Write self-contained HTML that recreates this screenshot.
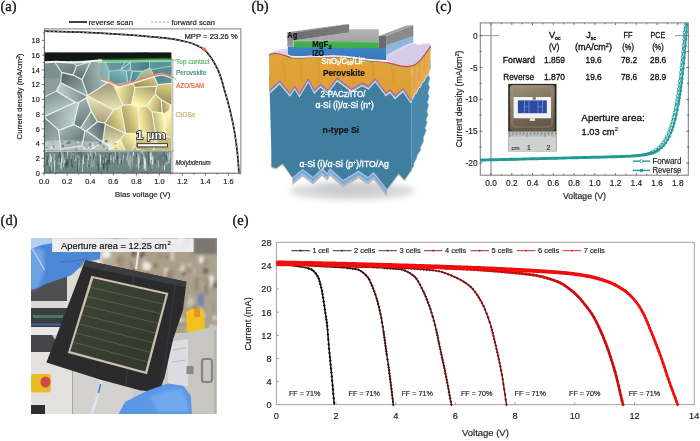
<!DOCTYPE html>
<html><head><meta charset="utf-8"><title>Figure</title>
<style>
html,body{margin:0;padding:0;background:#fff;}
body{width:700px;height:441px;overflow:hidden;}
svg{display:block;}
text{font-family:"Liberation Sans", Arial, sans-serif;}
.serif{font-family:"Liberation Serif", "Times New Roman", serif;}
</style></head><body>
<svg width="700" height="441" viewBox="0 0 700 441">
<defs>
<filter id="blur1" filterUnits="userSpaceOnUse" x="0" y="0" width="700" height="441"><feGaussianBlur stdDeviation="0.6"/></filter>
<filter id="blur2" filterUnits="userSpaceOnUse" x="0" y="0" width="700" height="441"><feGaussianBlur stdDeviation="1.5"/></filter>
<filter id="blur3" filterUnits="userSpaceOnUse" x="0" y="0" width="700" height="441"><feGaussianBlur stdDeviation="3"/></filter>
<filter id="blur5" filterUnits="userSpaceOnUse" x="0" y="0" width="700" height="441"><feGaussianBlur stdDeviation="5"/></filter>
<clipPath id="semclip"><rect x="44.6" y="52.4" width="126.7" height="120.6"/></clipPath>
<clipPath id="photod"><rect x="31" y="238" width="186" height="176"/></clipPath>
<clipPath id="insetc"><rect x="508.2" y="83.7" width="48.3" height="67.7"/></clipPath>
</defs>
<rect width="700" height="441" fill="#fff"/>

<text class="serif" x="0.5" y="10.9" font-size="14.5" fill="#111" stroke="#111" stroke-width="0.3">(a)</text>
<text class="serif" x="251.6" y="11.1" font-size="14.5" fill="#111" stroke="#111" stroke-width="0.3">(b)</text>
<text class="serif" x="435.5" y="11.1" font-size="14.5" fill="#111" stroke="#111" stroke-width="0.3">(c)</text>
<text class="serif" x="0.6" y="225" font-size="14.5" fill="#111" stroke="#111" stroke-width="0.3">(d)</text>
<text class="serif" x="232.4" y="225.2" font-size="14.5" fill="#111" stroke="#111" stroke-width="0.3">(e)</text>
<g clip-path="url(#semclip)">
<rect x="44" y="52" width="128" height="122" fill="#8c9a9a"/>
<linearGradient id="cigs" x1="0" y1="0" x2="1" y2="0"><stop offset="0" stop-color="#8b9c9e"/><stop offset="0.45" stop-color="#93a09c"/><stop offset="0.62" stop-color="#b9b078"/><stop offset="1" stop-color="#c9bb78"/></linearGradient>
<rect x="44" y="75" width="128" height="80" fill="url(#cigs)"/>
<linearGradient id="pvk" x1="0" y1="0" x2="1" y2="0"><stop offset="0" stop-color="#7d8f90"/><stop offset="0.5" stop-color="#6f9297"/><stop offset="1" stop-color="#4f8f98"/></linearGradient>
<path d="M44,60 L172,58 L172,74 L160,73 L140,79 L118,86 L102,77 L80,79 L44,78 Z" fill="url(#pvk)"/>
<linearGradient id="g0" x1="1.00" y1="0.57" x2="0.00" y2="0.43"><stop offset="0" stop-color="rgb(197,218,218)"/><stop offset="1" stop-color="rgb(127,141,141)"/></linearGradient>
<polygon points="58.8,130.4 73.7,124.7 79,102.2 75.4,102.2 43.8,116.8" fill="url(#g0)" stroke="rgba(240,245,240,0.85)" stroke-width="1.1"/>
<linearGradient id="g1" x1="0.00" y1="0.46" x2="1.00" y2="0.54"><stop offset="0" stop-color="rgb(175,196,196)"/><stop offset="1" stop-color="rgb(112,126,126)"/></linearGradient>
<polygon points="97.6,121.7 91.3,111 80.5,127.9 84.9,131.1 86.5,130.8" fill="url(#g1)" stroke="rgba(240,245,240,0.85)" stroke-width="1.1"/>
<linearGradient id="g2" x1="0.94" y1="0.74" x2="0.06" y2="0.26"><stop offset="0" stop-color="rgb(117,184,194)"/><stop offset="1" stop-color="rgb(72,118,124)"/></linearGradient>
<polygon points="126.3,71.2 130.6,70.2 130.4,61.9 121,69.8" fill="url(#g2)" stroke="rgba(240,245,240,0.85)" stroke-width="1.1"/>
<linearGradient id="g4" x1="0.87" y1="0.83" x2="0.13" y2="0.17"><stop offset="0" stop-color="rgb(146,168,168)"/><stop offset="1" stop-color="rgb(92,107,107)"/></linearGradient>
<polygon points="87.5,95.8 87.2,96.2 60.6,82.8 61.6,72.4 73.2,75.1 82,79.5 87.7,95.4" fill="url(#g4)" stroke="rgba(240,245,240,0.85)" stroke-width="1.1"/>
<linearGradient id="g6" x1="0.04" y1="0.32" x2="0.96" y2="0.68"><stop offset="0" stop-color="rgb(255,242,163)"/><stop offset="1" stop-color="rgb(168,157,104)"/></linearGradient>
<polygon points="162.3,112.7 152.2,111.9 146.3,105.7 155.4,94.2 161.3,99.8" fill="url(#g6)" stroke="rgba(240,245,240,0.85)" stroke-width="1.1"/>
<linearGradient id="g7" x1="0.99" y1="0.39" x2="0.01" y2="0.61"><stop offset="0" stop-color="rgb(128,195,204)"/><stop offset="1" stop-color="rgb(80,125,132)"/></linearGradient>
<polygon points="126.3,71.2 127.7,82.5 129.8,82.8 132.6,71.4 130.6,70.2" fill="url(#g7)" stroke="rgba(240,245,240,0.85)" stroke-width="1.1"/>
<linearGradient id="g8" x1="0.80" y1="0.10" x2="0.20" y2="0.90"><stop offset="0" stop-color="rgb(255,244,165)"/><stop offset="1" stop-color="rgb(169,159,105)"/></linearGradient>
<polygon points="136.1,133.5 125.5,133 125.1,133.2 120.3,139.6 127.5,155.3 135,146.3" fill="url(#g8)" stroke="rgba(240,245,240,0.85)" stroke-width="1.1"/>
<linearGradient id="g9" x1="0.54" y1="1.00" x2="0.46" y2="0.00"><stop offset="0" stop-color="rgb(242,235,185)"/><stop offset="1" stop-color="rgb(157,152,119)"/></linearGradient>
<polygon points="105.3,124.1 125.1,133.2 120.3,139.6 108.9,146.3 102.8,142.4 102.6,142.1" fill="url(#g9)" stroke="rgba(240,245,240,0.85)" stroke-width="1.1"/>
<linearGradient id="g10" x1="0.04" y1="0.31" x2="0.96" y2="0.69"><stop offset="0" stop-color="rgb(96,163,172)"/><stop offset="1" stop-color="rgb(58,104,110)"/></linearGradient>
<polygon points="130.6,70.2 132.6,71.4 142.7,71.4 149.8,68.2 145.9,5.7 133.4,48.1 130.4,61.9" fill="url(#g10)" stroke="rgba(240,245,240,0.85)" stroke-width="1.1"/>
<linearGradient id="g11" x1="0.01" y1="0.61" x2="0.99" y2="0.39"><stop offset="0" stop-color="rgb(255,244,165)"/><stop offset="1" stop-color="rgb(169,159,105)"/></linearGradient>
<polygon points="155.9,135.9 152.2,111.9 146.3,105.7 138.4,107.5 139,132.3" fill="url(#g11)" stroke="rgba(240,245,240,0.85)" stroke-width="1.1"/>
<linearGradient id="g13" x1="0.98" y1="0.36" x2="0.02" y2="0.64"><stop offset="0" stop-color="rgb(238,223,144)"/><stop offset="1" stop-color="rgb(155,144,91)"/></linearGradient>
<polygon points="162.3,112.7 161.3,99.8 171.2,104.9 169.5,110.6 164.4,113.8" fill="url(#g13)" stroke="rgba(240,245,240,0.85)" stroke-width="1.1"/>
<linearGradient id="g14" x1="0.71" y1="0.05" x2="0.29" y2="0.95"><stop offset="0" stop-color="rgb(255,241,162)"/><stop offset="1" stop-color="rgb(167,156,103)"/></linearGradient>
<polygon points="155.9,135.9 139,132.3 136.1,133.5 135,146.3 137.7,149.4 152.5,152 158.2,137.2" fill="url(#g14)" stroke="rgba(240,245,240,0.85)" stroke-width="1.1"/>
<linearGradient id="g16" x1="0.69" y1="0.04" x2="0.31" y2="0.96"><stop offset="0" stop-color="rgb(165,187,187)"/><stop offset="1" stop-color="rgb(105,120,120)"/></linearGradient>
<polygon points="86.5,130.8 84.9,131.1 81.9,145.6 88.3,150.7 102.8,142.4 102.6,142.1" fill="url(#g16)" stroke="rgba(240,245,240,0.85)" stroke-width="1.1"/>
<linearGradient id="g18" x1="0.91" y1="0.78" x2="0.09" y2="0.22"><stop offset="0" stop-color="rgb(115,182,191)"/><stop offset="1" stop-color="rgb(71,116,123)"/></linearGradient>
<polygon points="150.9,69.7 249.9,52.1 204.8,74.1 184.5,82.1 157.6,84.7" fill="url(#g18)" stroke="rgba(240,245,240,0.85)" stroke-width="1.1"/>
<linearGradient id="g20" x1="0.86" y1="0.15" x2="0.14" y2="0.85"><stop offset="0" stop-color="rgb(241,225,146)"/><stop offset="1" stop-color="rgb(156,146,92)"/></linearGradient>
<polygon points="184.5,82.1 172.4,104.2 179.8,108.3 204.8,74.1" fill="url(#g20)" stroke="rgba(240,245,240,0.85)" stroke-width="1.1"/>
<linearGradient id="g21" x1="0.01" y1="0.42" x2="0.99" y2="0.58"><stop offset="0" stop-color="rgb(255,249,170)"/><stop offset="1" stop-color="rgb(172,162,108)"/></linearGradient>
<polygon points="127.7,82.5 113.6,85 122.9,105.3 131.5,104.6 135.1,87.5 133.1,84.5 129.8,82.8" fill="url(#g21)" stroke="rgba(240,245,240,0.85)" stroke-width="1.1"/>
<linearGradient id="g22" x1="0.55" y1="1.00" x2="0.45" y2="0.00"><stop offset="0" stop-color="rgb(235,228,178)"/><stop offset="1" stop-color="rgb(152,148,114)"/></linearGradient>
<polygon points="120.8,107.5 113.6,110 87.5,95.8 87.7,95.4 109,81.8 113.6,85 122.9,105.3" fill="url(#g22)" stroke="rgba(240,245,240,0.85)" stroke-width="1.1"/>
<linearGradient id="g23" x1="0.41" y1="0.01" x2="0.59" y2="0.99"><stop offset="0" stop-color="rgb(162,183,183)"/><stop offset="1" stop-color="rgb(103,117,117)"/></linearGradient>
<polygon points="79,102.2 86.2,97.8 91.3,111 80.5,127.9 73.7,124.7" fill="url(#g23)" stroke="rgba(240,245,240,0.85)" stroke-width="1.1"/>
<linearGradient id="g24" x1="0.46" y1="0.00" x2="0.54" y2="1.00"><stop offset="0" stop-color="rgb(255,251,172)"/><stop offset="1" stop-color="rgb(174,164,110)"/></linearGradient>
<polygon points="120.3,139.6 108.9,146.3 109.2,148.3 125.3,169.2 127.5,155.3" fill="url(#g24)" stroke="rgba(240,245,240,0.85)" stroke-width="1.1"/>
<linearGradient id="g27" x1="0.96" y1="0.30" x2="0.04" y2="0.70"><stop offset="0" stop-color="rgb(105,172,182)"/><stop offset="1" stop-color="rgb(64,110,116)"/></linearGradient>
<polygon points="129.8,82.8 133.1,84.5 142.7,71.4 132.6,71.4" fill="url(#g27)" stroke="rgba(240,245,240,0.85)" stroke-width="1.1"/>
<linearGradient id="g29" x1="0.10" y1="0.20" x2="0.90" y2="0.80"><stop offset="0" stop-color="rgb(255,246,166)"/><stop offset="1" stop-color="rgb(170,160,106)"/></linearGradient>
<polygon points="164.4,113.8 165.3,136.4 174.8,138.1 197,140 188,127.2 169.5,110.6" fill="url(#g29)" stroke="rgba(240,245,240,0.85)" stroke-width="1.1"/>
<linearGradient id="g30" x1="0.75" y1="0.07" x2="0.25" y2="0.93"><stop offset="0" stop-color="rgb(242,227,148)"/><stop offset="1" stop-color="rgb(157,147,93)"/></linearGradient>
<polygon points="142.7,71.4 133.1,84.5 135.1,87.5 156.7,86.2 157.6,84.7 150.9,69.7 149.8,68.2" fill="url(#g30)" stroke="rgba(240,245,240,0.85)" stroke-width="1.1"/>
<linearGradient id="g31" x1="0.96" y1="0.31" x2="0.04" y2="0.69"><stop offset="0" stop-color="rgb(255,253,174)"/><stop offset="1" stop-color="rgb(175,164,111)"/></linearGradient>
<polygon points="155.9,135.9 152.2,111.9 162.3,112.7 164.4,113.8 165.3,136.4 158.2,137.2" fill="url(#g31)" stroke="rgba(240,245,240,0.85)" stroke-width="1.1"/>
<linearGradient id="g32" x1="0.26" y1="0.06" x2="0.74" y2="0.94"><stop offset="0" stop-color="rgb(178,202,202)"/><stop offset="1" stop-color="rgb(114,130,130)"/></linearGradient>
<polygon points="73.2,75.1 61.6,72.4 36,34 76.6,65.6" fill="url(#g32)" stroke="rgba(240,245,240,0.85)" stroke-width="1.1"/>
<linearGradient id="g34" x1="0.79" y1="0.90" x2="0.21" y2="0.10"><stop offset="0" stop-color="rgb(163,184,184)"/><stop offset="1" stop-color="rgb(104,118,118)"/></linearGradient>
<polygon points="58.8,130.4 60.7,149 55.7,160 37.5,140.6 27.8,110 43.8,116.8" fill="url(#g34)" stroke="rgba(240,245,240,0.85)" stroke-width="1.1"/>
<linearGradient id="g35" x1="0.98" y1="0.35" x2="0.02" y2="0.65"><stop offset="0" stop-color="rgb(179,203,203)"/><stop offset="1" stop-color="rgb(115,131,131)"/></linearGradient>
<polygon points="109,81.8 109.2,71.3 99.8,48.3 90.4,61.7 82,79.5 87.7,95.4" fill="url(#g35)" stroke="rgba(240,245,240,0.85)" stroke-width="1.1"/>
<linearGradient id="g36" x1="0.14" y1="0.16" x2="0.86" y2="0.84"><stop offset="0" stop-color="rgb(157,178,178)"/><stop offset="1" stop-color="rgb(100,114,114)"/></linearGradient>
<polygon points="81.9,145.6 60.7,149 58.8,130.4 73.7,124.7 80.5,127.9 84.9,131.1" fill="url(#g36)" stroke="rgba(240,245,240,0.85)" stroke-width="1.1"/>
<linearGradient id="g38" x1="0.32" y1="0.03" x2="0.68" y2="0.97"><stop offset="0" stop-color="rgb(123,190,199)"/><stop offset="1" stop-color="rgb(76,122,128)"/></linearGradient>
<polygon points="121,69.8 120.6,69.8 133.4,48.1 130.4,61.9" fill="url(#g38)" stroke="rgba(240,245,240,0.85)" stroke-width="1.1"/>
<linearGradient id="g39" x1="0.24" y1="0.92" x2="0.76" y2="0.08"><stop offset="0" stop-color="rgb(255,251,172)"/><stop offset="1" stop-color="rgb(174,164,110)"/></linearGradient>
<polygon points="156.7,86.2 155.4,94.2 146.3,105.7 138.4,107.5 131.5,104.6 135.1,87.5" fill="url(#g39)" stroke="rgba(240,245,240,0.85)" stroke-width="1.1"/>
<linearGradient id="g42" x1="0.59" y1="0.01" x2="0.41" y2="0.99"><stop offset="0" stop-color="rgb(144,168,168)"/><stop offset="1" stop-color="rgb(91,107,107)"/></linearGradient>
<polygon points="82,79.5 90.4,61.7 76.6,65.6 73.2,75.1" fill="url(#g42)" stroke="rgba(240,245,240,0.85)" stroke-width="1.1"/>
<linearGradient id="g44" x1="0.81" y1="0.89" x2="0.19" y2="0.11"><stop offset="0" stop-color="rgb(188,209,209)"/><stop offset="1" stop-color="rgb(120,135,135)"/></linearGradient>
<polygon points="43.8,116.8 27.8,110 23.7,107.3 56.2,91.1 75.4,102.2" fill="url(#g44)" stroke="rgba(240,245,240,0.85)" stroke-width="1.1"/>
<linearGradient id="g45" x1="0.78" y1="0.09" x2="0.22" y2="0.91"><stop offset="0" stop-color="rgb(137,204,214)"/><stop offset="1" stop-color="rgb(86,132,138)"/></linearGradient>
<polygon points="126.3,71.2 127.7,82.5 113.6,85 109,81.8 109.2,71.3 120.6,69.8 121,69.8" fill="url(#g45)" stroke="rgba(240,245,240,0.85)" stroke-width="1.1"/>
<linearGradient id="g48" x1="0.63" y1="0.02" x2="0.37" y2="0.98"><stop offset="0" stop-color="rgb(231,216,137)"/><stop offset="1" stop-color="rgb(150,140,86)"/></linearGradient>
<polygon points="156.7,86.2 155.4,94.2 161.3,99.8 171.2,104.9 172.4,104.2 184.5,82.1 157.6,84.7" fill="url(#g48)" stroke="rgba(240,245,240,0.85)" stroke-width="1.1"/>
<linearGradient id="g49" x1="0.57" y1="0.00" x2="0.43" y2="1.00"><stop offset="0" stop-color="rgb(246,238,189)"/><stop offset="1" stop-color="rgb(160,155,121)"/></linearGradient>
<polygon points="104.9,123.3 113.6,110 87.5,95.8 87.2,96.2 86.2,97.8 91.3,111 97.6,121.7" fill="url(#g49)" stroke="rgba(240,245,240,0.85)" stroke-width="1.1"/>
<linearGradient id="g50" x1="0.93" y1="0.25" x2="0.07" y2="0.75"><stop offset="0" stop-color="rgb(243,228,149)"/><stop offset="1" stop-color="rgb(158,148,94)"/></linearGradient>
<polygon points="136.1,133.5 125.5,133 120.8,107.5 122.9,105.3 131.5,104.6 138.4,107.5 139,132.3" fill="url(#g50)" stroke="rgba(240,245,240,0.85)" stroke-width="1.1"/>
<linearGradient id="g51" x1="0.92" y1="0.23" x2="0.08" y2="0.77"><stop offset="0" stop-color="rgb(247,231,152)"/><stop offset="1" stop-color="rgb(160,150,96)"/></linearGradient>
<polygon points="104.9,123.3 113.6,110 120.8,107.5 125.5,133 125.1,133.2 105.3,124.1" fill="url(#g51)" stroke="rgba(240,245,240,0.85)" stroke-width="1.1"/>
<linearGradient id="g52" x1="0.22" y1="0.08" x2="0.78" y2="0.92"><stop offset="0" stop-color="rgb(255,255,178)"/><stop offset="1" stop-color="rgb(178,168,114)"/></linearGradient>
<polygon points="169.5,110.6 188,127.2 179.8,108.3 172.4,104.2 171.2,104.9" fill="url(#g52)" stroke="rgba(240,245,240,0.85)" stroke-width="1.1"/>
<linearGradient id="g53" x1="0.03" y1="0.67" x2="0.97" y2="0.33"><stop offset="0" stop-color="rgb(146,168,168)"/><stop offset="1" stop-color="rgb(92,107,107)"/></linearGradient>
<polygon points="104.9,123.3 97.6,121.7 86.5,130.8 102.6,142.1 105.3,124.1" fill="url(#g53)" stroke="rgba(240,245,240,0.85)" stroke-width="1.1"/>
<linearGradient id="g54" x1="0.00" y1="0.54" x2="1.00" y2="0.46"><stop offset="0" stop-color="rgb(191,212,212)"/><stop offset="1" stop-color="rgb(123,137,137)"/></linearGradient>
<polygon points="75.4,102.2 56.2,91.1 60.6,82.8 87.2,96.2 86.2,97.8 79,102.2" fill="url(#g54)" stroke="rgba(240,245,240,0.85)" stroke-width="1.1"/>
<path d="M100,61 L172,60 L172,76.6 L162,73.4 L148.4,76.8 L119,85.6 L100.7,78.6 Z" fill="#5e9ea6" opacity="0.4"/>
<path d="M44,52 L172,52 L172,60 L150,59.6 L130,60.4 L110,60.6 L90,60.6 L70,61 L44,61.2 Z" fill="#101915"/>
<path d="M98,60.2 Q120,60.4 140,59.8 T172,59.4" stroke="#3f9a50" stroke-width="3.2" fill="none" opacity="0.55"/>
<path d="M98,61 Q120,61.2 140,60.6 T172,60.2" stroke="#6ee07a" stroke-width="1.5" fill="none" opacity="0.95"/>
<path d="M98,62.2 Q120,62.4 140,61.8 T172,61.4" stroke="#e8f4ea" stroke-width="0.8" fill="none" opacity="0.8"/>
<path d="M44,62.4 Q55,61.2 66,62.2 T88,61.6 T102,60.6" stroke="#f4f6f4" stroke-width="2" fill="none"/>
<path d="M100.7,78.6 Q110,81 119,85.6 Q134,82 148.4,76.8 Q156,74 162,73.4 L172,76.6" stroke="#e5866a" stroke-width="1.6" fill="none"/>
<path d="M100.7,80.2 Q110,82.6 119,87.2 Q134,83.6 148.4,78.4 Q156,75.6 162,75 L172,78.2" stroke="#f3ece6" stroke-width="1.2" fill="none"/>
<path d="M44,141 Q70,139 100,142 L112,143 L112,151 L44,151 Z" fill="#e4ecea" opacity="0.45"/>
<circle cx="76.1" cy="149.5" r="1.5" fill="#7d9290" opacity="0.8"/>
<circle cx="46.4" cy="144.6" r="1.4" fill="#c9d5d3" opacity="0.8"/>
<circle cx="84.2" cy="148.9" r="1.5" fill="#c9d5d3" opacity="0.8"/>
<circle cx="52.9" cy="142.4" r="0.6" fill="#7d9290" opacity="0.8"/>
<circle cx="110.3" cy="149" r="1.2" fill="#f2f6f5" opacity="0.8"/>
<circle cx="79.6" cy="141.2" r="1.1" fill="#7d9290" opacity="0.8"/>
<circle cx="93.1" cy="145.2" r="1" fill="#f2f6f5" opacity="0.8"/>
<circle cx="69.3" cy="142.5" r="1.5" fill="#5d706f" opacity="0.8"/>
<circle cx="104.1" cy="140.6" r="0.8" fill="#f2f6f5" opacity="0.8"/>
<circle cx="83.6" cy="148.2" r="0.8" fill="#c9d5d3" opacity="0.8"/>
<circle cx="112.2" cy="148.1" r="1.4" fill="#f2f6f5" opacity="0.8"/>
<circle cx="80.1" cy="145.7" r="1" fill="#c9d5d3" opacity="0.8"/>
<circle cx="62.4" cy="146.2" r="1.1" fill="#f2f6f5" opacity="0.8"/>
<circle cx="79" cy="147.8" r="0.6" fill="#f2f6f5" opacity="0.8"/>
<circle cx="101.4" cy="140.5" r="0.6" fill="#5d706f" opacity="0.8"/>
<circle cx="116.1" cy="148.5" r="0.7" fill="#5d706f" opacity="0.8"/>
<circle cx="67.4" cy="143.1" r="1" fill="#5d706f" opacity="0.8"/>
<circle cx="87.4" cy="143.6" r="0.8" fill="#c9d5d3" opacity="0.8"/>
<circle cx="75.7" cy="141.3" r="0.6" fill="#5d706f" opacity="0.8"/>
<circle cx="102.9" cy="145.7" r="0.6" fill="#5d706f" opacity="0.8"/>
<circle cx="88.7" cy="147.8" r="1" fill="#f2f6f5" opacity="0.8"/>
<circle cx="90.1" cy="144.3" r="1" fill="#5d706f" opacity="0.8"/>
<circle cx="100.2" cy="143.1" r="1.6" fill="#5d706f" opacity="0.8"/>
<circle cx="78.1" cy="142.5" r="1.1" fill="#f2f6f5" opacity="0.8"/>
<circle cx="103.4" cy="142.2" r="0.7" fill="#f2f6f5" opacity="0.8"/>
<circle cx="113.3" cy="143.7" r="1.5" fill="#c9d5d3" opacity="0.8"/>
<circle cx="53" cy="146.9" r="1.5" fill="#5d706f" opacity="0.8"/>
<circle cx="93.4" cy="147.3" r="1.2" fill="#f2f6f5" opacity="0.8"/>
<circle cx="104.1" cy="147.2" r="1.1" fill="#7d9290" opacity="0.8"/>
<circle cx="101.3" cy="140.4" r="0.7" fill="#f2f6f5" opacity="0.8"/>
<circle cx="92.8" cy="143.8" r="1.4" fill="#c9d5d3" opacity="0.8"/>
<circle cx="106.3" cy="141.2" r="1.4" fill="#5d706f" opacity="0.8"/>
<circle cx="105.9" cy="149.5" r="1.2" fill="#f2f6f5" opacity="0.8"/>
<circle cx="46.7" cy="147.7" r="1.1" fill="#7d9290" opacity="0.8"/>
<circle cx="51.9" cy="147.5" r="1.5" fill="#f2f6f5" opacity="0.8"/>
<circle cx="84.7" cy="148.7" r="0.8" fill="#f2f6f5" opacity="0.8"/>
<circle cx="61.9" cy="141.8" r="0.8" fill="#5d706f" opacity="0.8"/>
<circle cx="62.7" cy="146" r="1.5" fill="#5d706f" opacity="0.8"/>
<circle cx="115.5" cy="143.8" r="0.8" fill="#5d706f" opacity="0.8"/>
<circle cx="106.4" cy="149.7" r="1" fill="#5d706f" opacity="0.8"/>
<rect x="44" y="150.5" width="128" height="23" fill="#6f8584"/>
<line x1="64" y1="154.5" x2="63.5" y2="167.3" stroke="#d3dfdd" stroke-width="0.8" opacity="0.85"/>
<line x1="161.3" y1="155.7" x2="161.8" y2="163.5" stroke="#3a4d4f" stroke-width="0.5" opacity="0.85"/>
<line x1="140.3" y1="152" x2="140.7" y2="160.6" stroke="#d3dfdd" stroke-width="0.7" opacity="0.85"/>
<line x1="143.8" y1="157.2" x2="144.2" y2="169.6" stroke="#f7fbfa" stroke-width="0.8" opacity="0.85"/>
<line x1="78.2" y1="152.7" x2="78.6" y2="155.9" stroke="#9fb2b1" stroke-width="0.5" opacity="0.85"/>
<line x1="116.9" y1="152.9" x2="116.5" y2="161.2" stroke="#52696a" stroke-width="1" opacity="0.85"/>
<line x1="105.4" y1="156.5" x2="105.9" y2="164.6" stroke="#52696a" stroke-width="0.8" opacity="0.85"/>
<line x1="47.6" y1="160.4" x2="47.9" y2="164.2" stroke="#9fb2b1" stroke-width="0.9" opacity="0.85"/>
<line x1="49.9" y1="159.6" x2="50.1" y2="172.4" stroke="#3a4d4f" stroke-width="0.8" opacity="0.85"/>
<line x1="166.7" y1="159" x2="167" y2="164.7" stroke="#d3dfdd" stroke-width="0.5" opacity="0.85"/>
<line x1="123.6" y1="157.3" x2="123.2" y2="160.7" stroke="#2c3d3e" stroke-width="0.4" opacity="0.85"/>
<line x1="67.5" y1="151.4" x2="67" y2="163.2" stroke="#eef4f2" stroke-width="0.9" opacity="0.85"/>
<line x1="81.3" y1="154.1" x2="81.1" y2="163.4" stroke="#3a4d4f" stroke-width="0.4" opacity="0.85"/>
<line x1="86.4" y1="154.3" x2="86.5" y2="158.2" stroke="#3a4d4f" stroke-width="1" opacity="0.85"/>
<line x1="94" y1="155.9" x2="93.5" y2="160.3" stroke="#2c3d3e" stroke-width="0.7" opacity="0.85"/>
<line x1="100.1" y1="155.8" x2="100.6" y2="161.5" stroke="#f7fbfa" stroke-width="0.6" opacity="0.85"/>
<line x1="142.9" y1="158.1" x2="143.1" y2="164.3" stroke="#3a4d4f" stroke-width="1" opacity="0.85"/>
<line x1="148.6" y1="151.6" x2="148.8" y2="165" stroke="#2c3d3e" stroke-width="0.7" opacity="0.85"/>
<line x1="58.5" y1="155.4" x2="58.3" y2="162.3" stroke="#3a4d4f" stroke-width="0.8" opacity="0.85"/>
<line x1="139" y1="157" x2="138.6" y2="168" stroke="#d3dfdd" stroke-width="0.9" opacity="0.85"/>
<line x1="127.9" y1="151.7" x2="128.4" y2="165" stroke="#d3dfdd" stroke-width="0.8" opacity="0.85"/>
<line x1="127.1" y1="154.7" x2="127.1" y2="161" stroke="#d3dfdd" stroke-width="0.6" opacity="0.85"/>
<line x1="66.6" y1="151.2" x2="66.6" y2="162.1" stroke="#52696a" stroke-width="0.7" opacity="0.85"/>
<line x1="94.2" y1="151.5" x2="94.6" y2="157.5" stroke="#eef4f2" stroke-width="0.4" opacity="0.85"/>
<line x1="108.6" y1="153" x2="109.1" y2="164.4" stroke="#2c3d3e" stroke-width="1" opacity="0.85"/>
<line x1="101.4" y1="158.6" x2="101.8" y2="162.4" stroke="#9fb2b1" stroke-width="0.5" opacity="0.85"/>
<line x1="78.6" y1="151.5" x2="79.1" y2="155.7" stroke="#52696a" stroke-width="0.5" opacity="0.85"/>
<line x1="133.4" y1="156.2" x2="133.7" y2="166.5" stroke="#9fb2b1" stroke-width="0.8" opacity="0.85"/>
<line x1="119.8" y1="152" x2="119.8" y2="159.3" stroke="#d3dfdd" stroke-width="0.5" opacity="0.85"/>
<line x1="66.9" y1="159.2" x2="66.3" y2="166.3" stroke="#2c3d3e" stroke-width="0.9" opacity="0.85"/>
<line x1="158.1" y1="160" x2="158.6" y2="167.2" stroke="#f7fbfa" stroke-width="0.6" opacity="0.85"/>
<line x1="107.7" y1="155.8" x2="107.9" y2="166.6" stroke="#52696a" stroke-width="0.4" opacity="0.85"/>
<line x1="68.4" y1="156.8" x2="68.6" y2="161" stroke="#52696a" stroke-width="0.7" opacity="0.85"/>
<line x1="111" y1="155.1" x2="110.7" y2="160.2" stroke="#f7fbfa" stroke-width="0.9" opacity="0.85"/>
<line x1="162.5" y1="160" x2="163.1" y2="164.2" stroke="#2c3d3e" stroke-width="0.9" opacity="0.85"/>
<line x1="61.4" y1="158.4" x2="60.8" y2="168.3" stroke="#eef4f2" stroke-width="0.8" opacity="0.85"/>
<line x1="108.8" y1="155.5" x2="108.5" y2="158.7" stroke="#2c3d3e" stroke-width="0.9" opacity="0.85"/>
<line x1="132.9" y1="151.8" x2="133.2" y2="164.3" stroke="#f7fbfa" stroke-width="0.4" opacity="0.85"/>
<line x1="54.2" y1="160.4" x2="54.8" y2="173" stroke="#d3dfdd" stroke-width="0.9" opacity="0.85"/>
<line x1="99.9" y1="158.1" x2="100.3" y2="166.4" stroke="#eef4f2" stroke-width="0.6" opacity="0.85"/>
<line x1="152.2" y1="157.6" x2="152.4" y2="164.9" stroke="#9fb2b1" stroke-width="0.7" opacity="0.85"/>
<line x1="98" y1="157" x2="98" y2="163.3" stroke="#9fb2b1" stroke-width="0.8" opacity="0.85"/>
<line x1="100.1" y1="155.1" x2="100" y2="158.5" stroke="#2c3d3e" stroke-width="0.6" opacity="0.85"/>
<line x1="111.8" y1="156.5" x2="112.1" y2="161.9" stroke="#eef4f2" stroke-width="0.6" opacity="0.85"/>
<line x1="91.3" y1="159.1" x2="91" y2="167.9" stroke="#d3dfdd" stroke-width="0.5" opacity="0.85"/>
<line x1="95.7" y1="152.2" x2="95.8" y2="155.5" stroke="#eef4f2" stroke-width="0.7" opacity="0.85"/>
<line x1="67.7" y1="158.9" x2="67.5" y2="166.4" stroke="#2c3d3e" stroke-width="0.8" opacity="0.85"/>
<line x1="50.5" y1="154.5" x2="51" y2="161.9" stroke="#eef4f2" stroke-width="0.9" opacity="0.85"/>
<line x1="74.9" y1="154.4" x2="75.1" y2="159.5" stroke="#2c3d3e" stroke-width="0.6" opacity="0.85"/>
<line x1="59.9" y1="151" x2="60.4" y2="162" stroke="#2c3d3e" stroke-width="1" opacity="0.85"/>
<line x1="145" y1="160.1" x2="144.7" y2="168.5" stroke="#f7fbfa" stroke-width="0.9" opacity="0.85"/>
<line x1="124.5" y1="153.9" x2="124.4" y2="158" stroke="#3a4d4f" stroke-width="0.5" opacity="0.85"/>
<line x1="123.1" y1="151.5" x2="122.7" y2="162" stroke="#eef4f2" stroke-width="0.4" opacity="0.85"/>
<line x1="50.9" y1="157" x2="51.4" y2="169.9" stroke="#d3dfdd" stroke-width="0.9" opacity="0.85"/>
<line x1="87.5" y1="155.3" x2="87" y2="162.2" stroke="#3a4d4f" stroke-width="0.6" opacity="0.85"/>
<line x1="121.7" y1="160" x2="121.3" y2="163.9" stroke="#2c3d3e" stroke-width="0.6" opacity="0.85"/>
<line x1="109" y1="156" x2="109.5" y2="164.9" stroke="#52696a" stroke-width="0.5" opacity="0.85"/>
<line x1="138.7" y1="157.8" x2="138.5" y2="170" stroke="#f7fbfa" stroke-width="0.5" opacity="0.85"/>
<line x1="146.6" y1="154.9" x2="146.6" y2="162.8" stroke="#3a4d4f" stroke-width="0.6" opacity="0.85"/>
<line x1="65.7" y1="157.7" x2="66" y2="167.4" stroke="#3a4d4f" stroke-width="1" opacity="0.85"/>
<line x1="49.5" y1="152.2" x2="49.4" y2="163.5" stroke="#52696a" stroke-width="0.9" opacity="0.85"/>
<line x1="130.7" y1="151.5" x2="131.1" y2="157.1" stroke="#52696a" stroke-width="0.4" opacity="0.85"/>
<line x1="122.4" y1="151" x2="122.6" y2="159.1" stroke="#52696a" stroke-width="0.6" opacity="0.85"/>
<line x1="91.4" y1="151.2" x2="91.2" y2="158.6" stroke="#eef4f2" stroke-width="0.6" opacity="0.85"/>
<line x1="101.6" y1="158.7" x2="101.1" y2="164" stroke="#3a4d4f" stroke-width="0.5" opacity="0.85"/>
<line x1="126.5" y1="156.4" x2="126.2" y2="159.5" stroke="#d3dfdd" stroke-width="0.5" opacity="0.85"/>
<line x1="152.9" y1="155.7" x2="152.7" y2="164.2" stroke="#f7fbfa" stroke-width="0.9" opacity="0.85"/>
<line x1="144.1" y1="155.2" x2="144.5" y2="165" stroke="#eef4f2" stroke-width="0.5" opacity="0.85"/>
<line x1="47.1" y1="160.2" x2="46.6" y2="165.4" stroke="#2c3d3e" stroke-width="0.7" opacity="0.85"/>
<line x1="72.5" y1="158.8" x2="72.5" y2="168.6" stroke="#3a4d4f" stroke-width="0.8" opacity="0.85"/>
<line x1="133.5" y1="154.5" x2="133.1" y2="164.8" stroke="#52696a" stroke-width="0.9" opacity="0.85"/>
<line x1="120.1" y1="158.6" x2="119.5" y2="163.9" stroke="#f7fbfa" stroke-width="0.6" opacity="0.85"/>
<line x1="126.3" y1="153.9" x2="125.7" y2="159" stroke="#52696a" stroke-width="0.7" opacity="0.85"/>
<line x1="138.1" y1="154.7" x2="138.1" y2="164.9" stroke="#f7fbfa" stroke-width="0.5" opacity="0.85"/>
<line x1="151.3" y1="151.1" x2="150.8" y2="156.7" stroke="#9fb2b1" stroke-width="0.5" opacity="0.85"/>
<line x1="65.2" y1="159.8" x2="65.6" y2="170.8" stroke="#52696a" stroke-width="0.8" opacity="0.85"/>
<line x1="103.3" y1="157.6" x2="103.9" y2="170" stroke="#2c3d3e" stroke-width="0.9" opacity="0.85"/>
<line x1="165.5" y1="155.3" x2="165.5" y2="166.8" stroke="#9fb2b1" stroke-width="0.8" opacity="0.85"/>
<line x1="48.5" y1="160.1" x2="47.9" y2="163.3" stroke="#eef4f2" stroke-width="0.5" opacity="0.85"/>
<line x1="108.5" y1="151.1" x2="108.7" y2="159.3" stroke="#d3dfdd" stroke-width="0.6" opacity="0.85"/>
<line x1="99.3" y1="153.9" x2="99.7" y2="165.1" stroke="#3a4d4f" stroke-width="0.5" opacity="0.85"/>
<line x1="100.8" y1="159.6" x2="100.4" y2="167.5" stroke="#d3dfdd" stroke-width="0.9" opacity="0.85"/>
<line x1="133.7" y1="160.3" x2="133.5" y2="173" stroke="#3a4d4f" stroke-width="0.5" opacity="0.85"/>
<line x1="83.9" y1="155.1" x2="83.6" y2="163.9" stroke="#f7fbfa" stroke-width="1" opacity="0.85"/>
<line x1="80.9" y1="150.8" x2="81.3" y2="157.9" stroke="#2c3d3e" stroke-width="0.6" opacity="0.85"/>
<line x1="75.1" y1="158.6" x2="75.2" y2="161.7" stroke="#d3dfdd" stroke-width="0.5" opacity="0.85"/>
<line x1="46.7" y1="160" x2="47" y2="163" stroke="#52696a" stroke-width="0.6" opacity="0.85"/>
<line x1="167.6" y1="154.1" x2="167.2" y2="163.2" stroke="#9fb2b1" stroke-width="0.4" opacity="0.85"/>
<line x1="99.3" y1="153.9" x2="99.7" y2="157.4" stroke="#f7fbfa" stroke-width="0.7" opacity="0.85"/>
<line x1="77.5" y1="157.2" x2="77.2" y2="165.7" stroke="#3a4d4f" stroke-width="0.4" opacity="0.85"/>
<line x1="99" y1="156.8" x2="99.4" y2="167.2" stroke="#52696a" stroke-width="0.5" opacity="0.85"/>
<line x1="61.4" y1="158.1" x2="61.7" y2="169.8" stroke="#f7fbfa" stroke-width="0.6" opacity="0.85"/>
<line x1="61.1" y1="150.7" x2="61.3" y2="154.2" stroke="#9fb2b1" stroke-width="0.9" opacity="0.85"/>
<line x1="160" y1="155.2" x2="160.4" y2="165.5" stroke="#52696a" stroke-width="0.8" opacity="0.85"/>
<line x1="97" y1="155.7" x2="96.5" y2="160.6" stroke="#d3dfdd" stroke-width="0.5" opacity="0.85"/>
<line x1="150.5" y1="151.5" x2="150.5" y2="163" stroke="#9fb2b1" stroke-width="0.9" opacity="0.85"/>
<line x1="101.9" y1="160.1" x2="101.5" y2="164.8" stroke="#2c3d3e" stroke-width="0.4" opacity="0.85"/>
<line x1="106.2" y1="152.8" x2="106.3" y2="160.9" stroke="#f7fbfa" stroke-width="0.4" opacity="0.85"/>
<line x1="117.5" y1="156" x2="117.9" y2="164.4" stroke="#2c3d3e" stroke-width="0.9" opacity="0.85"/>
<line x1="78.3" y1="154.9" x2="78.3" y2="158.7" stroke="#eef4f2" stroke-width="0.9" opacity="0.85"/>
<line x1="166.9" y1="156.9" x2="166.5" y2="162.1" stroke="#2c3d3e" stroke-width="0.6" opacity="0.85"/>
<line x1="150" y1="153.7" x2="150.5" y2="159.6" stroke="#eef4f2" stroke-width="0.6" opacity="0.85"/>
<line x1="94.2" y1="153.3" x2="94.1" y2="157.8" stroke="#2c3d3e" stroke-width="0.9" opacity="0.85"/>
<line x1="107.4" y1="160.1" x2="107.4" y2="171.2" stroke="#3a4d4f" stroke-width="0.8" opacity="0.85"/>
<line x1="151.3" y1="156.8" x2="151.8" y2="168.8" stroke="#eef4f2" stroke-width="1" opacity="0.85"/>
<line x1="132.6" y1="154.8" x2="132.3" y2="168.6" stroke="#9fb2b1" stroke-width="0.7" opacity="0.85"/>
<line x1="50" y1="152.9" x2="49.6" y2="166.4" stroke="#d3dfdd" stroke-width="0.8" opacity="0.85"/>
<line x1="132.3" y1="155.2" x2="131.9" y2="162.5" stroke="#eef4f2" stroke-width="0.4" opacity="0.85"/>
<line x1="141.2" y1="152.3" x2="140.8" y2="157.3" stroke="#52696a" stroke-width="0.5" opacity="0.85"/>
<line x1="111.1" y1="152" x2="110.6" y2="157.4" stroke="#52696a" stroke-width="0.6" opacity="0.85"/>
<line x1="170.4" y1="153.3" x2="170.2" y2="157.8" stroke="#d3dfdd" stroke-width="0.6" opacity="0.85"/>
<line x1="164.1" y1="156.5" x2="164.6" y2="169.8" stroke="#eef4f2" stroke-width="1" opacity="0.85"/>
<line x1="169.4" y1="153" x2="169" y2="159.9" stroke="#9fb2b1" stroke-width="0.9" opacity="0.85"/>
<line x1="104.5" y1="157.9" x2="104.8" y2="166.7" stroke="#52696a" stroke-width="0.7" opacity="0.85"/>
<line x1="103.4" y1="155.9" x2="103.3" y2="163.7" stroke="#f7fbfa" stroke-width="0.6" opacity="0.85"/>
<line x1="140.8" y1="153.5" x2="140.5" y2="164.7" stroke="#3a4d4f" stroke-width="1" opacity="0.85"/>
<line x1="151.5" y1="152.2" x2="151.1" y2="158.1" stroke="#d3dfdd" stroke-width="0.8" opacity="0.85"/>
<line x1="51.3" y1="156.6" x2="50.7" y2="161.6" stroke="#f7fbfa" stroke-width="0.9" opacity="0.85"/>
<line x1="145.6" y1="160.4" x2="145.9" y2="171" stroke="#f7fbfa" stroke-width="0.6" opacity="0.85"/>
<line x1="103.3" y1="156.3" x2="103.4" y2="162.9" stroke="#f7fbfa" stroke-width="0.6" opacity="0.85"/>
<line x1="108.8" y1="154.2" x2="109.1" y2="160.7" stroke="#2c3d3e" stroke-width="0.9" opacity="0.85"/>
<line x1="136.6" y1="153.9" x2="136.3" y2="164.5" stroke="#2c3d3e" stroke-width="1" opacity="0.85"/>
<line x1="78.5" y1="151.7" x2="79.1" y2="160.2" stroke="#3a4d4f" stroke-width="0.8" opacity="0.85"/>
<line x1="75.8" y1="154.8" x2="75.8" y2="160.8" stroke="#d3dfdd" stroke-width="0.7" opacity="0.85"/>
<line x1="156" y1="160.4" x2="156.6" y2="169.2" stroke="#9fb2b1" stroke-width="0.4" opacity="0.85"/>
<line x1="97.4" y1="156" x2="96.9" y2="165.7" stroke="#2c3d3e" stroke-width="0.9" opacity="0.85"/>
<line x1="93.2" y1="160.3" x2="92.6" y2="167.3" stroke="#d3dfdd" stroke-width="0.7" opacity="0.85"/>
<line x1="59.1" y1="157.8" x2="58.9" y2="165.1" stroke="#f7fbfa" stroke-width="0.6" opacity="0.85"/>
<line x1="108.7" y1="154.5" x2="108.9" y2="161.6" stroke="#3a4d4f" stroke-width="0.5" opacity="0.85"/>
<line x1="107.4" y1="153.7" x2="107.5" y2="156.7" stroke="#eef4f2" stroke-width="0.5" opacity="0.85"/>
<line x1="54.4" y1="153.7" x2="53.9" y2="159.8" stroke="#eef4f2" stroke-width="0.8" opacity="0.85"/>
<line x1="84.2" y1="154.9" x2="84.6" y2="161.9" stroke="#3a4d4f" stroke-width="0.9" opacity="0.85"/>
<line x1="100.5" y1="157.3" x2="100.2" y2="161.7" stroke="#9fb2b1" stroke-width="0.5" opacity="0.85"/>
<line x1="83.3" y1="156" x2="83.4" y2="160.3" stroke="#d3dfdd" stroke-width="0.5" opacity="0.85"/>
<line x1="47.6" y1="154" x2="48.2" y2="157.1" stroke="#52696a" stroke-width="0.7" opacity="0.85"/>
<line x1="61.9" y1="152.5" x2="62.1" y2="162.5" stroke="#f7fbfa" stroke-width="0.8" opacity="0.85"/>
<line x1="99.8" y1="151.5" x2="100.3" y2="165.2" stroke="#3a4d4f" stroke-width="0.4" opacity="0.85"/>
<line x1="156.3" y1="158" x2="155.7" y2="164.5" stroke="#52696a" stroke-width="0.7" opacity="0.85"/>
<line x1="98" y1="159.4" x2="98.2" y2="171.5" stroke="#2c3d3e" stroke-width="0.9" opacity="0.85"/>
<line x1="72.9" y1="153.7" x2="72.4" y2="163.9" stroke="#eef4f2" stroke-width="0.7" opacity="0.85"/>
<line x1="159.6" y1="155.6" x2="159.1" y2="161.2" stroke="#52696a" stroke-width="0.5" opacity="0.85"/>
<line x1="104" y1="159.1" x2="103.8" y2="168" stroke="#2c3d3e" stroke-width="0.7" opacity="0.85"/>
<line x1="167" y1="152.8" x2="167.4" y2="162.1" stroke="#2c3d3e" stroke-width="0.5" opacity="0.85"/>
<line x1="112" y1="156.7" x2="112.5" y2="163.6" stroke="#52696a" stroke-width="0.8" opacity="0.85"/>
<line x1="136.5" y1="155.8" x2="136.4" y2="163.7" stroke="#3a4d4f" stroke-width="0.6" opacity="0.85"/>
<line x1="68.8" y1="159.2" x2="68.3" y2="164.6" stroke="#52696a" stroke-width="0.7" opacity="0.85"/>
<line x1="162.8" y1="155.5" x2="162.4" y2="167.8" stroke="#2c3d3e" stroke-width="0.4" opacity="0.85"/>
<line x1="107.8" y1="154.3" x2="108.1" y2="166.7" stroke="#52696a" stroke-width="0.5" opacity="0.85"/>
<line x1="91" y1="152.7" x2="90.7" y2="158.9" stroke="#2c3d3e" stroke-width="0.8" opacity="0.85"/>
<line x1="87.5" y1="151.6" x2="87.2" y2="157" stroke="#9fb2b1" stroke-width="0.5" opacity="0.85"/>
<line x1="105.8" y1="152.6" x2="106" y2="164.5" stroke="#2c3d3e" stroke-width="0.5" opacity="0.85"/>
<line x1="140.1" y1="154.4" x2="139.7" y2="163.4" stroke="#f7fbfa" stroke-width="0.6" opacity="0.85"/>
<line x1="91.9" y1="151.3" x2="91.9" y2="160.2" stroke="#9fb2b1" stroke-width="0.7" opacity="0.85"/>
<line x1="78.4" y1="159.5" x2="78.2" y2="170" stroke="#d3dfdd" stroke-width="0.7" opacity="0.85"/>
<line x1="106.1" y1="154.6" x2="105.7" y2="164.4" stroke="#52696a" stroke-width="0.8" opacity="0.85"/>
<line x1="87.4" y1="157.8" x2="87.2" y2="167.2" stroke="#eef4f2" stroke-width="0.5" opacity="0.85"/>
<line x1="82.1" y1="156.8" x2="82" y2="161.5" stroke="#9fb2b1" stroke-width="0.4" opacity="0.85"/>
<line x1="88.5" y1="156.8" x2="88.8" y2="166.7" stroke="#3a4d4f" stroke-width="0.7" opacity="0.85"/>
<line x1="82.8" y1="159.4" x2="82.5" y2="172.2" stroke="#f7fbfa" stroke-width="0.6" opacity="0.85"/>
<line x1="162.2" y1="157" x2="162.4" y2="170.2" stroke="#9fb2b1" stroke-width="0.8" opacity="0.85"/>
<line x1="88.9" y1="155.3" x2="88.6" y2="164.5" stroke="#d3dfdd" stroke-width="0.5" opacity="0.85"/>
<line x1="150.8" y1="157.6" x2="150.5" y2="164.2" stroke="#d3dfdd" stroke-width="0.8" opacity="0.85"/>
<line x1="66.1" y1="154.4" x2="66.1" y2="159.6" stroke="#9fb2b1" stroke-width="0.6" opacity="0.85"/>
<line x1="136.7" y1="156.6" x2="136.7" y2="167.3" stroke="#d3dfdd" stroke-width="0.5" opacity="0.85"/>
<line x1="56.9" y1="155.9" x2="57" y2="169" stroke="#52696a" stroke-width="0.6" opacity="0.85"/>
<line x1="79.1" y1="155.3" x2="79.6" y2="165.8" stroke="#d3dfdd" stroke-width="0.5" opacity="0.85"/>
<line x1="165.3" y1="155.3" x2="165.2" y2="163" stroke="#2c3d3e" stroke-width="0.8" opacity="0.85"/>
<line x1="77.9" y1="158.3" x2="77.5" y2="171.7" stroke="#3a4d4f" stroke-width="1" opacity="0.85"/>
<line x1="145.2" y1="157.8" x2="145.7" y2="170.8" stroke="#eef4f2" stroke-width="0.5" opacity="0.85"/>
<line x1="54.7" y1="160.3" x2="54.5" y2="167" stroke="#eef4f2" stroke-width="0.9" opacity="0.85"/>
<line x1="65.2" y1="157.2" x2="64.7" y2="163.1" stroke="#f7fbfa" stroke-width="0.9" opacity="0.85"/>
<line x1="100.5" y1="154.8" x2="100.4" y2="164" stroke="#f7fbfa" stroke-width="0.9" opacity="0.85"/>
<line x1="77" y1="155.9" x2="76.5" y2="165.4" stroke="#9fb2b1" stroke-width="0.4" opacity="0.85"/>
<line x1="99.2" y1="150.5" x2="99.2" y2="162.2" stroke="#d3dfdd" stroke-width="1" opacity="0.85"/>
<line x1="152.5" y1="157.8" x2="152.7" y2="164.9" stroke="#eef4f2" stroke-width="0.7" opacity="0.85"/>
<line x1="167.6" y1="154.1" x2="168.2" y2="158.4" stroke="#d3dfdd" stroke-width="0.8" opacity="0.85"/>
<line x1="106" y1="157.9" x2="105.8" y2="162.5" stroke="#f7fbfa" stroke-width="0.9" opacity="0.85"/>
<line x1="137.5" y1="153.1" x2="138" y2="157" stroke="#eef4f2" stroke-width="0.5" opacity="0.85"/>
<line x1="44.9" y1="151.3" x2="45.2" y2="163" stroke="#9fb2b1" stroke-width="0.7" opacity="0.85"/>
<line x1="128.9" y1="154.9" x2="128.3" y2="159.9" stroke="#52696a" stroke-width="0.6" opacity="0.85"/>
<line x1="133.4" y1="152.2" x2="133.7" y2="155.6" stroke="#f7fbfa" stroke-width="0.9" opacity="0.85"/>
<line x1="90.3" y1="150.9" x2="90.7" y2="156.3" stroke="#eef4f2" stroke-width="0.7" opacity="0.85"/>
<line x1="129.4" y1="153.8" x2="129.1" y2="159.2" stroke="#9fb2b1" stroke-width="0.4" opacity="0.85"/>
<line x1="71.5" y1="152.1" x2="71.3" y2="159.4" stroke="#9fb2b1" stroke-width="0.7" opacity="0.85"/>
<line x1="113.8" y1="156.5" x2="113.7" y2="162.7" stroke="#eef4f2" stroke-width="0.8" opacity="0.85"/>
<line x1="72.6" y1="155" x2="72.9" y2="163.7" stroke="#3a4d4f" stroke-width="0.8" opacity="0.85"/>
<line x1="128.8" y1="157.9" x2="128.9" y2="166.6" stroke="#9fb2b1" stroke-width="0.9" opacity="0.85"/>
<line x1="66.8" y1="155" x2="67.3" y2="163.9" stroke="#2c3d3e" stroke-width="0.7" opacity="0.85"/>
<line x1="123.8" y1="154.9" x2="123.4" y2="159.3" stroke="#f7fbfa" stroke-width="0.6" opacity="0.85"/>
<line x1="171.9" y1="151.7" x2="172.3" y2="160.2" stroke="#9fb2b1" stroke-width="0.8" opacity="0.85"/>
<line x1="142.6" y1="150.7" x2="142" y2="154" stroke="#f7fbfa" stroke-width="0.8" opacity="0.85"/>
<line x1="155.2" y1="159.6" x2="155" y2="163.1" stroke="#3a4d4f" stroke-width="0.9" opacity="0.85"/>
<line x1="106.9" y1="158.3" x2="107.1" y2="170.1" stroke="#2c3d3e" stroke-width="0.5" opacity="0.85"/>
<line x1="167.4" y1="150.9" x2="167.1" y2="164.5" stroke="#d3dfdd" stroke-width="0.5" opacity="0.85"/>
<line x1="94.1" y1="158" x2="94.3" y2="168.9" stroke="#d3dfdd" stroke-width="0.4" opacity="0.85"/>
<line x1="130.3" y1="155.6" x2="130.2" y2="169.2" stroke="#eef4f2" stroke-width="0.6" opacity="0.85"/>
<line x1="108" y1="151.4" x2="108" y2="161.7" stroke="#2c3d3e" stroke-width="0.6" opacity="0.85"/>
<line x1="103.6" y1="156.5" x2="103.6" y2="159.8" stroke="#2c3d3e" stroke-width="0.8" opacity="0.85"/>
<line x1="144.7" y1="158" x2="144.9" y2="163.2" stroke="#eef4f2" stroke-width="0.8" opacity="0.85"/>
<line x1="166.5" y1="155.3" x2="166.6" y2="160.5" stroke="#2c3d3e" stroke-width="0.8" opacity="0.85"/>
<line x1="171.7" y1="151" x2="171.4" y2="158.4" stroke="#9fb2b1" stroke-width="0.5" opacity="0.85"/>
<line x1="66.9" y1="155.5" x2="66.9" y2="161.3" stroke="#9fb2b1" stroke-width="0.6" opacity="0.85"/>
<line x1="99.2" y1="150.9" x2="99.1" y2="162" stroke="#52696a" stroke-width="0.9" opacity="0.85"/>
<line x1="94.1" y1="155.8" x2="94.4" y2="160.3" stroke="#d3dfdd" stroke-width="0.4" opacity="0.85"/>
<line x1="96.9" y1="159" x2="96.9" y2="168.6" stroke="#9fb2b1" stroke-width="0.6" opacity="0.85"/>
<line x1="108.4" y1="154.8" x2="107.9" y2="160" stroke="#9fb2b1" stroke-width="0.7" opacity="0.85"/>
<line x1="64.7" y1="150.7" x2="65" y2="159.9" stroke="#3a4d4f" stroke-width="0.8" opacity="0.85"/>
<line x1="169.4" y1="151.9" x2="168.9" y2="163.4" stroke="#eef4f2" stroke-width="0.8" opacity="0.85"/>
<line x1="165.2" y1="153.4" x2="165.1" y2="165.8" stroke="#9fb2b1" stroke-width="0.5" opacity="0.85"/>
<line x1="71.6" y1="158.8" x2="71.7" y2="166.4" stroke="#2c3d3e" stroke-width="0.7" opacity="0.85"/>
<line x1="47.7" y1="156" x2="47.5" y2="165.5" stroke="#2c3d3e" stroke-width="0.6" opacity="0.85"/>
<line x1="168.9" y1="153.3" x2="168.6" y2="157.3" stroke="#9fb2b1" stroke-width="0.5" opacity="0.85"/>
<line x1="164" y1="152.8" x2="164.1" y2="165.7" stroke="#2c3d3e" stroke-width="0.9" opacity="0.85"/>
<line x1="150.6" y1="152.6" x2="150.6" y2="163.6" stroke="#eef4f2" stroke-width="0.6" opacity="0.85"/>
<line x1="151.2" y1="159.8" x2="151.3" y2="171.1" stroke="#52696a" stroke-width="0.9" opacity="0.85"/>
<line x1="88" y1="153.4" x2="88.5" y2="160.2" stroke="#d3dfdd" stroke-width="0.9" opacity="0.85"/>
<line x1="115.4" y1="151.7" x2="115.4" y2="159.4" stroke="#eef4f2" stroke-width="0.6" opacity="0.85"/>
<line x1="118" y1="158.8" x2="118.5" y2="167.6" stroke="#9fb2b1" stroke-width="0.6" opacity="0.85"/>
<line x1="129.1" y1="151.6" x2="129.4" y2="164.4" stroke="#9fb2b1" stroke-width="0.9" opacity="0.85"/>
<line x1="143.7" y1="152.9" x2="143.8" y2="164.1" stroke="#f7fbfa" stroke-width="0.4" opacity="0.85"/>
<path d="M44,151.5 L172,150.8" stroke="#ccd6d4" stroke-width="0.8"/>
<text x="136" y="139" font-size="11.5" font-weight="bold" fill="#fff" stroke="#111" stroke-width="1.4" paint-order="stroke" textLength="30" lengthAdjust="spacingAndGlyphs">1 μm</text>
<rect x="137.2" y="143.7" width="30.3" height="3.2" fill="#fff" stroke="#222" stroke-width="0.9"/>
</g>
<line x1="172.8" y1="59.5" x2="172.8" y2="173" stroke="#9a9a9a" stroke-width="0.8"/>
<line x1="171.5" y1="59.8" x2="174" y2="59.8" stroke="#777" stroke-width="0.6"/>
<line x1="171.5" y1="77.5" x2="174" y2="77.5" stroke="#777" stroke-width="0.6"/>
<line x1="171.5" y1="151" x2="174" y2="151" stroke="#777" stroke-width="0.6"/>
<path d="M174,59.5 L176.5,61.5 M174,77.5 L176.5,80.5" stroke="#555" stroke-width="0.5" fill="none"/>
<text x="176" y="63.8" font-size="6.5" fill="#5aae66" textLength="33.5" lengthAdjust="spacingAndGlyphs" stroke="#5aae66" stroke-width="0.18">Top contact</text>
<text x="176" y="74.8" font-size="6.5" fill="#3a8888" textLength="30.6" lengthAdjust="spacingAndGlyphs" stroke="#3a8888" stroke-width="0.18">Perovskite</text>
<text x="176.3" y="87.6" font-size="6.5" fill="#e0603a" textLength="28" lengthAdjust="spacingAndGlyphs" stroke="#e0603a" stroke-width="0.18">AZO/SAM</text>
<text x="175.5" y="116.6" font-size="6.5" fill="#c4aa64" textLength="20.2" lengthAdjust="spacingAndGlyphs" stroke="#c4aa64" stroke-width="0.18">CIGSe</text>
<text x="175.5" y="165" font-size="6.3" font-style="italic" fill="#222" textLength="35.2" lengthAdjust="spacingAndGlyphs" stroke="#222" stroke-width="0.18">Molybdenum</text>
<path d="M44.4,28.8 L240.8,28.8 L240.8,173.2" stroke="#959595" stroke-width="1.2" fill="none"/>
<path d="M44.4,28.8 L44.4,173.2 L240.8,173.2" stroke="#444" stroke-width="0.9" fill="none"/>
<line x1="41.8" y1="173.2" x2="44.4" y2="173.2" stroke="#444" stroke-width="0.7"/>
<text x="39.8" y="175.8" font-size="7.4" text-anchor="end" fill="#222" stroke="#222" stroke-width="0.18">0</text>
<line x1="42.9" y1="165.8" x2="44.4" y2="165.8" stroke="#444" stroke-width="0.7"/>
<line x1="41.8" y1="158.4" x2="44.4" y2="158.4" stroke="#444" stroke-width="0.7"/>
<text x="39.8" y="161" font-size="7.4" text-anchor="end" fill="#222" stroke="#222" stroke-width="0.18">2</text>
<line x1="42.9" y1="151.1" x2="44.4" y2="151.1" stroke="#444" stroke-width="0.7"/>
<line x1="41.8" y1="143.7" x2="44.4" y2="143.7" stroke="#444" stroke-width="0.7"/>
<text x="39.8" y="146.3" font-size="7.4" text-anchor="end" fill="#222" stroke="#222" stroke-width="0.18">4</text>
<line x1="42.9" y1="136.3" x2="44.4" y2="136.3" stroke="#444" stroke-width="0.7"/>
<line x1="41.8" y1="128.9" x2="44.4" y2="128.9" stroke="#444" stroke-width="0.7"/>
<text x="39.8" y="131.5" font-size="7.4" text-anchor="end" fill="#222" stroke="#222" stroke-width="0.18">6</text>
<line x1="42.9" y1="121.5" x2="44.4" y2="121.5" stroke="#444" stroke-width="0.7"/>
<line x1="41.8" y1="114.2" x2="44.4" y2="114.2" stroke="#444" stroke-width="0.7"/>
<text x="39.8" y="116.8" font-size="7.4" text-anchor="end" fill="#222" stroke="#222" stroke-width="0.18">8</text>
<line x1="42.9" y1="106.8" x2="44.4" y2="106.8" stroke="#444" stroke-width="0.7"/>
<line x1="41.8" y1="99.4" x2="44.4" y2="99.4" stroke="#444" stroke-width="0.7"/>
<text x="39.8" y="102" font-size="7.4" text-anchor="end" fill="#222" stroke="#222" stroke-width="0.18">10</text>
<line x1="42.9" y1="92" x2="44.4" y2="92" stroke="#444" stroke-width="0.7"/>
<line x1="41.8" y1="84.6" x2="44.4" y2="84.6" stroke="#444" stroke-width="0.7"/>
<text x="39.8" y="87.2" font-size="7.4" text-anchor="end" fill="#222" stroke="#222" stroke-width="0.18">12</text>
<line x1="42.9" y1="77.3" x2="44.4" y2="77.3" stroke="#444" stroke-width="0.7"/>
<line x1="41.8" y1="69.9" x2="44.4" y2="69.9" stroke="#444" stroke-width="0.7"/>
<text x="39.8" y="72.5" font-size="7.4" text-anchor="end" fill="#222" stroke="#222" stroke-width="0.18">14</text>
<line x1="42.9" y1="62.5" x2="44.4" y2="62.5" stroke="#444" stroke-width="0.7"/>
<line x1="41.8" y1="55.1" x2="44.4" y2="55.1" stroke="#444" stroke-width="0.7"/>
<text x="39.8" y="57.7" font-size="7.4" text-anchor="end" fill="#222" stroke="#222" stroke-width="0.18">16</text>
<line x1="42.9" y1="47.7" x2="44.4" y2="47.7" stroke="#444" stroke-width="0.7"/>
<line x1="41.8" y1="40.4" x2="44.4" y2="40.4" stroke="#444" stroke-width="0.7"/>
<text x="39.8" y="43" font-size="7.4" text-anchor="end" fill="#222" stroke="#222" stroke-width="0.18">18</text>
<line x1="42.9" y1="33" x2="44.4" y2="33" stroke="#444" stroke-width="0.7"/>
<line x1="44.2" y1="173.2" x2="44.2" y2="175.6" stroke="#444" stroke-width="0.7"/>
<text x="44.2" y="183.8" font-size="7.4" text-anchor="middle" fill="#222" stroke="#222" stroke-width="0.18">0.0</text>
<line x1="55.7" y1="173.2" x2="55.7" y2="174.6" stroke="#444" stroke-width="0.7"/>
<line x1="67.2" y1="173.2" x2="67.2" y2="175.6" stroke="#444" stroke-width="0.7"/>
<text x="67.2" y="183.8" font-size="7.4" text-anchor="middle" fill="#222" stroke="#222" stroke-width="0.18">0.2</text>
<line x1="78.8" y1="173.2" x2="78.8" y2="174.6" stroke="#444" stroke-width="0.7"/>
<line x1="90.3" y1="173.2" x2="90.3" y2="175.6" stroke="#444" stroke-width="0.7"/>
<text x="90.3" y="183.8" font-size="7.4" text-anchor="middle" fill="#222" stroke="#222" stroke-width="0.18">0.4</text>
<line x1="101.8" y1="173.2" x2="101.8" y2="174.6" stroke="#444" stroke-width="0.7"/>
<line x1="113.3" y1="173.2" x2="113.3" y2="175.6" stroke="#444" stroke-width="0.7"/>
<text x="113.3" y="183.8" font-size="7.4" text-anchor="middle" fill="#222" stroke="#222" stroke-width="0.18">0.6</text>
<line x1="124.8" y1="173.2" x2="124.8" y2="174.6" stroke="#444" stroke-width="0.7"/>
<line x1="136.4" y1="173.2" x2="136.4" y2="175.6" stroke="#444" stroke-width="0.7"/>
<text x="136.4" y="183.8" font-size="7.4" text-anchor="middle" fill="#222" stroke="#222" stroke-width="0.18">0.8</text>
<line x1="147.9" y1="173.2" x2="147.9" y2="174.6" stroke="#444" stroke-width="0.7"/>
<line x1="159.4" y1="173.2" x2="159.4" y2="175.6" stroke="#444" stroke-width="0.7"/>
<text x="159.4" y="183.8" font-size="7.4" text-anchor="middle" fill="#222" stroke="#222" stroke-width="0.18">1.0</text>
<line x1="170.9" y1="173.2" x2="170.9" y2="174.6" stroke="#444" stroke-width="0.7"/>
<line x1="182.4" y1="173.2" x2="182.4" y2="175.6" stroke="#444" stroke-width="0.7"/>
<text x="182.4" y="183.8" font-size="7.4" text-anchor="middle" fill="#222" stroke="#222" stroke-width="0.18">1.2</text>
<line x1="194" y1="173.2" x2="194" y2="174.6" stroke="#444" stroke-width="0.7"/>
<line x1="205.5" y1="173.2" x2="205.5" y2="175.6" stroke="#444" stroke-width="0.7"/>
<text x="205.5" y="183.8" font-size="7.4" text-anchor="middle" fill="#222" stroke="#222" stroke-width="0.18">1.4</text>
<line x1="217" y1="173.2" x2="217" y2="174.6" stroke="#444" stroke-width="0.7"/>
<line x1="228.5" y1="173.2" x2="228.5" y2="175.6" stroke="#444" stroke-width="0.7"/>
<text x="228.5" y="183.8" font-size="7.4" text-anchor="middle" fill="#222" stroke="#222" stroke-width="0.18">1.6</text>
<line x1="240" y1="173.2" x2="240" y2="174.6" stroke="#444" stroke-width="0.7"/>
<text x="115" y="197" font-size="7.9" fill="#222" textLength="55.3" lengthAdjust="spacingAndGlyphs" stroke="#222" stroke-width="0.18">Bias voltage (V)</text>
<text transform="translate(22.4,139.4) rotate(-90)" font-size="7.6" fill="#222" textLength="86" lengthAdjust="spacingAndGlyphs" stroke="#222" stroke-width="0.18">Current density (mA/cm<tspan font-size="5" dy="-2.5">2</tspan><tspan dy="2.5">)</tspan></text>
<line x1="69" y1="22" x2="87" y2="22" stroke="#111" stroke-width="1.6"/>
<text x="88.5" y="24.6" font-size="7.5" fill="#222" textLength="44.5" lengthAdjust="spacingAndGlyphs" stroke="#222" stroke-width="0.18">reverse scan</text>
<line x1="151" y1="22" x2="169" y2="22" stroke="#aaa" stroke-width="1.2" stroke-dasharray="2.5,1.5"/>
<text x="171.5" y="24.6" font-size="7.5" fill="#222" textLength="43.5" lengthAdjust="spacingAndGlyphs" stroke="#222" stroke-width="0.18">forward scan</text>
<text x="184.5" y="38.6" font-size="7.6" fill="#111" textLength="53.2" lengthAdjust="spacingAndGlyphs" stroke="#111" stroke-width="0.18">MPP = 23.26 %</text>
<path d="M44.6,31.2 C50.5,31.4 66.6,31.6 80,32.2 C93.4,32.8 113.3,33.9 125,34.6 C136.7,35.3 142.5,35.9 150,36.6 C157.5,37.3 163.8,37.7 170,38.6 C176.2,39.5 182.8,41 187,42 C191.2,43 192.7,43.5 195.5,44.7 C198.3,45.9 201.4,47.3 204,49.4 C206.6,51.5 208.5,54 210.8,57.3 C213.1,60.6 215.8,65.5 217.6,69.2 C219.4,72.9 220.4,76 221.5,79.5 C222.6,83 223.4,86.5 224.4,90 C225.4,93.5 226.4,96.5 227.4,100.2 C228.4,103.9 229.5,108 230.5,112.4 C231.5,116.8 232.8,122.3 233.6,126.7 C234.4,131.1 235,134.9 235.6,139 C236.2,143.1 236.8,147.1 237.2,151.2 C237.6,155.3 238,159.9 238.3,163.5 C238.6,167.1 238.8,171.3 238.9,172.9" stroke="#111" stroke-width="1.7" fill="none"/>
<path d="M44.6,31.2 C50.5,31.4 66.6,31.6 80,32.2 C93.4,32.8 113.3,33.9 125,34.6 C136.7,35.3 142.5,35.9 150,36.6 C157.5,37.3 163.8,37.7 170,38.6 C176.2,39.5 182.8,41 187,42 C191.2,43 192.7,43.5 195.5,44.7 C198.3,45.9 201.4,47.3 204,49.4 C206.6,51.5 208.5,54 210.8,57.3 C213.1,60.6 215.8,65.5 217.6,69.2 C219.4,72.9 220.4,76 221.5,79.5 C222.6,83 223.4,86.5 224.4,90 C225.4,93.5 226.4,96.5 227.4,100.2 C228.4,103.9 229.5,108 230.5,112.4 C231.5,116.8 232.8,122.3 233.6,126.7 C234.4,131.1 235,134.9 235.6,139 C236.2,143.1 236.8,147.1 237.2,151.2 C237.6,155.3 238,159.9 238.3,163.5 C238.6,167.1 238.8,171.3 238.9,172.9" stroke="#d8d8d8" stroke-width="0.7" fill="none" stroke-dasharray="2.2,2"/>
<circle cx="204.2" cy="49.3" r="2.1" fill="#f07050" opacity="0.9"/>
<ellipse cx="352" cy="191" rx="62" ry="9" fill="#d6d8da" filter="url(#blur3)"/>
<ellipse cx="350" cy="189" rx="35" ry="5" fill="#c8cacd" filter="url(#blur3)"/>
<polygon points="292.4,181.8 302.7,173.3 313,181.3 322.1,172.7 327.3,177.3 330.1,172.7 343,184.4 358.6,175.1 367.9,181.5 373.6,176.5 387.1,193.7 387.1,196.9 373.6,179.7 367.9,184.7 358.6,178.3 343,187.6 330.1,175.9 327.3,180.5 322.1,175.9 313,184.5 302.7,176.5 292.4,185" fill="#b9b6b3"/>
<polygon points="292.4,177.4 302.7,168.9 313,176.9 322.1,168.3 327.3,172.9 330.1,168.3 343,180 358.6,170.7 367.9,177.1 373.6,172.1 387.1,189.3 387.1,193.9 373.6,176.7 367.9,181.7 358.6,175.3 343,184.6 330.1,172.9 327.3,177.5 322.1,172.9 313,181.5 302.7,173.5 292.4,182" fill="#6caaf2"/>
<polyline points="271.3,167.1 276,168.3 282.7,163.7 292.4,177.4 302.7,168.9 313,176.9 322.1,168.3 327.3,172.9 330.1,168.3 343,180 358.6,170.7 367.9,177.1 373.6,172.1 387.1,189.3 398.6,173.6 404.3,180 411.4,170" fill="none" stroke="#d9c8b8" stroke-width="1.1" transform="translate(0,0.5)"/>
<polygon points="411.5,99 416,92 419,88 421,84 424,80 426,76 430.4,68 430.4,60 428.7,66 430.2,69.1 428.5,75.1 430,78.1 428.3,84.2 429.8,87.2 427.9,93.2 429.3,96.3 427.4,102.3 428.7,105.3 426.9,111.4 428.2,114.4 426.1,120 427.2,122.5 425.2,128.1 426.3,130.7 423.4,137.6 423.6,141.6 420.6,147.2 420.9,149.8 417.2,155.4 416.8,158 413.8,163.6 414,166.1 411,170.6 411.3,172" fill="#4b88ae"/>
<polyline points="430.4,60 428.7,66 430.2,69.1 428.5,75.1 430,78.1 428.3,84.2 429.8,87.2 427.9,93.2 429.3,96.3 427.4,102.3 428.7,105.3 426.9,111.4 428.2,114.4 426.1,120 427.2,122.5 425.2,128.1 426.3,130.7 423.4,137.6 423.6,141.6 420.6,147.2 420.9,149.8 417.2,155.4 416.8,158 413.8,163.6 414,166.1 411,170.6 411.3,172" fill="none" stroke="#a9c6da" stroke-width="0.7" opacity="0.8"/>
<polygon points="269.2,75 411.5,75 411.4,170 404.3,180 398.6,173.6 387.1,189.3 373.6,172.1 367.9,177.1 358.6,170.7 343,180 330.1,168.3 327.3,172.9 322.1,168.3 313,176.9 302.7,168.9 292.4,177.4 282.7,163.7 276,168.3 271.3,167.1 271.3,150" fill="#407e9f"/>
<linearGradient id="pvkb" x1="0" y1="0" x2="0" y2="1"><stop offset="0" stop-color="#e6a43a"/><stop offset="1" stop-color="#dc9e36"/></linearGradient>
<polygon points="269,54.5 275,53 281,54 291,57.3 301,57.8 311,57 321,57.4 333,56.8 344,57.4 355,58.6 364.4,60 372,60.8 380,61.4 387,62.2 393.6,63.8 400,65.6 407.2,66.3 411.5,65.6 411.5,99 410.4,100 403,89 395,96.3 390,90 386,93.5 375.3,79.2 368.5,86.7 362.3,83.3 351.5,89.4 337.2,78.5 327.7,90.8 320.5,84.7 314.4,90.8 308.3,79.3 299.4,94.2 294.7,86.5 289.9,93.5 279.7,81.3 269.5,90.8" fill="url(#pvkb)"/>
<line x1="283" y1="60" x2="285" y2="82" stroke="#c98a2a" stroke-width="3" opacity="0.25" filter="url(#blur1)"/>
<line x1="300" y1="60" x2="302" y2="82" stroke="#c98a2a" stroke-width="3" opacity="0.25" filter="url(#blur1)"/>
<line x1="318" y1="60" x2="320" y2="82" stroke="#c98a2a" stroke-width="3" opacity="0.25" filter="url(#blur1)"/>
<line x1="336" y1="60" x2="338" y2="82" stroke="#c98a2a" stroke-width="3" opacity="0.25" filter="url(#blur1)"/>
<line x1="352" y1="60" x2="354" y2="82" stroke="#c98a2a" stroke-width="3" opacity="0.25" filter="url(#blur1)"/>
<line x1="372" y1="60" x2="374" y2="82" stroke="#c98a2a" stroke-width="3" opacity="0.25" filter="url(#blur1)"/>
<line x1="392" y1="60" x2="394" y2="82" stroke="#c98a2a" stroke-width="3" opacity="0.25" filter="url(#blur1)"/>
<polygon points="411.5,65.6 415,64.5 420.8,59.5 426,52.5 430.8,45.8 430.5,55 430.2,70 427.5,76.1 426.5,75.8 423.8,81.9 422.7,81.6 420.1,87.7 419,87.4 416.3,93.5 415.2,93.2 412.6,99.3 411.5,99" fill="#e3aa50"/>
<polyline points="430.2,70 427.5,76.1 426.5,75.8 423.8,81.9 422.7,81.6 420.1,87.7 419,87.4 416.3,93.5 415.2,93.2 412.6,99.3 411.5,99" fill="none" stroke="#efe2d2" stroke-width="0.9"/>
<line x1="415" y1="63" x2="414" y2="87" stroke="#c7902e" stroke-width="1.5" opacity="0.35"/>
<line x1="420" y1="58" x2="419" y2="80" stroke="#c7902e" stroke-width="1.5" opacity="0.35"/>
<line x1="425" y1="53" x2="424" y2="73" stroke="#c7902e" stroke-width="1.5" opacity="0.35"/>
<polyline points="269.5,90.8 279.7,81.3 289.9,93.5 294.7,86.5 299.4,94.2 308.3,79.3 314.4,90.8 320.5,84.7 327.7,90.8 337.2,78.5 351.5,89.4 362.3,83.3 368.5,86.7 375.3,79.2 386,93.5 390,90 395,96.3 403,89 410.4,100 411.5,99" fill="none" stroke="#efe6d8" stroke-width="1.2" transform="translate(0,2.2)"/>
<polyline points="269.5,90.8 279.7,81.3 289.9,93.5 294.7,86.5 299.4,94.2 308.3,79.3 314.4,90.8 320.5,84.7 327.7,90.8 337.2,78.5 351.5,89.4 362.3,83.3 368.5,86.7 375.3,79.2 386,93.5 390,90 395,96.3 403,89 410.4,100 411.5,99" fill="none" stroke="#86b9e0" stroke-width="1" transform="translate(0,1.3)"/>
<polyline points="269.5,90.8 279.7,81.3 289.9,93.5 294.7,86.5 299.4,94.2 308.3,79.3 314.4,90.8 320.5,84.7 327.7,90.8 337.2,78.5 351.5,89.4 362.3,83.3 368.5,86.7 375.3,79.2 386,93.5 390,90 395,96.3 403,89 410.4,100 411.5,99" fill="none" stroke="#d77fb5" stroke-width="0.9" transform="translate(0,0.4)"/>
<polyline points="269.5,90.8 279.7,81.3 289.9,93.5 294.7,86.5 299.4,94.2 308.3,79.3 314.4,90.8 320.5,84.7 327.7,90.8 337.2,78.5 351.5,89.4 362.3,83.3 368.5,86.7 375.3,79.2 386,93.5 390,90 395,96.3 403,89 410.4,100 411.5,99" fill="none" stroke="#8a64c8" stroke-width="0.9" transform="translate(0,-0.5)"/>
<polygon points="269,54.5 269,53.2 276,50.6 282,49.2 287.9,48.4 287.9,56.2 281,54 275,53" fill="#dcd2ec"/>
<polygon points="386,59.8 393.6,63.8 400,65.6 407.2,66.3 411.5,65.6 415,64.5 420.8,59.5 426,52.5 430.8,45.8 429,43.2 424,43.6 418,44.2 413.3,42.6 407,44.5 400,48 392,52 386,55" fill="#d6cbe8"/>
<polyline points="386,55.5 392,52.5 400,48.5 407,45 413.3,43 418,44.6 424,44 430.8,43.8" fill="none" stroke="#f1ecf7" stroke-width="1" />
<polyline points="269,54.5 275,53 281,54 291,57.3 301,57.8 311,57 321,57.4 333,56.8 344,57.4 355,58.6 364.4,60 372,60.8 380,61.4 387,62.2 393.6,63.8 400,65.6 407.2,66.3 411.5,65.6 415,64.5 420.8,59.5 426,52.5 430.8,45.8" fill="none" stroke="#d63a5a" stroke-width="1.1" transform="translate(0,0.3)"/>
<polyline points="269,54.5 275,53 281,54 291,57.3 301,57.8 311,57 321,57.4 333,56.8 344,57.4 355,58.6 364.4,60 372,60.8 380,61.4 387,62.2 393.6,63.8 400,65.6 407.2,66.3 411.5,65.6 415,64.5 420.8,59.5 426,52.5 430.8,45.8" fill="none" stroke="#9cc43c" stroke-width="1" transform="translate(0,2.6)"/>
<linearGradient id="izo" x1="0" y1="0" x2="0" y2="1"><stop offset="0" stop-color="#3f86c6"/><stop offset="1" stop-color="#3478b8"/></linearGradient>
<polygon points="287.9,46.5 386.1,47.8 386.1,60 380,59.8 372,59.2 364.4,58.4 355,57 344,55.8 333,55.2 321,55.8 311,55.4 301,56.2 291,55.7 287.9,54.6" fill="url(#izo)"/>
<polygon points="386.1,44 413.3,35.5 413.3,42.6 407,44.5 400,48 392,52 386.1,55.5" fill="#8fb6dc"/>
<polyline points="291,57.3 301,57.8 311,57 321,57.4 333,56.8 344,57.4 355,58.6 364.4,60 372,60.8 380,61.4 387,62.2" fill="none" stroke="#e8e0f2" stroke-width="1.1" transform="translate(0,-0.4)"/>
<polygon points="294,40.4 378.7,41.4 378.7,48.2 294,47.2" fill="#3fae4c"/>
<polygon points="294,40.4 378.7,41.4 378.7,43 294,42" fill="#7ccf6a" opacity="0.5"/>
<linearGradient id="topg" x1="0" y1="0" x2="0" y2="1"><stop offset="0" stop-color="#b4b4b4"/><stop offset="1" stop-color="#a4a4a4"/></linearGradient>
<polygon points="293.6,40.4 349.2,32.6 349.2,29.3 378.7,29.2 378.7,41.4" fill="url(#topg)"/>
<linearGradient id="barl" x1="0" y1="0" x2="1" y2="0"><stop offset="0" stop-color="#6c6c6c"/><stop offset="1" stop-color="#7c7c7c"/></linearGradient>
<polygon points="293.6,32.7 347.4,24.3 349.2,24.5 349.2,32.6 293.6,40.4" fill="url(#barl)"/>
<polygon points="287.3,32.2 346,24.2 347.4,24.3 293.6,32.9" fill="#8e8e8e"/>
<linearGradient id="barlf" x1="0" y1="0" x2="0" y2="1"><stop offset="0" stop-color="#7e7e7e"/><stop offset="1" stop-color="#9a9a9a"/></linearGradient>
<polygon points="287.3,32.2 293.6,32.8 293.6,46.8 287.3,46.8" fill="url(#barlf)"/>
<polygon points="386.1,36 413.3,25.2 413.3,36 386.1,45" fill="#8a8a8a"/>
<polygon points="378.7,36 406.5,25.4 413.3,25.2 386.1,36" fill="#a2a2a2"/>
<polygon points="378.7,36 386.1,36 386.1,48.4 378.7,48.4" fill="#6c6c6c"/>
<text x="287.3" y="38.4" font-size="9.4" font-weight="bold" fill="#111" textLength="10"  lengthAdjust="spacingAndGlyphs" stroke="#111" stroke-width="0.18">Ag</text>
<text x="312.3" y="47.2" font-size="8.8" font-weight="bold" fill="#111" textLength="16" lengthAdjust="spacingAndGlyphs" stroke="#111" stroke-width="0.18">MgF</text><text x="328.6" y="49" font-size="5.8" font-weight="bold" fill="#111" stroke="#111" stroke-width="0.18">2</text>
<text x="312.3" y="55.9" font-size="8.8" font-weight="bold" fill="#111" textLength="11.8" lengthAdjust="spacingAndGlyphs" stroke="#111" stroke-width="0.18">IZO</text>
<text x="321.6" y="63.6" font-size="8.2" stroke-width="0.35" paint-order="stroke" fill="#fff" stroke="#fff" textLength="43.4" lengthAdjust="spacingAndGlyphs">SnO<tspan font-size="5" dy="1.6">2</tspan><tspan dy="-1.6">/C</tspan><tspan font-size="5" dy="1.6">60</tspan><tspan dy="-1.6">/LiF</tspan></text>
<text x="322.9" y="76.4" font-size="9.4" font-weight="bold" fill="#111" textLength="42" lengthAdjust="spacingAndGlyphs" stroke="#111" stroke-width="0.18">Perovskite</text>
<text x="320.6" y="97.4" font-size="8.8" stroke-width="0.35" paint-order="stroke" fill="#fff" stroke="#fff" textLength="45" lengthAdjust="spacingAndGlyphs">2-PACz/ITO/</text>
<text x="315.4" y="108.2" font-size="8.8" stroke-width="0.35" paint-order="stroke" fill="#fff" stroke="#fff" textLength="58.5" lengthAdjust="spacingAndGlyphs">α-Si (i)/α-Si (n<tspan font-size="5.5" dy="-3">+</tspan><tspan dy="3">)</tspan></text>
<text x="322.6" y="132.5" font-size="9.4" font-weight="bold" fill="#111" textLength="36.7" lengthAdjust="spacingAndGlyphs" stroke="#111" stroke-width="0.18">n-type Si</text>
<text x="299.4" y="167.2" font-size="8.8" stroke-width="0.35" paint-order="stroke" fill="#fff" stroke="#fff" textLength="89.4" lengthAdjust="spacingAndGlyphs">α-Si (i)/α-Si (p<tspan font-size="5.5" dy="-3">+</tspan><tspan dy="3">)/ITO/Ag</tspan></text>
<g clip-path="url(#insetc)">
<rect x="508" y="83.5" width="49" height="68" fill="#2b2722"/>
<linearGradient id="subst" x1="0" y1="0" x2="0.3" y2="1"><stop offset="0" stop-color="#9d937f"/><stop offset="0.45" stop-color="#85775f"/><stop offset="1" stop-color="#66584a"/></linearGradient>
<rect x="509.8" y="85" width="45" height="46" rx="3" fill="url(#subst)"/>
<rect x="512" y="87" width="40" height="40" rx="4" fill="none" stroke="#a89a80" stroke-width="1.2" opacity="0.5"/>
<path d="M513.6,97 L532.6,97 L532.6,99.8 L535.8,99.8 L535.8,97 L551,97 L551,118.3 L513.6,118.3 Z" fill="#f2f2f4"/>
<rect x="517.9" y="100.4" width="28.9" height="12.8" fill="#2c49a6"/>
<line x1="524.5" y1="100.4" x2="524.5" y2="113.2" stroke="#9fb0e0" stroke-width="0.6"/>
<line x1="529" y1="100.4" x2="529" y2="113.2" stroke="#9fb0e0" stroke-width="0.6"/>
<line x1="538" y1="100.4" x2="538" y2="113.2" stroke="#9fb0e0" stroke-width="0.6"/>
<line x1="542.5" y1="100.4" x2="542.5" y2="113.2" stroke="#9fb0e0" stroke-width="0.6"/>
<line x1="524.5" y1="106.8" x2="529" y2="106.8" stroke="#9fb0e0" stroke-width="0.5"/><line x1="538" y1="106.8" x2="542.5" y2="106.8" stroke="#9fb0e0" stroke-width="0.5"/>
<rect x="529.8" y="118.3" width="5.1" height="2.6" fill="#e8e8e8"/>
<rect x="508" y="131.6" width="49" height="20" fill="#cfd0d0"/>
<rect x="508" y="131.6" width="49" height="5" fill="#b9baba"/>
<line x1="509.5" y1="131.8" x2="509.5" y2="136.8" stroke="#555" stroke-width="0.5"/>
<line x1="513" y1="131.8" x2="513" y2="134.8" stroke="#555" stroke-width="0.5"/>
<line x1="516.6" y1="131.8" x2="516.6" y2="134.8" stroke="#555" stroke-width="0.5"/>
<line x1="520.1" y1="131.8" x2="520.1" y2="134.8" stroke="#555" stroke-width="0.5"/>
<line x1="523.7" y1="131.8" x2="523.7" y2="134.8" stroke="#555" stroke-width="0.5"/>
<line x1="527.2" y1="131.8" x2="527.2" y2="136.8" stroke="#555" stroke-width="0.5"/>
<line x1="530.8" y1="131.8" x2="530.8" y2="134.8" stroke="#555" stroke-width="0.5"/>
<line x1="534.4" y1="131.8" x2="534.4" y2="134.8" stroke="#555" stroke-width="0.5"/>
<line x1="537.9" y1="131.8" x2="537.9" y2="134.8" stroke="#555" stroke-width="0.5"/>
<line x1="541.5" y1="131.8" x2="541.5" y2="134.8" stroke="#555" stroke-width="0.5"/>
<line x1="545" y1="131.8" x2="545" y2="136.8" stroke="#555" stroke-width="0.5"/>
<line x1="548.5" y1="131.8" x2="548.5" y2="134.8" stroke="#555" stroke-width="0.5"/>
<line x1="552.1" y1="131.8" x2="552.1" y2="134.8" stroke="#555" stroke-width="0.5"/>
<line x1="555.6" y1="131.8" x2="555.6" y2="134.8" stroke="#555" stroke-width="0.5"/>
<text x="511.5" y="149.5" font-size="6" fill="#333" stroke="#333" stroke-width="0.18">cm</text><text x="527" y="149.5" font-size="6.8" fill="#333" stroke="#333" stroke-width="0.18">1</text><text x="546.5" y="149.5" font-size="6.8" fill="#333" stroke="#333" stroke-width="0.18">2</text>
</g>
<rect x="480.3" y="22.9" width="208" height="152.3" fill="none" stroke="#7a7a7a" stroke-width="1"/>
<line x1="491" y1="22.9" x2="491" y2="175.2" stroke="#6e6e6e" stroke-width="0.9"/>
<line x1="480.3" y1="35.6" x2="499" y2="35.6" stroke="#9a9a9a" stroke-width="1"/>
<line x1="675" y1="35.6" x2="688.3" y2="35.6" stroke="#9a9a9a" stroke-width="1"/>
<line x1="491" y1="175.2" x2="491" y2="173" stroke="#555" stroke-width="0.8"/>
<line x1="491" y1="22.9" x2="491" y2="25.1" stroke="#555" stroke-width="0.8"/>
<text x="491" y="186" font-size="8.3" text-anchor="middle" fill="#222" stroke="#222" stroke-width="0.18">0.0</text>
<line x1="501.4" y1="175.2" x2="501.4" y2="173.8" stroke="#555" stroke-width="0.8"/>
<line x1="501.4" y1="22.9" x2="501.4" y2="24.3" stroke="#555" stroke-width="0.8"/>
<line x1="511.8" y1="175.2" x2="511.8" y2="173" stroke="#555" stroke-width="0.8"/>
<line x1="511.8" y1="22.9" x2="511.8" y2="25.1" stroke="#555" stroke-width="0.8"/>
<text x="511.8" y="186" font-size="8.3" text-anchor="middle" fill="#222" stroke="#222" stroke-width="0.18">0.2</text>
<line x1="522.1" y1="175.2" x2="522.1" y2="173.8" stroke="#555" stroke-width="0.8"/>
<line x1="522.1" y1="22.9" x2="522.1" y2="24.3" stroke="#555" stroke-width="0.8"/>
<line x1="532.5" y1="175.2" x2="532.5" y2="173" stroke="#555" stroke-width="0.8"/>
<line x1="532.5" y1="22.9" x2="532.5" y2="25.1" stroke="#555" stroke-width="0.8"/>
<text x="532.5" y="186" font-size="8.3" text-anchor="middle" fill="#222" stroke="#222" stroke-width="0.18">0.4</text>
<line x1="542.9" y1="175.2" x2="542.9" y2="173.8" stroke="#555" stroke-width="0.8"/>
<line x1="542.9" y1="22.9" x2="542.9" y2="24.3" stroke="#555" stroke-width="0.8"/>
<line x1="553.3" y1="175.2" x2="553.3" y2="173" stroke="#555" stroke-width="0.8"/>
<line x1="553.3" y1="22.9" x2="553.3" y2="25.1" stroke="#555" stroke-width="0.8"/>
<text x="553.3" y="186" font-size="8.3" text-anchor="middle" fill="#222" stroke="#222" stroke-width="0.18">0.6</text>
<line x1="563.7" y1="175.2" x2="563.7" y2="173.8" stroke="#555" stroke-width="0.8"/>
<line x1="563.7" y1="22.9" x2="563.7" y2="24.3" stroke="#555" stroke-width="0.8"/>
<line x1="574" y1="175.2" x2="574" y2="173" stroke="#555" stroke-width="0.8"/>
<line x1="574" y1="22.9" x2="574" y2="25.1" stroke="#555" stroke-width="0.8"/>
<text x="574" y="186" font-size="8.3" text-anchor="middle" fill="#222" stroke="#222" stroke-width="0.18">0.8</text>
<line x1="584.4" y1="175.2" x2="584.4" y2="173.8" stroke="#555" stroke-width="0.8"/>
<line x1="584.4" y1="22.9" x2="584.4" y2="24.3" stroke="#555" stroke-width="0.8"/>
<line x1="594.8" y1="175.2" x2="594.8" y2="173" stroke="#555" stroke-width="0.8"/>
<line x1="594.8" y1="22.9" x2="594.8" y2="25.1" stroke="#555" stroke-width="0.8"/>
<text x="594.8" y="186" font-size="8.3" text-anchor="middle" fill="#222" stroke="#222" stroke-width="0.18">1.0</text>
<line x1="605.2" y1="175.2" x2="605.2" y2="173.8" stroke="#555" stroke-width="0.8"/>
<line x1="605.2" y1="22.9" x2="605.2" y2="24.3" stroke="#555" stroke-width="0.8"/>
<line x1="615.6" y1="175.2" x2="615.6" y2="173" stroke="#555" stroke-width="0.8"/>
<line x1="615.6" y1="22.9" x2="615.6" y2="25.1" stroke="#555" stroke-width="0.8"/>
<text x="615.6" y="186" font-size="8.3" text-anchor="middle" fill="#222" stroke="#222" stroke-width="0.18">1.2</text>
<line x1="625.9" y1="175.2" x2="625.9" y2="173.8" stroke="#555" stroke-width="0.8"/>
<line x1="625.9" y1="22.9" x2="625.9" y2="24.3" stroke="#555" stroke-width="0.8"/>
<line x1="636.3" y1="175.2" x2="636.3" y2="173" stroke="#555" stroke-width="0.8"/>
<line x1="636.3" y1="22.9" x2="636.3" y2="25.1" stroke="#555" stroke-width="0.8"/>
<text x="636.3" y="186" font-size="8.3" text-anchor="middle" fill="#222" stroke="#222" stroke-width="0.18">1.4</text>
<line x1="646.7" y1="175.2" x2="646.7" y2="173.8" stroke="#555" stroke-width="0.8"/>
<line x1="646.7" y1="22.9" x2="646.7" y2="24.3" stroke="#555" stroke-width="0.8"/>
<line x1="657.1" y1="175.2" x2="657.1" y2="173" stroke="#555" stroke-width="0.8"/>
<line x1="657.1" y1="22.9" x2="657.1" y2="25.1" stroke="#555" stroke-width="0.8"/>
<text x="657.1" y="186" font-size="8.3" text-anchor="middle" fill="#222" stroke="#222" stroke-width="0.18">1.6</text>
<line x1="667.5" y1="175.2" x2="667.5" y2="173.8" stroke="#555" stroke-width="0.8"/>
<line x1="667.5" y1="22.9" x2="667.5" y2="24.3" stroke="#555" stroke-width="0.8"/>
<line x1="677.8" y1="175.2" x2="677.8" y2="173" stroke="#555" stroke-width="0.8"/>
<line x1="677.8" y1="22.9" x2="677.8" y2="25.1" stroke="#555" stroke-width="0.8"/>
<text x="677.8" y="186" font-size="8.3" text-anchor="middle" fill="#222" stroke="#222" stroke-width="0.18">1.8</text>
<line x1="479.5" y1="163" x2="482.5" y2="163" stroke="#555" stroke-width="0.8"/>
<line x1="686.1" y1="163" x2="689.1" y2="163" stroke="#555" stroke-width="0.8"/>
<text x="477.6" y="166" font-size="8.3" text-anchor="end" fill="#222" stroke="#222" stroke-width="0.18">-20</text>
<line x1="479.5" y1="147.1" x2="481.7" y2="147.1" stroke="#555" stroke-width="0.8"/>
<line x1="686.9" y1="147.1" x2="689.1" y2="147.1" stroke="#555" stroke-width="0.8"/>
<line x1="479.5" y1="131.2" x2="482.5" y2="131.2" stroke="#555" stroke-width="0.8"/>
<line x1="686.1" y1="131.2" x2="689.1" y2="131.2" stroke="#555" stroke-width="0.8"/>
<text x="477.6" y="134.2" font-size="8.3" text-anchor="end" fill="#222" stroke="#222" stroke-width="0.18">-15</text>
<line x1="479.5" y1="115.2" x2="481.7" y2="115.2" stroke="#555" stroke-width="0.8"/>
<line x1="686.9" y1="115.2" x2="689.1" y2="115.2" stroke="#555" stroke-width="0.8"/>
<line x1="479.5" y1="99.3" x2="482.5" y2="99.3" stroke="#555" stroke-width="0.8"/>
<line x1="686.1" y1="99.3" x2="689.1" y2="99.3" stroke="#555" stroke-width="0.8"/>
<text x="477.6" y="102.3" font-size="8.3" text-anchor="end" fill="#222" stroke="#222" stroke-width="0.18">-10</text>
<line x1="479.5" y1="83.4" x2="481.7" y2="83.4" stroke="#555" stroke-width="0.8"/>
<line x1="686.9" y1="83.4" x2="689.1" y2="83.4" stroke="#555" stroke-width="0.8"/>
<line x1="479.5" y1="67.5" x2="482.5" y2="67.5" stroke="#555" stroke-width="0.8"/>
<line x1="686.1" y1="67.5" x2="689.1" y2="67.5" stroke="#555" stroke-width="0.8"/>
<text x="477.6" y="70.5" font-size="8.3" text-anchor="end" fill="#222" stroke="#222" stroke-width="0.18">-5</text>
<line x1="479.5" y1="51.5" x2="481.7" y2="51.5" stroke="#555" stroke-width="0.8"/>
<line x1="686.9" y1="51.5" x2="689.1" y2="51.5" stroke="#555" stroke-width="0.8"/>
<line x1="479.5" y1="35.6" x2="482.5" y2="35.6" stroke="#555" stroke-width="0.8"/>
<line x1="686.1" y1="35.6" x2="689.1" y2="35.6" stroke="#555" stroke-width="0.8"/>
<text x="477.6" y="38.6" font-size="8.3" text-anchor="end" fill="#222" stroke="#222" stroke-width="0.18">0</text>
<text x="563" y="199" font-size="8.6" fill="#222" textLength="43" lengthAdjust="spacingAndGlyphs" stroke="#222" stroke-width="0.18">Voltage (V)</text>
<text transform="translate(461.6,147.5) rotate(-90)" font-size="8.4" fill="#222" textLength="97" lengthAdjust="spacingAndGlyphs" stroke="#222" stroke-width="0.18">Current density (mA/cm<tspan font-size="5.5" dy="-2.8">2</tspan><tspan dy="2.8">)</tspan></text>
<text x="549" y="38.4" font-size="9" text-anchor="start" fill="#111" stroke="#111" stroke-width="0.32">V<tspan font-size="5.2" dy="1.8">oc</tspan></text>
<text x="554.2" y="50" font-size="9" text-anchor="middle" fill="#111" stroke="#111" stroke-width="0.32" textLength="10.3" lengthAdjust="spacingAndGlyphs">(V)</text>
<text x="586.3" y="38.4" font-size="9" text-anchor="start" fill="#111" stroke="#111" stroke-width="0.32">J<tspan font-size="5.2" dy="1.8">sc</tspan></text>
<text x="593.4" y="50" font-size="9" text-anchor="middle" fill="#111" stroke="#111" stroke-width="0.32" textLength="37" lengthAdjust="spacingAndGlyphs">(mA/cm<tspan font-size="5.5" dy="-2.6">2</tspan><tspan dy="2.6">)</tspan></text>
<text x="628.1" y="38.4" font-size="9" text-anchor="middle" fill="#111" stroke="#111" stroke-width="0.32" textLength="9" lengthAdjust="spacingAndGlyphs">FF</text>
<text x="628.1" y="50" font-size="9" text-anchor="middle" fill="#111" stroke="#111" stroke-width="0.32" textLength="11.5" lengthAdjust="spacingAndGlyphs">(%)</text>
<text x="657.9" y="38.4" font-size="9" text-anchor="middle" fill="#111" stroke="#111" stroke-width="0.32" textLength="14.6" lengthAdjust="spacingAndGlyphs">PCE</text>
<text x="657.9" y="50" font-size="9" text-anchor="middle" fill="#111" stroke="#111" stroke-width="0.32" textLength="11.5" lengthAdjust="spacingAndGlyphs">(%)</text>
<text x="502.7" y="63" font-size="9" text-anchor="start" fill="#111" stroke="#111" stroke-width="0.32" textLength="32.2" lengthAdjust="spacingAndGlyphs">Forward</text>
<text x="503.2" y="79.6" font-size="9" text-anchor="start" fill="#111" stroke="#111" stroke-width="0.32" textLength="30.8" lengthAdjust="spacingAndGlyphs">Reverse</text>
<text x="554.5" y="63" font-size="9" text-anchor="middle" fill="#111" stroke="#111" stroke-width="0.32" textLength="21.1" lengthAdjust="spacingAndGlyphs">1.859</text>
<text x="554.5" y="79.6" font-size="9" text-anchor="middle" fill="#111" stroke="#111" stroke-width="0.32" textLength="21.1" lengthAdjust="spacingAndGlyphs">1.870</text>
<text x="593.6" y="63" font-size="9" text-anchor="middle" fill="#111" stroke="#111" stroke-width="0.32" textLength="16.2" lengthAdjust="spacingAndGlyphs">19.6</text>
<text x="593.6" y="79.6" font-size="9" text-anchor="middle" fill="#111" stroke="#111" stroke-width="0.32" textLength="16.2" lengthAdjust="spacingAndGlyphs">19.6</text>
<text x="629" y="63" font-size="9" text-anchor="middle" fill="#111" stroke="#111" stroke-width="0.32" textLength="16.2" lengthAdjust="spacingAndGlyphs">78.2</text>
<text x="629" y="79.6" font-size="9" text-anchor="middle" fill="#111" stroke="#111" stroke-width="0.32" textLength="16.2" lengthAdjust="spacingAndGlyphs">78.6</text>
<text x="658.1" y="63" font-size="9" text-anchor="middle" fill="#111" stroke="#111" stroke-width="0.32" textLength="16.2" lengthAdjust="spacingAndGlyphs">28.6</text>
<text x="658.1" y="79.6" font-size="9" text-anchor="middle" fill="#111" stroke="#111" stroke-width="0.32" textLength="16.2" lengthAdjust="spacingAndGlyphs">28.9</text>
<text x="581.3" y="121.2" font-size="9.4" fill="#111" stroke="#111" stroke-width="0.3" textLength="63.4" lengthAdjust="spacingAndGlyphs">Aperture area:</text>
<text x="581.6" y="134.6" font-size="9.4" fill="#111" stroke="#111" stroke-width="0.3" textLength="33" lengthAdjust="spacingAndGlyphs">1.03 cm</text><text x="614.8" y="130.6" font-size="5.8" fill="#1a1a1a" stroke="#1a1a1a" stroke-width="0.18">2</text>
<polyline points="480.1,160.4 480.6,160.4 481.2,160.4 481.7,160.4 482.2,160.4 482.8,160.4 483.3,160.3 483.8,160.3 484.4,160.3 484.9,160.3 485.4,160.3 486,160.3 486.5,160.3 487,160.2 487.6,160.2 488.1,160.2 488.6,160.2 489.2,160.2 489.7,160.2 490.2,160.2 490.8,160.1 491.3,160.1 491.8,160.1 492.4,160.1 492.9,160.1 493.4,160.1 494,160.1 494.5,160 495,160 495.6,160 496.1,160 496.6,160 497.2,160 497.7,159.9 498.2,159.9 498.8,159.9 499.3,159.9 499.8,159.9 500.4,159.9 500.9,159.9 501.4,159.8 502,159.8 502.5,159.8 503,159.8 503.6,159.8 504.1,159.8 504.6,159.8 505.2,159.7 505.7,159.7 506.2,159.7 506.8,159.7 507.3,159.7 507.8,159.7 508.4,159.7 508.9,159.6 509.4,159.6 510,159.6 510.5,159.6 511,159.6 511.6,159.6 512.1,159.6 512.6,159.5 513.2,159.5 513.7,159.5 514.2,159.5 514.8,159.5 515.3,159.5 515.8,159.4 516.4,159.4 516.9,159.4 517.4,159.4 518,159.4 518.5,159.4 519,159.4 519.6,159.3 520.1,159.3 520.6,159.3 521.2,159.3 521.7,159.3 522.2,159.3 522.8,159.3 523.3,159.2 523.8,159.2 524.4,159.2 524.9,159.2 525.4,159.2 526,159.2 526.5,159.2 527,159.1 527.6,159.1 528.1,159.1 528.6,159.1 529.2,159.1 529.7,159.1 530.2,159.1 530.8,159 531.3,159 531.8,159 532.4,159 532.9,159 533.4,159 534,158.9 534.5,158.9 535,158.9 535.6,158.9 536.1,158.9 536.6,158.9 537.2,158.9 537.7,158.8 538.2,158.8 538.8,158.8 539.3,158.8 539.8,158.8 540.4,158.8 540.9,158.8 541.4,158.7 542,158.7 542.5,158.7 543,158.7 543.6,158.7 544.1,158.7 544.6,158.7 545.2,158.6 545.7,158.6 546.2,158.6 546.8,158.6 547.3,158.6 547.8,158.6 548.4,158.5 548.9,158.5 549.4,158.5 550,158.5 550.5,158.5 551,158.5 551.6,158.5 552.1,158.4 552.6,158.4 553.2,158.4 553.7,158.4 554.2,158.4 554.8,158.4 555.3,158.4 555.8,158.3 556.4,158.3 556.9,158.3 557.4,158.3 558,158.3 558.5,158.3 559,158.3 559.6,158.2 560.1,158.2 560.6,158.2 561.2,158.2 561.7,158.2 562.2,158.2 562.8,158.2 563.3,158.1 563.8,158.1 564.4,158.1 564.9,158.1 565.4,158.1 566,158.1 566.5,158 567,158 567.6,158 568.1,158 568.6,158 569.2,158 569.7,158 570.2,157.9 570.8,157.9 571.3,157.9 571.8,157.9 572.4,157.9 572.9,157.9 573.4,157.9 574,157.8 574.5,157.8 575,157.8 575.6,157.8 576.1,157.8 576.6,157.8 577.2,157.8 577.7,157.7 578.2,157.7 578.8,157.7 579.3,157.7 579.8,157.7 580.4,157.7 580.9,157.6 581.4,157.6 582,157.6 582.5,157.6 583,157.6 583.6,157.6 584.1,157.6 584.6,157.5 585.2,157.5 585.7,157.5 586.2,157.5 586.8,157.5 587.3,157.5 587.8,157.5 588.4,157.4 588.9,157.4 589.4,157.4 590,157.4 590.5,157.4 591,157.4 591.6,157.3 592.1,157.3 592.6,157.3 593.2,157.3 593.7,157.3 594.2,157.3 594.8,157.3 595.3,157.2 595.8,157.2 596.4,157.2 596.9,157.2 597.4,157.2 598,157.2 598.5,157.1 599,157.1 599.6,157.1 600.1,157.1 600.6,157.1 601.2,157.1 601.7,157.1 602.2,157 602.8,157 603.3,157 603.8,157 604.4,157 604.9,157 605.4,156.9 606,156.9 606.5,156.9 607,156.9 607.6,156.9 608.1,156.9 608.6,156.8 609.2,156.8 609.7,156.8 610.2,156.8 610.8,156.8 611.3,156.8 611.8,156.7 612.4,156.7 612.9,156.7 613.4,156.7 614,156.7 614.5,156.6 615,156.6 615.6,156.6 616.1,156.6 616.6,156.6 617.2,156.5 617.7,156.5 618.2,156.5 618.8,156.5 619.3,156.5 619.8,156.4 620.4,156.4 620.9,156.4 621.4,156.4 622,156.3 622.5,156.3 623,156.3 623.6,156.3 624.1,156.2 624.6,156.2 625.2,156.2 625.7,156.2 626.2,156.1 626.8,156.1 627.3,156.1 627.8,156 628.4,156 628.9,156 629.4,155.9 630,155.9 630.5,155.8 631,155.8 631.6,155.8 632.1,155.7 632.6,155.7 633.2,155.6 633.7,155.6 634.2,155.5 634.8,155.5 635.3,155.4 635.8,155.4 636.3,155.3 636.9,155.3 637.4,155.2 637.9,155.1 638.5,155.1 639,155 639.5,154.9 640.1,154.8 640.6,154.7 641.1,154.7 641.7,154.6 642.2,154.5 642.7,154.4 643.3,154.3 643.8,154.2 644.3,154 644.9,153.9 645.4,153.8 645.9,153.7 646.5,153.5 647,153.4 647.5,153.2 648.1,153.1 648.6,152.9 649.1,152.7 649.7,152.5 650.2,152.3 650.7,152.1 651.3,151.9 651.8,151.6 652.3,151.4 652.9,151.1 653.4,150.9 653.9,150.6 654.5,150.3 655,149.9 655.5,149.6 656.1,149.2 656.6,148.9 657.1,148.5 657.7,148 658.2,147.6 658.7,147.1 659.3,146.6 659.8,146.1 660.3,145.5 660.9,145 661.4,144.3 661.9,143.7 662.5,143 663,142.3 663.5,141.5 664.1,140.7 664.6,139.8 665.1,138.9 665.7,138 666.2,137 666.7,135.9 667.3,134.8 667.8,133.6 668.3,132.3 668.9,131 669.4,129.6 669.9,128.1 670.5,126.5 671,124.9 671.5,123.1 672.1,121.3 672.6,119.3 673.1,117.2 673.7,115.1 674.2,112.7 674.7,110.3 675.3,107.7 675.8,105 676.3,102.1 676.9,99 677.4,95.8 677.9,92.4 678.5,88.8 679,85 679.5,80.9 680.1,76.7 680.6,72.2 681.1,67.4 681.7,62.4 682.2,57 682.7,51.4 683.3,45.4 683.8,39.2 684.3,32.5 684.9,25.5 685.4,23.2" fill="none" stroke="#1e9b97" stroke-width="1.6"/>
<polyline points="480.1,160.1 480.6,160.1 481.2,160.1 481.7,160 482.2,160 482.8,160 483.3,160 483.8,160 484.4,160 484.9,160 485.4,160 486,159.9 486.5,159.9 487,159.9 487.6,159.9 488.1,159.9 488.6,159.9 489.2,159.9 489.7,159.8 490.2,159.8 490.8,159.8 491.3,159.8 491.8,159.8 492.4,159.8 492.9,159.8 493.4,159.8 494,159.7 494.5,159.7 495,159.7 495.6,159.7 496.1,159.7 496.6,159.7 497.2,159.7 497.7,159.7 498.2,159.6 498.8,159.6 499.3,159.6 499.8,159.6 500.4,159.6 500.9,159.6 501.4,159.6 502,159.5 502.5,159.5 503,159.5 503.6,159.5 504.1,159.5 504.6,159.5 505.2,159.5 505.7,159.5 506.2,159.4 506.8,159.4 507.3,159.4 507.8,159.4 508.4,159.4 508.9,159.4 509.4,159.4 510,159.3 510.5,159.3 511,159.3 511.6,159.3 512.1,159.3 512.6,159.3 513.2,159.3 513.7,159.3 514.2,159.2 514.8,159.2 515.3,159.2 515.8,159.2 516.4,159.2 516.9,159.2 517.4,159.2 518,159.2 518.5,159.1 519,159.1 519.6,159.1 520.1,159.1 520.6,159.1 521.2,159.1 521.7,159.1 522.2,159 522.8,159 523.3,159 523.8,159 524.4,159 524.9,159 525.4,159 526,159 526.5,158.9 527,158.9 527.6,158.9 528.1,158.9 528.6,158.9 529.2,158.9 529.7,158.9 530.2,158.9 530.8,158.8 531.3,158.8 531.8,158.8 532.4,158.8 532.9,158.8 533.4,158.8 534,158.8 534.5,158.7 535,158.7 535.6,158.7 536.1,158.7 536.6,158.7 537.2,158.7 537.7,158.7 538.2,158.7 538.8,158.6 539.3,158.6 539.8,158.6 540.4,158.6 540.9,158.6 541.4,158.6 542,158.6 542.5,158.6 543,158.5 543.6,158.5 544.1,158.5 544.6,158.5 545.2,158.5 545.7,158.5 546.2,158.5 546.8,158.4 547.3,158.4 547.8,158.4 548.4,158.4 548.9,158.4 549.4,158.4 550,158.4 550.5,158.4 551,158.3 551.6,158.3 552.1,158.3 552.6,158.3 553.2,158.3 553.7,158.3 554.2,158.3 554.8,158.2 555.3,158.2 555.8,158.2 556.4,158.2 556.9,158.2 557.4,158.2 558,158.2 558.5,158.2 559,158.1 559.6,158.1 560.1,158.1 560.6,158.1 561.2,158.1 561.7,158.1 562.2,158.1 562.8,158.1 563.3,158 563.8,158 564.4,158 564.9,158 565.4,158 566,158 566.5,158 567,157.9 567.6,157.9 568.1,157.9 568.6,157.9 569.2,157.9 569.7,157.9 570.2,157.9 570.8,157.9 571.3,157.8 571.8,157.8 572.4,157.8 572.9,157.8 573.4,157.8 574,157.8 574.5,157.8 575,157.8 575.6,157.7 576.1,157.7 576.6,157.7 577.2,157.7 577.7,157.7 578.2,157.7 578.8,157.7 579.3,157.6 579.8,157.6 580.4,157.6 580.9,157.6 581.4,157.6 582,157.6 582.5,157.6 583,157.6 583.6,157.5 584.1,157.5 584.6,157.5 585.2,157.5 585.7,157.5 586.2,157.5 586.8,157.5 587.3,157.4 587.8,157.4 588.4,157.4 588.9,157.4 589.4,157.4 590,157.4 590.5,157.4 591,157.4 591.6,157.3 592.1,157.3 592.6,157.3 593.2,157.3 593.7,157.3 594.2,157.3 594.8,157.3 595.3,157.2 595.8,157.2 596.4,157.2 596.9,157.2 597.4,157.2 598,157.2 598.5,157.2 599,157.2 599.6,157.1 600.1,157.1 600.6,157.1 601.2,157.1 601.7,157.1 602.2,157.1 602.8,157.1 603.3,157 603.8,157 604.4,157 604.9,157 605.4,157 606,157 606.5,157 607,156.9 607.6,156.9 608.1,156.9 608.6,156.9 609.2,156.9 609.7,156.9 610.2,156.9 610.8,156.8 611.3,156.8 611.8,156.8 612.4,156.8 612.9,156.8 613.4,156.8 614,156.8 614.5,156.7 615,156.7 615.6,156.7 616.1,156.7 616.6,156.7 617.2,156.7 617.7,156.6 618.2,156.6 618.8,156.6 619.3,156.6 619.8,156.6 620.4,156.6 620.9,156.5 621.4,156.5 622,156.5 622.5,156.5 623,156.5 623.6,156.4 624.1,156.4 624.6,156.4 625.2,156.4 625.7,156.4 626.2,156.3 626.8,156.3 627.3,156.3 627.8,156.3 628.4,156.2 628.9,156.2 629.4,156.2 630,156.2 630.5,156.1 631,156.1 631.6,156.1 632.1,156 632.6,156 633.2,156 633.7,155.9 634.2,155.9 634.8,155.9 635.3,155.8 635.8,155.8 636.3,155.7 636.9,155.7 637.4,155.7 637.9,155.6 638.5,155.6 639,155.5 639.5,155.5 640.1,155.4 640.6,155.3 641.1,155.3 641.7,155.2 642.2,155.2 642.7,155.1 643.3,155 643.8,154.9 644.3,154.9 644.9,154.8 645.4,154.7 645.9,154.6 646.5,154.5 647,154.4 647.5,154.3 648.1,154.2 648.6,154 649.1,153.9 649.7,153.8 650.2,153.6 650.7,153.5 651.3,153.3 651.8,153.1 652.3,153 652.9,152.8 653.4,152.6 653.9,152.4 654.5,152.1 655,151.9 655.5,151.7 656.1,151.4 656.6,151.1 657.1,150.8 657.7,150.5 658.2,150.2 658.7,149.9 659.3,149.5 659.8,149.1 660.3,148.7 660.9,148.3 661.4,147.8 661.9,147.3 662.5,146.8 663,146.3 663.5,145.7 664.1,145.1 664.6,144.4 665.1,143.8 665.7,143 666.2,142.3 666.7,141.4 667.3,140.6 667.8,139.7 668.3,138.7 668.9,137.7 669.4,136.6 669.9,135.4 670.5,134.2 671,132.9 671.5,131.6 672.1,130.1 672.6,128.6 673.1,127 673.7,125.2 674.2,123.4 674.7,121.5 675.3,119.4 675.8,117.2 676.3,114.9 676.9,112.5 677.4,109.9 677.9,107.1 678.5,104.2 679,101.1 679.5,97.9 680.1,94.4 680.6,90.7 681.1,86.8 681.7,82.7 682.2,78.3 682.7,73.6 683.3,68.7 683.8,63.5 684.3,57.9 684.9,52.1 685.4,45.8 685.9,39.2 686.5,32.2 687,24.8 687.5,23.2" fill="none" stroke="#1e9b97" stroke-width="1.6"/>
<polyline points="480.1,160.1 480.6,160.1 481.2,160.1 481.7,160 482.2,160 482.8,160 483.3,160 483.8,160 484.4,160 484.9,160 485.4,160 486,159.9 486.5,159.9 487,159.9 487.6,159.9 488.1,159.9 488.6,159.9 489.2,159.9 489.7,159.8 490.2,159.8 490.8,159.8 491.3,159.8 491.8,159.8 492.4,159.8 492.9,159.8 493.4,159.8 494,159.7 494.5,159.7 495,159.7 495.6,159.7 496.1,159.7 496.6,159.7 497.2,159.7 497.7,159.7 498.2,159.6 498.8,159.6 499.3,159.6 499.8,159.6 500.4,159.6 500.9,159.6 501.4,159.6 502,159.5 502.5,159.5 503,159.5 503.6,159.5 504.1,159.5 504.6,159.5 505.2,159.5 505.7,159.5 506.2,159.4 506.8,159.4 507.3,159.4 507.8,159.4 508.4,159.4 508.9,159.4 509.4,159.4 510,159.3 510.5,159.3 511,159.3 511.6,159.3 512.1,159.3 512.6,159.3 513.2,159.3 513.7,159.3 514.2,159.2 514.8,159.2 515.3,159.2 515.8,159.2 516.4,159.2 516.9,159.2 517.4,159.2 518,159.2 518.5,159.1 519,159.1 519.6,159.1 520.1,159.1 520.6,159.1 521.2,159.1 521.7,159.1 522.2,159 522.8,159 523.3,159 523.8,159 524.4,159 524.9,159 525.4,159 526,159 526.5,158.9 527,158.9 527.6,158.9 528.1,158.9 528.6,158.9 529.2,158.9 529.7,158.9 530.2,158.9 530.8,158.8 531.3,158.8 531.8,158.8 532.4,158.8 532.9,158.8 533.4,158.8 534,158.8 534.5,158.7 535,158.7 535.6,158.7 536.1,158.7 536.6,158.7 537.2,158.7 537.7,158.7 538.2,158.7 538.8,158.6 539.3,158.6 539.8,158.6 540.4,158.6 540.9,158.6 541.4,158.6 542,158.6 542.5,158.6 543,158.5 543.6,158.5 544.1,158.5 544.6,158.5 545.2,158.5 545.7,158.5 546.2,158.5 546.8,158.4 547.3,158.4 547.8,158.4 548.4,158.4 548.9,158.4 549.4,158.4 550,158.4 550.5,158.4 551,158.3 551.6,158.3 552.1,158.3 552.6,158.3 553.2,158.3 553.7,158.3 554.2,158.3 554.8,158.2 555.3,158.2 555.8,158.2 556.4,158.2 556.9,158.2 557.4,158.2 558,158.2 558.5,158.2 559,158.1 559.6,158.1 560.1,158.1 560.6,158.1 561.2,158.1 561.7,158.1 562.2,158.1 562.8,158.1 563.3,158 563.8,158 564.4,158 564.9,158 565.4,158 566,158 566.5,158 567,157.9 567.6,157.9 568.1,157.9 568.6,157.9 569.2,157.9 569.7,157.9 570.2,157.9 570.8,157.9 571.3,157.8 571.8,157.8 572.4,157.8 572.9,157.8 573.4,157.8 574,157.8 574.5,157.8 575,157.8 575.6,157.7 576.1,157.7 576.6,157.7 577.2,157.7 577.7,157.7 578.2,157.7 578.8,157.7 579.3,157.6 579.8,157.6 580.4,157.6 580.9,157.6 581.4,157.6 582,157.6 582.5,157.6 583,157.6 583.6,157.5 584.1,157.5 584.6,157.5 585.2,157.5 585.7,157.5 586.2,157.5 586.8,157.5 587.3,157.4 587.8,157.4 588.4,157.4 588.9,157.4 589.4,157.4 590,157.4 590.5,157.4 591,157.4 591.6,157.3 592.1,157.3 592.6,157.3 593.2,157.3 593.7,157.3 594.2,157.3 594.8,157.3 595.3,157.2 595.8,157.2 596.4,157.2 596.9,157.2 597.4,157.2 598,157.2 598.5,157.2 599,157.2 599.6,157.1 600.1,157.1 600.6,157.1 601.2,157.1 601.7,157.1 602.2,157.1 602.8,157.1 603.3,157 603.8,157 604.4,157 604.9,157 605.4,157 606,157 606.5,157 607,156.9 607.6,156.9 608.1,156.9 608.6,156.9 609.2,156.9 609.7,156.9 610.2,156.9 610.8,156.8 611.3,156.8 611.8,156.8 612.4,156.8 612.9,156.8 613.4,156.8 614,156.8 614.5,156.7 615,156.7 615.6,156.7 616.1,156.7 616.6,156.7 617.2,156.7 617.7,156.6 618.2,156.6 618.8,156.6 619.3,156.6 619.8,156.6 620.4,156.6 620.9,156.5 621.4,156.5 622,156.5 622.5,156.5 623,156.5 623.6,156.4 624.1,156.4 624.6,156.4 625.2,156.4 625.7,156.4 626.2,156.3 626.8,156.3 627.3,156.3 627.8,156.3 628.4,156.2 628.9,156.2 629.4,156.2 630,156.2 630.5,156.1 631,156.1 631.6,156.1 632.1,156 632.6,156 633.2,156 633.7,155.9 634.2,155.9 634.8,155.9 635.3,155.8 635.8,155.8 636.3,155.7 636.9,155.7 637.4,155.7 637.9,155.6 638.5,155.6 639,155.5 639.5,155.5 640.1,155.4 640.6,155.3 641.1,155.3 641.7,155.2 642.2,155.2 642.7,155.1 643.3,155 643.8,154.9 644.3,154.9 644.9,154.8 645.4,154.7 645.9,154.6 646.5,154.5 647,154.4 647.5,154.3 648.1,154.2 648.6,154 649.1,153.9 649.7,153.8 650.2,153.6 650.7,153.5 651.3,153.3 651.8,153.1 652.3,153 652.9,152.8 653.4,152.6 653.9,152.4 654.5,152.1 655,151.9 655.5,151.7 656.1,151.4 656.6,151.1 657.1,150.8 657.7,150.5 658.2,150.2" fill="none" stroke="#1e9b97" stroke-width="2.9"/>
<circle cx="652.9" cy="151.1" r="1.15" fill="#fff" stroke="#1e9b97" stroke-width="0.7"/>
<circle cx="655.5" cy="149.6" r="1.15" fill="#fff" stroke="#1e9b97" stroke-width="0.7"/>
<circle cx="658.2" cy="147.6" r="1.15" fill="#fff" stroke="#1e9b97" stroke-width="0.7"/>
<circle cx="660.9" cy="145" r="1.15" fill="#fff" stroke="#1e9b97" stroke-width="0.7"/>
<circle cx="663" cy="142.3" r="1.15" fill="#fff" stroke="#1e9b97" stroke-width="0.7"/>
<circle cx="665.1" cy="138.9" r="1.15" fill="#fff" stroke="#1e9b97" stroke-width="0.7"/>
<circle cx="666.7" cy="135.9" r="1.15" fill="#fff" stroke="#1e9b97" stroke-width="0.7"/>
<circle cx="668.3" cy="132.3" r="1.15" fill="#fff" stroke="#1e9b97" stroke-width="0.7"/>
<circle cx="669.9" cy="128.1" r="1.15" fill="#fff" stroke="#1e9b97" stroke-width="0.7"/>
<circle cx="671" cy="124.9" r="1.15" fill="#fff" stroke="#1e9b97" stroke-width="0.7"/>
<circle cx="672.1" cy="121.3" r="1.15" fill="#fff" stroke="#1e9b97" stroke-width="0.7"/>
<circle cx="673.1" cy="117.2" r="1.15" fill="#fff" stroke="#1e9b97" stroke-width="0.7"/>
<circle cx="674.2" cy="112.7" r="1.15" fill="#fff" stroke="#1e9b97" stroke-width="0.7"/>
<circle cx="675.3" cy="107.7" r="1.15" fill="#fff" stroke="#1e9b97" stroke-width="0.7"/>
<circle cx="676.3" cy="102.1" r="1.15" fill="#fff" stroke="#1e9b97" stroke-width="0.7"/>
<circle cx="676.9" cy="99" r="1.15" fill="#fff" stroke="#1e9b97" stroke-width="0.7"/>
<circle cx="677.4" cy="95.8" r="1.15" fill="#fff" stroke="#1e9b97" stroke-width="0.7"/>
<circle cx="677.9" cy="92.4" r="1.15" fill="#fff" stroke="#1e9b97" stroke-width="0.7"/>
<circle cx="678.5" cy="88.8" r="1.15" fill="#fff" stroke="#1e9b97" stroke-width="0.7"/>
<circle cx="679" cy="85" r="1.15" fill="#fff" stroke="#1e9b97" stroke-width="0.7"/>
<circle cx="679.5" cy="80.9" r="1.15" fill="#fff" stroke="#1e9b97" stroke-width="0.7"/>
<circle cx="680.1" cy="76.7" r="1.15" fill="#fff" stroke="#1e9b97" stroke-width="0.7"/>
<circle cx="680.6" cy="72.2" r="1.15" fill="#fff" stroke="#1e9b97" stroke-width="0.7"/>
<circle cx="681.1" cy="67.4" r="1.15" fill="#fff" stroke="#1e9b97" stroke-width="0.7"/>
<circle cx="681.7" cy="62.4" r="1.15" fill="#fff" stroke="#1e9b97" stroke-width="0.7"/>
<circle cx="682.2" cy="57" r="1.15" fill="#fff" stroke="#1e9b97" stroke-width="0.7"/>
<circle cx="682.7" cy="51.4" r="1.15" fill="#fff" stroke="#1e9b97" stroke-width="0.7"/>
<circle cx="683.3" cy="45.4" r="1.15" fill="#fff" stroke="#1e9b97" stroke-width="0.7"/>
<circle cx="683.8" cy="39.2" r="1.15" fill="#fff" stroke="#1e9b97" stroke-width="0.7"/>
<circle cx="684.3" cy="32.5" r="1.15" fill="#fff" stroke="#1e9b97" stroke-width="0.7"/>
<circle cx="684.9" cy="25.5" r="1.15" fill="#fff" stroke="#1e9b97" stroke-width="0.7"/>
<rect x="648.5" y="152.6" width="2.4" height="2.4" fill="#1e9b97"/>
<rect x="651.7" y="151.6" width="2.4" height="2.4" fill="#1e9b97"/>
<rect x="654.9" y="150.2" width="2.4" height="2.4" fill="#1e9b97"/>
<rect x="657.5" y="148.7" width="2.4" height="2.4" fill="#1e9b97"/>
<rect x="660.2" y="146.6" width="2.4" height="2.4" fill="#1e9b97"/>
<rect x="662.3" y="144.5" width="2.4" height="2.4" fill="#1e9b97"/>
<rect x="664.5" y="141.8" width="2.4" height="2.4" fill="#1e9b97"/>
<rect x="666.6" y="138.5" width="2.4" height="2.4" fill="#1e9b97"/>
<rect x="668.2" y="135.4" width="2.4" height="2.4" fill="#1e9b97"/>
<rect x="669.8" y="131.7" width="2.4" height="2.4" fill="#1e9b97"/>
<rect x="670.9" y="128.9" width="2.4" height="2.4" fill="#1e9b97"/>
<rect x="671.9" y="125.8" width="2.4" height="2.4" fill="#1e9b97"/>
<rect x="673" y="122.2" width="2.4" height="2.4" fill="#1e9b97"/>
<rect x="674.1" y="118.2" width="2.4" height="2.4" fill="#1e9b97"/>
<rect x="675.1" y="113.7" width="2.4" height="2.4" fill="#1e9b97"/>
<rect x="676.2" y="108.7" width="2.4" height="2.4" fill="#1e9b97"/>
<rect x="677.3" y="103" width="2.4" height="2.4" fill="#1e9b97"/>
<rect x="677.8" y="99.9" width="2.4" height="2.4" fill="#1e9b97"/>
<rect x="678.3" y="96.7" width="2.4" height="2.4" fill="#1e9b97"/>
<rect x="678.9" y="93.2" width="2.4" height="2.4" fill="#1e9b97"/>
<rect x="679.4" y="89.5" width="2.4" height="2.4" fill="#1e9b97"/>
<rect x="679.9" y="85.6" width="2.4" height="2.4" fill="#1e9b97"/>
<rect x="680.5" y="81.5" width="2.4" height="2.4" fill="#1e9b97"/>
<rect x="681" y="77.1" width="2.4" height="2.4" fill="#1e9b97"/>
<rect x="681.5" y="72.4" width="2.4" height="2.4" fill="#1e9b97"/>
<rect x="682.1" y="67.5" width="2.4" height="2.4" fill="#1e9b97"/>
<rect x="682.6" y="62.3" width="2.4" height="2.4" fill="#1e9b97"/>
<rect x="683.1" y="56.7" width="2.4" height="2.4" fill="#1e9b97"/>
<rect x="683.7" y="50.9" width="2.4" height="2.4" fill="#1e9b97"/>
<rect x="684.2" y="44.6" width="2.4" height="2.4" fill="#1e9b97"/>
<rect x="684.7" y="38" width="2.4" height="2.4" fill="#1e9b97"/>
<rect x="685.3" y="31" width="2.4" height="2.4" fill="#1e9b97"/>
<rect x="685.8" y="23.6" width="2.4" height="2.4" fill="#1e9b97"/>
<line x1="633" y1="161.2" x2="650" y2="161.2" stroke="#1e9b97" stroke-width="1.4"/><circle cx="641.5" cy="161.2" r="1.6" fill="#fff" stroke="#1e9b97" stroke-width="0.8"/>
<line x1="633" y1="170.4" x2="650" y2="170.4" stroke="#1e9b97" stroke-width="1.4"/><rect x="640" y="168.9" width="3" height="3" fill="#1e9b97"/>
<text x="652.4" y="164.2" font-size="8.2" fill="#222" textLength="29" lengthAdjust="spacingAndGlyphs" stroke="#222" stroke-width="0.18">Forward</text>
<text x="652.4" y="173.4" font-size="8.2" fill="#222" textLength="29" lengthAdjust="spacingAndGlyphs" stroke="#222" stroke-width="0.18">Reverse</text>
<g clip-path="url(#photod)">
<rect x="31" y="238" width="186" height="176" fill="#cdc9c3"/>
<linearGradient id="dup" x1="0" y1="0" x2="1" y2="0"><stop offset="0" stop-color="#c4bcae"/><stop offset="0.5" stop-color="#ab9d86"/><stop offset="1" stop-color="#aca292"/></linearGradient>
<rect x="70" y="238" width="147" height="95" fill="url(#dup)"/>
<g filter="url(#blur2)">
<circle cx="150.2" cy="292.3" r="4.3" fill="#f6f3ee"/>
<rect x="199.3" y="256.4" width="4" height="6.8" fill="#f6f3ee"/>
<rect x="132" y="246.8" width="3.4" height="9.8" fill="#5f574c"/>
<circle cx="150.3" cy="309.7" r="3.5" fill="#a8977c"/>
<rect x="159.5" y="243.8" width="2.1" height="4.8" fill="#a39277"/>
<circle cx="167.1" cy="256.9" r="2.2" fill="#8c7b62"/>
<rect x="175.8" y="282.4" width="2.5" height="7.6" fill="#978a78"/>
<rect x="133.5" y="260.3" width="1.2" height="4.2" fill="#d9d1c3"/>
<circle cx="130.5" cy="244.5" r="1.6" fill="#7d705e"/>
<circle cx="120.6" cy="326.3" r="2.9" fill="#5f574c"/>
<circle cx="103.9" cy="299.1" r="3.8" fill="#8c7b62"/>
<circle cx="133" cy="239.5" r="2.7" fill="#d9d1c3"/>
<circle cx="181.3" cy="239.1" r="2.9" fill="#f6f3ee"/>
<rect x="163.2" y="281.4" width="1.5" height="5.1" fill="#5f574c"/>
<circle cx="143.2" cy="334" r="1.5" fill="#a8977c"/>
<rect x="203" y="258.4" width="1.3" height="10.7" fill="#a8977c"/>
<rect x="121" y="263.1" width="2.7" height="6.4" fill="#6f6558"/>
<circle cx="120.5" cy="299.7" r="1.5" fill="#6f6558"/>
<circle cx="150.3" cy="331" r="3" fill="#a8977c"/>
<rect x="142.1" y="298.8" width="1.5" height="4.8" fill="#a39277"/>
<rect x="185.2" y="329.2" width="1.8" height="5.3" fill="#c4baa9"/>
<rect x="107.7" y="241.8" width="3.1" height="11.2" fill="#a39277"/>
<rect x="205.4" y="285.6" width="1.5" height="8.3" fill="#5f574c"/>
<rect x="174.7" y="297.7" width="1" height="2.7" fill="#a39277"/>
<circle cx="127.8" cy="281.2" r="1.7" fill="#b9aa90"/>
<rect x="159.8" y="332.4" width="2.1" height="5.6" fill="#b9aa90"/>
<rect x="179.3" y="294.7" width="1.5" height="4.6" fill="#efeae2"/>
<circle cx="133" cy="241.3" r="3.3" fill="#d9d1c3"/>
<circle cx="184.1" cy="268.9" r="4.5" fill="#d9d1c3"/>
<rect x="139.9" y="242.3" width="4.5" height="16.3" fill="#5f574c"/>
<rect x="137.9" y="304.5" width="1.8" height="11.6" fill="#c4baa9"/>
<rect x="96.8" y="302.2" width="1.2" height="8.2" fill="#efeae2"/>
<rect x="216.2" y="323.3" width="3.5" height="9.7" fill="#c4baa9"/>
<circle cx="151.4" cy="290.5" r="3.1" fill="#978a78"/>
<circle cx="168.4" cy="284.7" r="2.2" fill="#5f574c"/>
<circle cx="190.2" cy="302" r="3" fill="#efeae2"/>
<rect x="112.5" y="297.3" width="2.3" height="11.4" fill="#6f6558"/>
<rect x="134.9" y="302.6" width="2.1" height="4.2" fill="#c4baa9"/>
<circle cx="121.1" cy="259.3" r="4.3" fill="#a39277"/>
<circle cx="155.6" cy="319.2" r="4" fill="#5f574c"/>
<circle cx="214.6" cy="317.7" r="1.8" fill="#f6f3ee"/>
<rect x="121.1" y="278.2" width="3.3" height="12.2" fill="#f6f3ee"/>
<rect x="171.2" y="269.1" width="1.7" height="13" fill="#8c7b62"/>
<rect x="164.6" y="268" width="2.8" height="7.7" fill="#efeae2"/>
<rect x="188.8" y="263.8" width="1.9" height="6.8" fill="#efeae2"/>
<rect x="160.3" y="300.1" width="1.5" height="7" fill="#d9d1c3"/>
<circle cx="116.8" cy="239" r="2.9" fill="#5f574c"/>
<rect x="122.6" y="313.5" width="3.7" height="5.9" fill="#978a78"/>
<rect x="198.5" y="305.9" width="2.1" height="4" fill="#c4baa9"/>
<rect x="150.3" y="298.7" width="3.9" height="11.7" fill="#c4baa9"/>
<circle cx="195" cy="271.3" r="2.5" fill="#a39277"/>
<circle cx="200.7" cy="315.4" r="4.3" fill="#d9d1c3"/>
<rect x="204.8" y="333.1" width="5.1" height="9.5" fill="#978a78"/>
<circle cx="182.6" cy="239.5" r="3" fill="#efeae2"/>
<circle cx="162.1" cy="312.5" r="3" fill="#efeae2"/>
<circle cx="200.8" cy="279.6" r="1.6" fill="#978a78"/>
<rect x="191.1" y="251.6" width="1.6" height="6.2" fill="#978a78"/>
<circle cx="148.7" cy="323.4" r="3.2" fill="#5f574c"/>
<rect x="122" y="289.1" width="1.3" height="6.6" fill="#5f574c"/>
<circle cx="205.7" cy="262.9" r="3.5" fill="#a8977c"/>
<circle cx="198.8" cy="331.9" r="3.1" fill="#a8977c"/>
<circle cx="145.2" cy="249.1" r="1.5" fill="#c4baa9"/>
<circle cx="213.3" cy="288.1" r="2.7" fill="#a8977c"/>
<circle cx="106.4" cy="254.2" r="4.3" fill="#f6f3ee"/>
<circle cx="211.7" cy="327.6" r="2.3" fill="#f6f3ee"/>
<rect x="136.4" y="325.4" width="2.1" height="11" fill="#f6f3ee"/>
<circle cx="98.6" cy="263.2" r="3.6" fill="#efeae2"/>
<circle cx="114" cy="239.1" r="2.4" fill="#5f574c"/>
<rect x="170.6" y="248.2" width="3.3" height="12.2" fill="#d9d1c3"/>
<circle cx="180.6" cy="323.2" r="1.6" fill="#7d705e"/>
<rect x="159.6" y="253.5" width="1.2" height="4.3" fill="#7d705e"/>
<rect x="161.2" y="294.9" width="1.3" height="3.7" fill="#5f574c"/>
<rect x="168.6" y="324.4" width="1.1" height="4.4" fill="#a39277"/>
<rect x="183.6" y="263.2" width="1.7" height="3.6" fill="#c4baa9"/>
<rect x="171.6" y="315.5" width="2" height="7" fill="#a8977c"/>
<rect x="109.1" y="287.1" width="4" height="13.2" fill="#978a78"/>
<rect x="153.8" y="240.4" width="3.2" height="7.1" fill="#a8977c"/>
<rect x="117.5" y="257.8" width="1.9" height="6.7" fill="#8c7b62"/>
<circle cx="211.1" cy="282.8" r="3.8" fill="#6f6558"/>
<circle cx="147" cy="272.4" r="2.1" fill="#6f6558"/>
<circle cx="180.5" cy="319.9" r="2" fill="#f6f3ee"/>
<rect x="140.2" y="327.4" width="1.4" height="12.4" fill="#d9d1c3"/>
<rect x="192.8" y="306.4" width="3.5" height="8.1" fill="#7d705e"/>
<rect x="166.3" y="271.1" width="3.8" height="13" fill="#8c7b62"/>
<rect x="194.4" y="277.3" width="4.2" height="14.3" fill="#978a78"/>
<circle cx="144.5" cy="308.1" r="1.7" fill="#6f6558"/>
<circle cx="107.3" cy="324.1" r="4.5" fill="#a8977c"/>
<rect x="128.3" y="331.3" width="2.1" height="6.8" fill="#a39277"/>
<circle cx="142.5" cy="335" r="3.4" fill="#5f574c"/>
<rect x="143.2" y="293.8" width="1.1" height="4.6" fill="#d9d1c3"/>
<circle cx="101.2" cy="257" r="2.6" fill="#d9d1c3"/>
<rect x="128.6" y="271.1" width="2.7" height="12.4" fill="#c4baa9"/>
<rect x="172.8" y="316.5" width="2" height="4.3" fill="#a8977c"/>
<rect x="209.5" y="275.4" width="3.9" height="11.4" fill="#f6f3ee"/>
<circle cx="155.3" cy="265.6" r="2.7" fill="#8c7b62"/>
<rect x="129.9" y="301.5" width="3.2" height="5" fill="#8c7b62"/>
<rect x="189.2" y="294.8" width="2.4" height="12.7" fill="#c4baa9"/>
<circle cx="186.3" cy="242.9" r="4.5" fill="#6f6558"/>
<circle cx="205.5" cy="279.7" r="2.9" fill="#a39277"/>
<rect x="107" y="316.6" width="4.5" height="12.7" fill="#b9aa90"/>
<rect x="109" y="298.6" width="2" height="5.4" fill="#a39277"/>
<circle cx="139.3" cy="251.6" r="2.8" fill="#a8977c"/>
<rect x="166" y="278.7" width="2" height="8.5" fill="#978a78"/>
<rect x="110.7" y="284.7" width="2.7" height="7.2" fill="#8c7b62"/>
<circle cx="128.1" cy="304.4" r="3.2" fill="#a8977c"/>
<rect x="129" y="261.2" width="4.9" height="16.1" fill="#978a78"/>
<circle cx="99.8" cy="243.9" r="2.3" fill="#c4baa9"/>
<rect x="99.6" y="259.6" width="1.2" height="4.9" fill="#d9d1c3"/>
<circle cx="214.7" cy="284.9" r="2.6" fill="#6f6558"/>
<circle cx="185.9" cy="319.3" r="1.7" fill="#d9d1c3"/>
<circle cx="195.3" cy="319.3" r="3.8" fill="#f6f3ee"/>
<rect x="126.5" y="316.6" width="2.3" height="5.8" fill="#7d705e"/>
<circle cx="187.6" cy="318.1" r="2.1" fill="#7d705e"/>
<circle cx="106.8" cy="322.9" r="1.7" fill="#d9d1c3"/>
<circle cx="164.3" cy="317.1" r="2.9" fill="#efeae2"/>
<circle cx="121" cy="302.2" r="1.7" fill="#8c7b62"/>
<circle cx="188.2" cy="269.8" r="4.1" fill="#a39277"/>
<circle cx="183.6" cy="273.5" r="1.9" fill="#5f574c"/>
<circle cx="167.6" cy="325.5" r="3.6" fill="#8c7b62"/>
<rect x="193" y="267.6" width="2.4" height="6.8" fill="#c4baa9"/>
<circle cx="105.3" cy="318.4" r="1.6" fill="#7d705e"/>
<rect x="142.3" y="256.9" width="3.4" height="9.3" fill="#c4baa9"/>
<rect x="116.5" y="311.6" width="2.4" height="6.8" fill="#8c7b62"/>
<circle cx="114.4" cy="266.7" r="1.6" fill="#c4baa9"/>
<circle cx="161.7" cy="314.4" r="1.8" fill="#d9d1c3"/>
<circle cx="107.9" cy="268.4" r="1.6" fill="#7d705e"/>
<circle cx="186" cy="301" r="2.2" fill="#a39277"/>
<circle cx="205.7" cy="270.8" r="2.9" fill="#6f6558"/>
<rect x="213.1" y="303.2" width="1.4" height="9.1" fill="#978a78"/>
<rect x="100.6" y="311.4" width="4.7" height="16" fill="#6f6558"/>
<circle cx="203.4" cy="330.9" r="3.4" fill="#978a78"/>
<circle cx="96.2" cy="248.7" r="4.3" fill="#b9aa90"/>
<circle cx="114.8" cy="299.6" r="3.6" fill="#6f6558"/>
<circle cx="146.8" cy="266.3" r="4.4" fill="#efeae2"/>
<rect x="184.2" y="267.4" width="2" height="3" fill="#b9aa90"/>
<circle cx="153.7" cy="315.6" r="2.4" fill="#a39277"/>
<rect x="121.5" y="260.8" width="2.8" height="13.6" fill="#a8977c"/>
<rect x="144.1" y="326.3" width="4.5" height="11.6" fill="#7d705e"/>
<rect x="126.8" y="324.1" width="4.3" height="7.3" fill="#6f6558"/>
<rect x="200.2" y="276.7" width="1.5" height="6.1" fill="#b9aa90"/>
<rect x="194" y="238" width="23" height="16" fill="#7a766f"/>
<rect x="198" y="294" width="6" height="12" fill="#6d86a8"/>
</g>
<path d="M186,312 L194,308 L203,309 L205,330 L200,334 L187,333 Z" fill="#f2c21e" filter="url(#blur1)"/>
<rect x="194" y="308" width="6" height="9" fill="#e0952a" filter="url(#blur1)"/>
<polygon points="172,336 217,326 217,414 172,414" fill="#c7c6c3"/>
<polygon points="168,342 188,339 188,386 168,388" fill="#dcdde0" filter="url(#blur1)"/>
<line x1="172" y1="350" x2="186" y2="348" stroke="#9fb2cc" stroke-width="1" opacity="0.7"/><line x1="172" y1="362" x2="186" y2="360" stroke="#9fb2cc" stroke-width="1" opacity="0.7"/>
<rect x="202" y="359" width="10" height="23" rx="2.5" fill="none" stroke="#868380" stroke-width="2.2" filter="url(#blur1)"/>
<rect x="186.5" y="366" width="7" height="8" fill="#8c8a88" filter="url(#blur1)"/>
<line x1="215" y1="330" x2="215" y2="414" stroke="#b0aca6" stroke-width="1.5"/>
<g filter="url(#blur1)">
<rect x="60" y="268" width="22" height="42" fill="#dedbd5"/>
<path d="M31,272 L67,272 L67,301 L31,301.5 Z" fill="#4f4f52"/>
<rect x="31" y="301" width="33" height="7" fill="#d9d7d3"/>
<rect x="31" y="308" width="37" height="19" fill="#3c3e40"/>
<rect x="33" y="315" width="30" height="3" fill="#4e8f86" opacity="0.7"/>
<rect x="31" y="323.5" width="30" height="2" fill="#3f6fc0" opacity="0.8"/>
<rect x="31" y="327" width="30" height="8" fill="#e6e6e4"/>
<path d="M31,335 L52,335 Q58,342 55,352 L31,352 Z" fill="#444446"/>
</g>
<rect x="31" y="352" width="42" height="62" fill="#e2e1de"/>
<line x1="72.5" y1="352" x2="72.5" y2="414" stroke="#a9a7a3" stroke-width="1"/>
<rect x="73" y="370" width="60" height="44" fill="#d3d2cf"/>
<rect x="31" y="374" width="20" height="18.5" rx="3" fill="#e6bd24" filter="url(#blur1)"/>
<ellipse cx="45.5" cy="382" rx="5" ry="5.5" fill="#d24848" filter="url(#blur1)"/>
<rect x="30" y="405" width="15" height="10" fill="#2e2e2e" filter="url(#blur1)"/>
<path d="M30,238 L53,238 L53,252 L100,252 L100,259 L84,261.8 L80.8,266.6 L71.3,275.3 L61.7,278.5 L45.9,284 L38,288 L30,290.4 Z" fill="#4c87d6"/>
<path d="M30,246 L44,250 L44,272 L38,288 L30,290 Z" fill="#86b6ec" opacity="0.6" filter="url(#blur2)"/>
<path d="M30,237 L53,237 L53,243 L42,245 L30,249 Z" fill="#c4d8f2" opacity="0.9" filter="url(#blur1)"/>
<path d="M31,247 Q38,258 44.5,270" stroke="#d6e4f6" stroke-width="1.1" fill="none" opacity="0.8" filter="url(#blur1)"/>
<path d="M60,262 Q75,262 88,258" stroke="#3a70c0" stroke-width="1.5" fill="none" opacity="0.6" filter="url(#blur1)"/>
<path d="M136,269 L138,255 L139.5,238" stroke="#e8e8e8" stroke-width="2" fill="none"/>
<path d="M101,380 L99,392 L95,404 L91,415" stroke="#dfe6ee" stroke-width="2.4" fill="none"/>
<path d="M100.5,384 L98.5,393" stroke="#4a7fd0" stroke-width="1.6" fill="none"/>
<polygon points="85.3,260.3 186.4,281.7 183,310 172.9,340 164.3,378.6 158,392 140.7,390.4 100,379.6 46.4,362.5" fill="#2b2a2c"/>
<polygon points="85.3,260.3 186.4,281.7 185.5,287 84,266.5" fill="#3c3c40"/>
<line x1="134" y1="269" x2="126" y2="386" stroke="#3f3f44" stroke-width="0.9"/>
<line x1="176" y1="279.5" x2="161" y2="390" stroke="#3a3a3f" stroke-width="0.9"/>
<polygon points="91.3,275.7 168.4,292.9 147,374.3 67.9,352.9" fill="#cbc0ad"/>
<linearGradient id="act" x1="0" y1="0" x2="1" y2="1"><stop offset="0" stop-color="#3e4638"/><stop offset="1" stop-color="#30362b"/></linearGradient>
<polygon points="93.3,278.2 165.8,294.4 145.2,371.6 70.3,351.3" fill="url(#act)"/>
<line x1="90.4" y1="287.3" x2="163.2" y2="304" stroke="#85856a" stroke-width="0.5" opacity="0.85"/>
<line x1="87.5" y1="296.5" x2="160.7" y2="313.7" stroke="#85856a" stroke-width="0.5" opacity="0.85"/>
<line x1="84.7" y1="305.6" x2="158.1" y2="323.4" stroke="#85856a" stroke-width="0.5" opacity="0.85"/>
<line x1="81.8" y1="314.8" x2="155.5" y2="333" stroke="#85856a" stroke-width="0.5" opacity="0.85"/>
<line x1="78.9" y1="323.9" x2="152.9" y2="342.6" stroke="#85856a" stroke-width="0.5" opacity="0.85"/>
<line x1="76" y1="333" x2="150.3" y2="352.3" stroke="#85856a" stroke-width="0.5" opacity="0.85"/>
<line x1="73.2" y1="342.2" x2="147.8" y2="362" stroke="#85856a" stroke-width="0.5" opacity="0.85"/>
<path d="M118,415 L125,402 L146.5,391 L168,383.6 L183.2,385.7 L190.7,395.4 L192,415 Z" fill="#5a98e6"/>
<path d="M150,397 Q168,388 182,390 Q188,398 188,412 L158,412 Z" fill="#7fb6f2" opacity="0.6" filter="url(#blur2)"/>
<rect x="52.1" y="238.4" width="141.5" height="13.6" fill="#f1f2f5" opacity="0.92"/>
</g>
<text x="61.1" y="249.3" font-size="9.6" fill="#111" textLength="105.7" lengthAdjust="spacingAndGlyphs" stroke="#111" stroke-width="0.18">Aperture area = 12.25 cm</text><text x="167.4" y="245" font-size="6" fill="#111" stroke="#111" stroke-width="0.18">2</text>
<rect x="276.4" y="242.3" width="417.9" height="162.4" fill="none" stroke="#999" stroke-width="0.9"/>
<text x="271.5" y="408.1" font-size="9.2" text-anchor="end" fill="#222" stroke="#222" stroke-width="0.18">0</text>
<line x1="276.4" y1="381.7" x2="278.9" y2="381.7" stroke="#777" stroke-width="0.7"/>
<text x="271.5" y="385" font-size="9.2" text-anchor="end" fill="#222" stroke="#222" stroke-width="0.18">4</text>
<line x1="276.4" y1="358.5" x2="278.9" y2="358.5" stroke="#777" stroke-width="0.7"/>
<text x="271.5" y="361.8" font-size="9.2" text-anchor="end" fill="#222" stroke="#222" stroke-width="0.18">8</text>
<line x1="276.4" y1="335.4" x2="278.9" y2="335.4" stroke="#777" stroke-width="0.7"/>
<text x="271.5" y="338.7" font-size="9.2" text-anchor="end" fill="#222" stroke="#222" stroke-width="0.18">12</text>
<line x1="276.4" y1="312.2" x2="278.9" y2="312.2" stroke="#777" stroke-width="0.7"/>
<text x="271.5" y="315.5" font-size="9.2" text-anchor="end" fill="#222" stroke="#222" stroke-width="0.18">16</text>
<line x1="276.4" y1="289.1" x2="278.9" y2="289.1" stroke="#777" stroke-width="0.7"/>
<text x="271.5" y="292.4" font-size="9.2" text-anchor="end" fill="#222" stroke="#222" stroke-width="0.18">20</text>
<line x1="276.4" y1="265.9" x2="278.9" y2="265.9" stroke="#777" stroke-width="0.7"/>
<text x="271.5" y="269.2" font-size="9.2" text-anchor="end" fill="#222" stroke="#222" stroke-width="0.18">24</text>
<text x="271.5" y="246.1" font-size="9.2" text-anchor="end" fill="#222" stroke="#222" stroke-width="0.18">28</text>
<text x="276.4" y="419" font-size="9.2" text-anchor="middle" fill="#222" stroke="#222" stroke-width="0.18">0</text>
<line x1="336.1" y1="404.7" x2="336.1" y2="402.2" stroke="#777" stroke-width="0.7"/>
<text x="336.1" y="419" font-size="9.2" text-anchor="middle" fill="#222" stroke="#222" stroke-width="0.18">2</text>
<line x1="395.8" y1="404.7" x2="395.8" y2="402.2" stroke="#777" stroke-width="0.7"/>
<text x="395.8" y="419" font-size="9.2" text-anchor="middle" fill="#222" stroke="#222" stroke-width="0.18">4</text>
<line x1="455.4" y1="404.7" x2="455.4" y2="402.2" stroke="#777" stroke-width="0.7"/>
<text x="455.4" y="419" font-size="9.2" text-anchor="middle" fill="#222" stroke="#222" stroke-width="0.18">6</text>
<line x1="515.1" y1="404.7" x2="515.1" y2="402.2" stroke="#777" stroke-width="0.7"/>
<text x="515.1" y="419" font-size="9.2" text-anchor="middle" fill="#222" stroke="#222" stroke-width="0.18">8</text>
<line x1="574.8" y1="404.7" x2="574.8" y2="402.2" stroke="#777" stroke-width="0.7"/>
<text x="574.8" y="419" font-size="9.2" text-anchor="middle" fill="#222" stroke="#222" stroke-width="0.18">10</text>
<line x1="634.5" y1="404.7" x2="634.5" y2="402.2" stroke="#777" stroke-width="0.7"/>
<text x="634.5" y="419" font-size="9.2" text-anchor="middle" fill="#222" stroke="#222" stroke-width="0.18">12</text>
<text x="694.2" y="419" font-size="9.2" text-anchor="middle" fill="#222" stroke="#222" stroke-width="0.18">14</text>
<text x="462" y="436.3" font-size="9.3" fill="#222" textLength="46.8" lengthAdjust="spacingAndGlyphs" stroke="#222" stroke-width="0.18">Voltage (V)</text>
<text transform="translate(250.6,350.4) rotate(-90)" font-size="9.2" fill="#222" textLength="53.1" lengthAdjust="spacingAndGlyphs" stroke="#222" stroke-width="0.18">Current (mA)</text>
<text x="288.9" y="396" font-size="7.1" fill="#222" textLength="31.4" lengthAdjust="spacingAndGlyphs" stroke="#222" stroke-width="0.18">FF = 71%</text>
<text x="348.6" y="396" font-size="7.1" fill="#222" textLength="31.4" lengthAdjust="spacingAndGlyphs" stroke="#222" stroke-width="0.18">FF = 71%</text>
<text x="401.4" y="396" font-size="7.1" fill="#222" textLength="31.4" lengthAdjust="spacingAndGlyphs" stroke="#222" stroke-width="0.18">FF = 71%</text>
<text x="460.9" y="396" font-size="7.1" fill="#222" textLength="31.4" lengthAdjust="spacingAndGlyphs" stroke="#222" stroke-width="0.18">FF = 70%</text>
<text x="514.6" y="396" font-size="7.1" fill="#222" textLength="31.4" lengthAdjust="spacingAndGlyphs" stroke="#222" stroke-width="0.18">FF = 71%</text>
<text x="569" y="396" font-size="7.1" fill="#222" textLength="31.4" lengthAdjust="spacingAndGlyphs" stroke="#222" stroke-width="0.18">FF = 70%</text>
<text x="628.7" y="396" font-size="7.1" fill="#222" textLength="31.4" lengthAdjust="spacingAndGlyphs" stroke="#222" stroke-width="0.18">FF = 71%</text>
<polyline points="276.4,263.3 276.6,263.4 276.8,263.4 277,263.4 277.2,263.4 277.4,263.5 277.6,263.5 277.8,263.5 277.9,263.5 278.1,263.5 278.3,263.6 278.5,263.6 278.7,263.6 278.9,263.6 279.1,263.7 279.3,263.7 279.5,263.7 279.7,263.7 279.9,263.8 280.1,263.8 280.3,263.8 280.5,263.8 280.6,263.9 280.8,263.9 281,263.9 281.2,264 281.4,264 281.6,264 281.8,264 282,264.1 282.2,264.1 282.4,264.1 282.6,264.1 282.8,264.2 283,264.2 283.2,264.2 283.3,264.2 283.5,264.3 283.7,264.3 283.9,264.3 284.1,264.4 284.3,264.4 284.5,264.4 284.7,264.4 284.9,264.5 285.1,264.5 285.3,264.5 285.5,264.6 285.7,264.6 285.9,264.6 286.1,264.6 286.2,264.7 286.4,264.7 286.6,264.7 286.8,264.8 287,264.8 287.2,264.8 287.4,264.8 287.6,264.9 287.8,264.9 288,264.9 288.2,265 288.4,265 288.6,265 288.8,265.1 288.9,265.1 289.1,265.1 289.3,265.1 289.5,265.2 289.7,265.2 289.9,265.2 290.1,265.3 290.3,265.3 290.5,265.3 290.7,265.4 290.9,265.4 291.1,265.4 291.3,265.5 291.5,265.5 291.6,265.5 291.8,265.5 292,265.6 292.2,265.6 292.4,265.6 292.6,265.7 292.8,265.7 293,265.7 293.2,265.8 293.4,265.8 293.6,265.8 293.8,265.9 294,265.9 294.2,265.9 294.4,266 294.5,266 294.7,266 294.9,266 295.1,266.1 295.3,266.1 295.5,266.1 295.7,266.2 295.9,266.2 296.1,266.2 296.3,266.2 296.5,266.3 296.7,266.3 296.9,266.3 297.1,266.4 297.2,266.4 297.4,266.4 297.6,266.4 297.8,266.5 298,266.5 298.2,266.5 298.4,266.5 298.6,266.6 298.8,266.6 299,266.6 299.2,266.6 299.4,266.7 299.6,266.7 299.8,266.7 299.9,266.8 300.1,266.8 300.3,266.8 300.5,266.8 300.7,266.9 300.9,266.9 301.1,266.9 301.3,267 301.5,267 301.7,267 301.9,267 302.1,267.1 302.3,267.1 302.5,267.1 302.7,267.2 302.8,267.2 303,267.2 303.2,267.3 303.4,267.3 303.6,267.3 303.8,267.4 304,267.4 304.2,267.4 304.4,267.5 304.6,267.5 304.8,267.6 305,267.6 305.2,267.6 305.4,267.7 305.5,267.7 305.7,267.8 305.9,267.8 306.1,267.9 306.3,267.9 306.5,267.9 306.7,268 306.9,268 307.1,268.1 307.3,268.1 307.5,268.2 307.7,268.2 307.9,268.3 308.1,268.3 308.2,268.4 308.4,268.5 308.6,268.5 308.8,268.6 309,268.6 309.2,268.7 309.4,268.7 309.6,268.8 309.8,268.9 310,268.9 310.2,269 310.4,269.1 310.6,269.1 310.8,269.2 311,269.3 311.1,269.4 311.3,269.5 311.5,269.6 311.7,269.7 311.9,269.8 312.1,269.9 312.3,270 312.5,270.2 312.7,270.3 312.9,270.5 313.1,270.6 313.3,270.8 313.5,271 313.7,271.1 313.8,271.3 314,271.5 314.2,271.7 314.4,271.9 314.6,272.1 314.8,272.3 315,272.5 315.2,272.8 315.4,273 315.6,273.2 315.8,273.5 316,273.7 316.2,274 316.4,274.2 316.5,274.5 316.7,274.8 316.9,275.1 317.1,275.4 317.3,275.7 317.5,276 317.7,276.3 317.9,276.6 318.1,277 318.3,277.5 318.5,277.9 318.7,278.4 318.9,279 319.1,279.5 319.3,280.1 319.4,280.8 319.6,281.4 319.8,282.1 320,282.8 320.2,283.5 320.4,284.3 320.6,285.1 320.8,285.8 321,286.7 321.2,287.5 321.4,288.3 321.6,289.1 321.8,290 322,290.9 322.1,291.9 322.3,292.9 322.5,294 322.7,295.2 322.9,296.4 323.1,297.6 323.3,298.9 323.5,300.2 323.7,301.6 323.9,302.9 324.1,304.2 324.3,305.5 324.5,306.8 324.7,308.1 324.8,309.4 325,310.6 325.2,311.9 325.4,313.1 325.6,314.3 325.8,315.6 326,316.9 326.2,318.2 326.4,319.6 326.6,321.1 326.8,322.6 327,324.2 327.2,325.9 327.4,327.8 327.6,329.9 327.7,332.1 327.9,334.5 328.1,336.9 328.3,339.4 328.5,341.8 328.7,344.3 328.9,346.6 329.1,348.9 329.3,351 329.5,353 329.7,355 329.9,357 330.1,358.9 330.3,360.9 330.4,362.8 330.6,364.7 330.8,366.6 331,368.5 331.2,370.5 331.4,372.5 331.6,374.5 331.8,376.6 332,378.7 332.2,380.8 332.4,382.9 332.6,385.1 332.8,387.3 333,389.5 333.1,391.7 333.3,393.9 333.5,396.1 333.7,398.3 333.9,400.5 334.1,402.6 334.3,404.8" fill="none" stroke="#111111" stroke-width="1.4"/>
<path d="M308.8,267.1 l1.45,1.45 l-1.45,1.45 l-1.45,-1.45 Z M311.5,268.1 l1.45,1.45 l-1.45,1.45 l-1.45,-1.45 Z M313.8,269.9 l1.45,1.45 l-1.45,1.45 l-1.45,-1.45 Z M315.8,272 l1.45,1.45 l-1.45,1.45 l-1.45,-1.45 Z M317.5,274.5 l1.45,1.45 l-1.45,1.45 l-1.45,-1.45 Z M318.7,277 l1.45,1.45 l-1.45,1.45 l-1.45,-1.45 Z M319.6,280 l1.45,1.45 l-1.45,1.45 l-1.45,-1.45 Z M320.4,282.8 l1.45,1.45 l-1.45,1.45 l-1.45,-1.45 Z M321.2,286 l1.45,1.45 l-1.45,1.45 l-1.45,-1.45 Z M322,289.4 l1.45,1.45 l-1.45,1.45 l-1.45,-1.45 Z M322.5,292.6 l1.45,1.45 l-1.45,1.45 l-1.45,-1.45 Z M323.1,296.2 l1.45,1.45 l-1.45,1.45 l-1.45,-1.45 Z M323.7,300.1 l1.45,1.45 l-1.45,1.45 l-1.45,-1.45 Z M324.3,304.1 l1.45,1.45 l-1.45,1.45 l-1.45,-1.45 Z M324.8,307.9 l1.45,1.45 l-1.45,1.45 l-1.45,-1.45 Z M325.4,311.6 l1.45,1.45 l-1.45,1.45 l-1.45,-1.45 Z M326,315.4 l1.45,1.45 l-1.45,1.45 l-1.45,-1.45 Z M326.4,318.2 l1.45,1.45 l-1.45,1.45 l-1.45,-1.45 Z M326.8,321.1 l1.45,1.45 l-1.45,1.45 l-1.45,-1.45 Z M327.2,324.5 l1.45,1.45 l-1.45,1.45 l-1.45,-1.45 Z M327.6,328.4 l1.45,1.45 l-1.45,1.45 l-1.45,-1.45 Z M327.9,333 l1.45,1.45 l-1.45,1.45 l-1.45,-1.45 Z M328.3,337.9 l1.45,1.45 l-1.45,1.45 l-1.45,-1.45 Z M328.7,342.8 l1.45,1.45 l-1.45,1.45 l-1.45,-1.45 Z M329.1,347.4 l1.45,1.45 l-1.45,1.45 l-1.45,-1.45 Z M329.5,351.6 l1.45,1.45 l-1.45,1.45 l-1.45,-1.45 Z M329.9,355.6 l1.45,1.45 l-1.45,1.45 l-1.45,-1.45 Z M330.3,359.4 l1.45,1.45 l-1.45,1.45 l-1.45,-1.45 Z M330.6,363.2 l1.45,1.45 l-1.45,1.45 l-1.45,-1.45 Z M331,367.1 l1.45,1.45 l-1.45,1.45 l-1.45,-1.45 Z M331.4,371 l1.45,1.45 l-1.45,1.45 l-1.45,-1.45 Z M331.8,375.1 l1.45,1.45 l-1.45,1.45 l-1.45,-1.45 Z M332.2,379.3 l1.45,1.45 l-1.45,1.45 l-1.45,-1.45 Z M332.6,383.7 l1.45,1.45 l-1.45,1.45 l-1.45,-1.45 Z M333,388 l1.45,1.45 l-1.45,1.45 l-1.45,-1.45 Z M333.3,392.4 l1.45,1.45 l-1.45,1.45 l-1.45,-1.45 Z M333.7,396.8 l1.45,1.45 l-1.45,1.45 l-1.45,-1.45 Z M334.1,401.2 l1.45,1.45 l-1.45,1.45 l-1.45,-1.45 Z" fill="#111111"/>
<polyline points="276.4,263.3 276.8,263.4 277.2,263.4 277.6,263.4 278,263.4 278.3,263.5 278.7,263.5 279.1,263.5 279.5,263.6 279.9,263.6 280.3,263.6 280.7,263.6 281.1,263.7 281.5,263.7 281.9,263.7 282.2,263.8 282.6,263.8 283,263.8 283.4,263.8 283.8,263.9 284.2,263.9 284.6,263.9 285,264 285.4,264 285.8,264 286.1,264 286.5,264.1 286.9,264.1 287.3,264.1 287.7,264.2 288.1,264.2 288.5,264.2 288.9,264.2 289.3,264.3 289.7,264.3 290,264.3 290.4,264.4 290.8,264.4 291.2,264.4 291.6,264.4 292,264.5 292.4,264.5 292.8,264.5 293.2,264.6 293.6,264.6 293.9,264.6 294.3,264.6 294.7,264.7 295.1,264.7 295.5,264.7 295.9,264.8 296.3,264.8 296.7,264.8 297.1,264.8 297.5,264.9 297.8,264.9 298.2,264.9 298.6,264.9 299,265 299.4,265 299.8,265 300.2,265.1 300.6,265.1 301,265.1 301.3,265.1 301.7,265.2 302.1,265.2 302.5,265.2 302.9,265.3 303.3,265.3 303.7,265.3 304.1,265.3 304.5,265.4 304.9,265.4 305.2,265.4 305.6,265.5 306,265.5 306.4,265.5 306.8,265.5 307.2,265.6 307.6,265.6 308,265.6 308.4,265.7 308.8,265.7 309.1,265.7 309.5,265.7 309.9,265.8 310.3,265.8 310.7,265.8 311.1,265.9 311.5,265.9 311.9,265.9 312.3,265.9 312.7,266 313,266 313.4,266 313.8,266.1 314.2,266.1 314.6,266.1 315,266.1 315.4,266.2 315.8,266.2 316.2,266.2 316.6,266.3 316.9,266.3 317.3,266.3 317.7,266.3 318.1,266.4 318.5,266.4 318.9,266.4 319.3,266.4 319.7,266.5 320.1,266.5 320.4,266.5 320.8,266.5 321.2,266.5 321.6,266.6 322,266.6 322.4,266.6 322.8,266.6 323.2,266.7 323.6,266.7 324,266.7 324.3,266.7 324.7,266.7 325.1,266.7 325.5,266.8 325.9,266.8 326.3,266.8 326.7,266.8 327.1,266.8 327.5,266.9 327.9,266.9 328.2,266.9 328.6,266.9 329,266.9 329.4,266.9 329.8,267 330.2,267 330.6,267 331,267 331.4,267 331.8,267.1 332.1,267.1 332.5,267.1 332.9,267.1 333.3,267.1 333.7,267.1 334.1,267.2 334.5,267.2 334.9,267.2 335.3,267.2 335.7,267.2 336,267.3 336.4,267.3 336.8,267.3 337.2,267.3 337.6,267.3 338,267.4 338.4,267.4 338.8,267.4 339.2,267.4 339.6,267.5 339.9,267.5 340.3,267.5 340.7,267.5 341.1,267.6 341.5,267.6 341.9,267.6 342.3,267.6 342.7,267.7 343.1,267.7 343.4,267.7 343.8,267.7 344.2,267.8 344.6,267.8 345,267.8 345.4,267.9 345.8,267.9 346.2,267.9 346.6,268 347,268 347.3,268 347.7,268.1 348.1,268.1 348.5,268.2 348.9,268.2 349.3,268.2 349.7,268.3 350.1,268.3 350.5,268.4 350.9,268.4 351.2,268.4 351.6,268.5 352,268.5 352.4,268.6 352.8,268.6 353.2,268.7 353.6,268.7 354,268.8 354.4,268.8 354.8,268.9 355.1,269 355.5,269 355.9,269.1 356.3,269.1 356.7,269.2 357.1,269.3 357.5,269.4 357.9,269.5 358.3,269.7 358.7,269.8 359,270 359.4,270.2 359.8,270.4 360.2,270.6 360.6,270.9 361,271.1 361.4,271.4 361.8,271.6 362.2,271.9 362.5,272.2 362.9,272.5 363.3,272.9 363.7,273.2 364.1,273.5 364.5,273.9 364.9,274.2 365.3,274.6 365.7,275 366.1,275.4 366.4,275.7 366.8,276.1 367.2,276.6 367.6,277.1 368,277.6 368.4,278.2 368.8,278.9 369.2,279.6 369.6,280.3 370,281.1 370.3,281.9 370.7,282.7 371.1,283.6 371.5,284.5 371.9,285.4 372.3,286.4 372.7,287.3 373.1,288.3 373.5,289.3 373.9,290.3 374.2,291.3 374.6,292.3 375,293.4 375.4,294.6 375.8,295.8 376.2,297 376.6,298.3 377,299.7 377.4,301 377.8,302.4 378.1,303.9 378.5,305.4 378.9,307 379.3,308.5 379.7,310.2 380.1,312 380.5,313.9 380.9,315.9 381.3,317.9 381.7,320 382,322.2 382.4,324.5 382.8,326.8 383.2,329.3 383.6,331.9 384,334.7 384.4,337.5 384.8,340.3 385.2,343.2 385.5,346 385.9,348.8 386.3,351.5 386.7,354.2 387.1,356.9 387.5,359.5 387.9,362.2 388.3,364.9 388.7,367.6 389.1,370.4 389.4,373.2 389.8,376.2 390.2,379.2 390.6,382.3 391,385.5 391.4,388.7 391.8,391.9 392.2,395.2 392.6,398.4 393,401.6 393.3,404.8" fill="none" stroke="#3c1212" stroke-width="1.4"/>
<path d="M347.3,266.6 l1.45,1.45 l-1.45,1.45 l-1.45,-1.45 Z M350.1,266.9 l1.45,1.45 l-1.45,1.45 l-1.45,-1.45 Z M352.8,267.2 l1.45,1.45 l-1.45,1.45 l-1.45,-1.45 Z M355.5,267.6 l1.45,1.45 l-1.45,1.45 l-1.45,-1.45 Z M358.3,268.2 l1.45,1.45 l-1.45,1.45 l-1.45,-1.45 Z M361,269.7 l1.45,1.45 l-1.45,1.45 l-1.45,-1.45 Z M363.3,271.4 l1.45,1.45 l-1.45,1.45 l-1.45,-1.45 Z M365.7,273.5 l1.45,1.45 l-1.45,1.45 l-1.45,-1.45 Z M367.6,275.6 l1.45,1.45 l-1.45,1.45 l-1.45,-1.45 Z M369.2,278.1 l1.45,1.45 l-1.45,1.45 l-1.45,-1.45 Z M370.7,281.3 l1.45,1.45 l-1.45,1.45 l-1.45,-1.45 Z M371.9,284 l1.45,1.45 l-1.45,1.45 l-1.45,-1.45 Z M373.1,286.9 l1.45,1.45 l-1.45,1.45 l-1.45,-1.45 Z M374.2,289.8 l1.45,1.45 l-1.45,1.45 l-1.45,-1.45 Z M375.4,293.1 l1.45,1.45 l-1.45,1.45 l-1.45,-1.45 Z M376.6,296.9 l1.45,1.45 l-1.45,1.45 l-1.45,-1.45 Z M377.4,299.6 l1.45,1.45 l-1.45,1.45 l-1.45,-1.45 Z M378.1,302.5 l1.45,1.45 l-1.45,1.45 l-1.45,-1.45 Z M378.9,305.5 l1.45,1.45 l-1.45,1.45 l-1.45,-1.45 Z M379.7,308.8 l1.45,1.45 l-1.45,1.45 l-1.45,-1.45 Z M380.5,312.5 l1.45,1.45 l-1.45,1.45 l-1.45,-1.45 Z M381.3,316.5 l1.45,1.45 l-1.45,1.45 l-1.45,-1.45 Z M382,320.8 l1.45,1.45 l-1.45,1.45 l-1.45,-1.45 Z M382.8,325.4 l1.45,1.45 l-1.45,1.45 l-1.45,-1.45 Z M383.6,330.5 l1.45,1.45 l-1.45,1.45 l-1.45,-1.45 Z M384,333.2 l1.45,1.45 l-1.45,1.45 l-1.45,-1.45 Z M384.4,336 l1.45,1.45 l-1.45,1.45 l-1.45,-1.45 Z M384.8,338.9 l1.45,1.45 l-1.45,1.45 l-1.45,-1.45 Z M385.2,341.7 l1.45,1.45 l-1.45,1.45 l-1.45,-1.45 Z M385.5,344.6 l1.45,1.45 l-1.45,1.45 l-1.45,-1.45 Z M385.9,347.4 l1.45,1.45 l-1.45,1.45 l-1.45,-1.45 Z M386.3,350.1 l1.45,1.45 l-1.45,1.45 l-1.45,-1.45 Z M386.7,352.8 l1.45,1.45 l-1.45,1.45 l-1.45,-1.45 Z M387.5,358.1 l1.45,1.45 l-1.45,1.45 l-1.45,-1.45 Z M388.3,363.4 l1.45,1.45 l-1.45,1.45 l-1.45,-1.45 Z M388.7,366.2 l1.45,1.45 l-1.45,1.45 l-1.45,-1.45 Z M389.1,368.9 l1.45,1.45 l-1.45,1.45 l-1.45,-1.45 Z M389.4,371.8 l1.45,1.45 l-1.45,1.45 l-1.45,-1.45 Z M389.8,374.7 l1.45,1.45 l-1.45,1.45 l-1.45,-1.45 Z M390.2,377.8 l1.45,1.45 l-1.45,1.45 l-1.45,-1.45 Z M390.6,380.9 l1.45,1.45 l-1.45,1.45 l-1.45,-1.45 Z M391,384 l1.45,1.45 l-1.45,1.45 l-1.45,-1.45 Z M391.4,387.3 l1.45,1.45 l-1.45,1.45 l-1.45,-1.45 Z M391.8,390.5 l1.45,1.45 l-1.45,1.45 l-1.45,-1.45 Z M392.2,393.7 l1.45,1.45 l-1.45,1.45 l-1.45,-1.45 Z M392.6,397 l1.45,1.45 l-1.45,1.45 l-1.45,-1.45 Z M393,400.2 l1.45,1.45 l-1.45,1.45 l-1.45,-1.45 Z M393.3,403.4 l1.45,1.45 l-1.45,1.45 l-1.45,-1.45 Z" fill="#3c1212"/>
<polyline points="276.4,263.3 277,263.4 277.6,263.4 278.1,263.4 278.7,263.4 279.3,263.5 279.9,263.5 280.5,263.5 281.1,263.6 281.6,263.6 282.2,263.6 282.8,263.6 283.4,263.7 284,263.7 284.6,263.7 285.1,263.8 285.7,263.8 286.3,263.8 286.9,263.8 287.5,263.9 288.1,263.9 288.6,263.9 289.2,264 289.8,264 290.4,264 291,264 291.6,264.1 292.1,264.1 292.7,264.1 293.3,264.2 293.9,264.2 294.5,264.2 295.1,264.2 295.6,264.3 296.2,264.3 296.8,264.3 297.4,264.4 298,264.4 298.6,264.4 299.1,264.4 299.7,264.5 300.3,264.5 300.9,264.5 301.5,264.6 302.1,264.6 302.6,264.6 303.2,264.6 303.8,264.7 304.4,264.7 305,264.7 305.6,264.8 306.1,264.8 306.7,264.8 307.3,264.8 307.9,264.9 308.5,264.9 309.1,264.9 309.6,264.9 310.2,265 310.8,265 311.4,265 312,265.1 312.6,265.1 313.1,265.1 313.7,265.1 314.3,265.2 314.9,265.2 315.5,265.2 316.1,265.3 316.6,265.3 317.2,265.3 317.8,265.3 318.4,265.4 319,265.4 319.6,265.4 320.1,265.5 320.7,265.5 321.3,265.5 321.9,265.5 322.5,265.6 323.1,265.6 323.6,265.6 324.2,265.7 324.8,265.7 325.4,265.7 326,265.7 326.6,265.8 327.1,265.8 327.7,265.8 328.3,265.9 328.9,265.9 329.5,265.9 330.1,265.9 330.6,266 331.2,266 331.8,266 332.4,266 333,266.1 333.6,266.1 334.1,266.1 334.7,266.2 335.3,266.2 335.9,266.2 336.5,266.2 337.1,266.3 337.6,266.3 338.2,266.3 338.8,266.4 339.4,266.4 340,266.4 340.6,266.4 341.1,266.5 341.7,266.5 342.3,266.5 342.9,266.5 343.5,266.6 344.1,266.6 344.6,266.6 345.2,266.6 345.8,266.6 346.4,266.7 347,266.7 347.6,266.7 348.1,266.7 348.7,266.7 349.3,266.8 349.9,266.8 350.5,266.8 351.1,266.8 351.6,266.8 352.2,266.9 352.8,266.9 353.4,266.9 354,266.9 354.6,266.9 355.1,266.9 355.7,267 356.3,267 356.9,267 357.5,267 358.1,267 358.6,267 359.2,267.1 359.8,267.1 360.4,267.1 361,267.1 361.6,267.1 362.1,267.2 362.7,267.2 363.3,267.2 363.9,267.2 364.5,267.2 365.1,267.2 365.6,267.3 366.2,267.3 366.8,267.3 367.4,267.3 368,267.3 368.6,267.3 369.1,267.4 369.7,267.4 370.3,267.4 370.9,267.4 371.5,267.4 372.1,267.5 372.6,267.5 373.2,267.5 373.8,267.5 374.4,267.6 375,267.6 375.6,267.6 376.1,267.6 376.7,267.7 377.3,267.7 377.9,267.7 378.5,267.7 379.1,267.8 379.6,267.8 380.2,267.8 380.8,267.8 381.4,267.9 382,267.9 382.6,267.9 383.1,268 383.7,268 384.3,268 384.9,268.1 385.5,268.1 386.1,268.1 386.6,268.2 387.2,268.2 387.8,268.3 388.4,268.3 389,268.3 389.6,268.4 390.1,268.4 390.7,268.5 391.3,268.5 391.9,268.5 392.5,268.6 393.1,268.6 393.6,268.7 394.2,268.7 394.8,268.8 395.4,268.8 396,268.9 396.6,268.9 397.1,269 397.7,269.1 398.3,269.1 398.9,269.2 399.5,269.2 400.1,269.3 400.6,269.4 401.2,269.5 401.8,269.6 402.4,269.7 403,269.9 403.5,270.1 404.1,270.3 404.7,270.5 405.3,270.7 405.9,271 406.5,271.3 407,271.5 407.6,271.9 408.2,272.2 408.8,272.5 409.4,272.9 410,273.2 410.5,273.6 411.1,274 411.7,274.4 412.3,274.8 412.9,275.3 413.5,275.7 414,276.2 414.6,276.7 415.2,277.3 415.8,278 416.4,278.7 417,279.6 417.5,280.5 418.1,281.4 418.7,282.4 419.3,283.5 419.9,284.5 420.5,285.6 421,286.8 421.6,287.9 422.2,289 422.8,290.2 423.4,291.4 424,292.6 424.5,293.8 425.1,295.2 425.7,296.5 426.3,298 426.9,299.4 427.5,300.9 428,302.5 428.6,304.1 429.2,305.7 429.8,307.3 430.4,309 431,310.8 431.5,312.6 432.1,314.5 432.7,316.5 433.3,318.5 433.9,320.6 434.5,322.8 435,325 435.6,327.4 436.2,329.9 436.8,332.5 437.4,335.3 438,338.1 438.5,340.9 439.1,343.8 439.7,346.6 440.3,349.4 440.9,352.1 441.5,354.8 442,357.4 442.6,360.1 443.2,362.8 443.8,365.4 444.4,368.2 445,371 445.5,373.8 446.1,376.7 446.7,379.7 447.3,382.8 447.9,385.9 448.5,389.1 449,392.2 449.6,395.4 450.2,398.6 450.8,401.7 451.4,404.8" fill="none" stroke="#5a1414" stroke-width="1.4"/>
<path d="M384.3,266.6 l1.45,1.45 l-1.45,1.45 l-1.45,-1.45 Z M387.2,266.8 l1.45,1.45 l-1.45,1.45 l-1.45,-1.45 Z M390.1,267 l1.45,1.45 l-1.45,1.45 l-1.45,-1.45 Z M393.1,267.2 l1.45,1.45 l-1.45,1.45 l-1.45,-1.45 Z M396,267.4 l1.45,1.45 l-1.45,1.45 l-1.45,-1.45 Z M398.9,267.7 l1.45,1.45 l-1.45,1.45 l-1.45,-1.45 Z M401.8,268.1 l1.45,1.45 l-1.45,1.45 l-1.45,-1.45 Z M404.7,269 l1.45,1.45 l-1.45,1.45 l-1.45,-1.45 Z M407.6,270.4 l1.45,1.45 l-1.45,1.45 l-1.45,-1.45 Z M410,271.8 l1.45,1.45 l-1.45,1.45 l-1.45,-1.45 Z M412.3,273.4 l1.45,1.45 l-1.45,1.45 l-1.45,-1.45 Z M414.6,275.2 l1.45,1.45 l-1.45,1.45 l-1.45,-1.45 Z M416.4,277.3 l1.45,1.45 l-1.45,1.45 l-1.45,-1.45 Z M418.1,280 l1.45,1.45 l-1.45,1.45 l-1.45,-1.45 Z M419.9,283.1 l1.45,1.45 l-1.45,1.45 l-1.45,-1.45 Z M421.6,286.5 l1.45,1.45 l-1.45,1.45 l-1.45,-1.45 Z M423.4,289.9 l1.45,1.45 l-1.45,1.45 l-1.45,-1.45 Z M424.5,292.4 l1.45,1.45 l-1.45,1.45 l-1.45,-1.45 Z M425.7,295.1 l1.45,1.45 l-1.45,1.45 l-1.45,-1.45 Z M426.9,298 l1.45,1.45 l-1.45,1.45 l-1.45,-1.45 Z M428,301 l1.45,1.45 l-1.45,1.45 l-1.45,-1.45 Z M429.2,304.2 l1.45,1.45 l-1.45,1.45 l-1.45,-1.45 Z M430.4,307.6 l1.45,1.45 l-1.45,1.45 l-1.45,-1.45 Z M431.5,311.2 l1.45,1.45 l-1.45,1.45 l-1.45,-1.45 Z M432.7,315 l1.45,1.45 l-1.45,1.45 l-1.45,-1.45 Z M433.9,319.2 l1.45,1.45 l-1.45,1.45 l-1.45,-1.45 Z M435,323.6 l1.45,1.45 l-1.45,1.45 l-1.45,-1.45 Z M436.2,328.4 l1.45,1.45 l-1.45,1.45 l-1.45,-1.45 Z M436.8,331.1 l1.45,1.45 l-1.45,1.45 l-1.45,-1.45 Z M437.4,333.8 l1.45,1.45 l-1.45,1.45 l-1.45,-1.45 Z M438,336.6 l1.45,1.45 l-1.45,1.45 l-1.45,-1.45 Z M438.5,339.5 l1.45,1.45 l-1.45,1.45 l-1.45,-1.45 Z M439.1,342.3 l1.45,1.45 l-1.45,1.45 l-1.45,-1.45 Z M439.7,345.2 l1.45,1.45 l-1.45,1.45 l-1.45,-1.45 Z M440.3,347.9 l1.45,1.45 l-1.45,1.45 l-1.45,-1.45 Z M440.9,350.7 l1.45,1.45 l-1.45,1.45 l-1.45,-1.45 Z M441.5,353.3 l1.45,1.45 l-1.45,1.45 l-1.45,-1.45 Z M442,356 l1.45,1.45 l-1.45,1.45 l-1.45,-1.45 Z M442.6,358.6 l1.45,1.45 l-1.45,1.45 l-1.45,-1.45 Z M443.2,361.3 l1.45,1.45 l-1.45,1.45 l-1.45,-1.45 Z M443.8,364 l1.45,1.45 l-1.45,1.45 l-1.45,-1.45 Z M444.4,366.7 l1.45,1.45 l-1.45,1.45 l-1.45,-1.45 Z M445,369.5 l1.45,1.45 l-1.45,1.45 l-1.45,-1.45 Z M445.5,372.3 l1.45,1.45 l-1.45,1.45 l-1.45,-1.45 Z M446.1,375.3 l1.45,1.45 l-1.45,1.45 l-1.45,-1.45 Z M446.7,378.3 l1.45,1.45 l-1.45,1.45 l-1.45,-1.45 Z M447.3,381.3 l1.45,1.45 l-1.45,1.45 l-1.45,-1.45 Z M447.9,384.5 l1.45,1.45 l-1.45,1.45 l-1.45,-1.45 Z M448.5,387.6 l1.45,1.45 l-1.45,1.45 l-1.45,-1.45 Z M449,390.8 l1.45,1.45 l-1.45,1.45 l-1.45,-1.45 Z M449.6,393.9 l1.45,1.45 l-1.45,1.45 l-1.45,-1.45 Z M450.2,397.1 l1.45,1.45 l-1.45,1.45 l-1.45,-1.45 Z M450.8,400.2 l1.45,1.45 l-1.45,1.45 l-1.45,-1.45 Z M451.4,403.4 l1.45,1.45 l-1.45,1.45 l-1.45,-1.45 Z" fill="#5a1414"/>
<polyline points="276.4,263.3 277.2,263.4 277.9,263.4 278.7,263.4 279.5,263.4 280.2,263.4 281,263.5 281.8,263.5 282.5,263.5 283.3,263.5 284.1,263.5 284.8,263.6 285.6,263.6 286.4,263.6 287.1,263.6 287.9,263.7 288.7,263.7 289.4,263.7 290.2,263.7 291,263.8 291.7,263.8 292.5,263.8 293.3,263.8 294,263.9 294.8,263.9 295.6,263.9 296.3,263.9 297.1,264 297.9,264 298.6,264 299.4,264 300.2,264.1 300.9,264.1 301.7,264.1 302.5,264.1 303.2,264.2 304,264.2 304.8,264.2 305.5,264.2 306.3,264.3 307.1,264.3 307.8,264.3 308.6,264.3 309.4,264.4 310.1,264.4 310.9,264.4 311.7,264.5 312.4,264.5 313.2,264.5 314,264.5 314.8,264.6 315.5,264.6 316.3,264.6 317.1,264.6 317.8,264.7 318.6,264.7 319.4,264.7 320.1,264.8 320.9,264.8 321.7,264.8 322.4,264.8 323.2,264.9 324,264.9 324.7,264.9 325.5,265 326.3,265 327,265 327.8,265.1 328.6,265.1 329.3,265.1 330.1,265.1 330.9,265.2 331.6,265.2 332.4,265.2 333.2,265.3 333.9,265.3 334.7,265.3 335.5,265.4 336.2,265.4 337,265.4 337.8,265.5 338.5,265.5 339.3,265.5 340.1,265.5 340.8,265.6 341.6,265.6 342.4,265.6 343.1,265.7 343.9,265.7 344.7,265.7 345.4,265.8 346.2,265.8 347,265.8 347.7,265.9 348.5,265.9 349.3,265.9 350,266 350.8,266 351.6,266 352.3,266.1 353.1,266.1 353.9,266.1 354.6,266.2 355.4,266.2 356.2,266.2 356.9,266.3 357.7,266.3 358.5,266.3 359.2,266.4 360,266.4 360.8,266.4 361.5,266.5 362.3,266.5 363.1,266.5 363.8,266.5 364.6,266.6 365.4,266.6 366.1,266.6 366.9,266.7 367.7,266.7 368.4,266.7 369.2,266.7 370,266.8 370.7,266.8 371.5,266.8 372.3,266.9 373,266.9 373.8,266.9 374.6,266.9 375.3,267 376.1,267 376.9,267 377.6,267 378.4,267.1 379.2,267.1 379.9,267.1 380.7,267.2 381.5,267.2 382.2,267.2 383,267.2 383.8,267.3 384.5,267.3 385.3,267.3 386.1,267.4 386.8,267.4 387.6,267.4 388.4,267.4 389.2,267.5 389.9,267.5 390.7,267.5 391.5,267.6 392.2,267.6 393,267.6 393.8,267.7 394.5,267.7 395.3,267.7 396.1,267.8 396.8,267.8 397.6,267.8 398.4,267.9 399.1,267.9 399.9,267.9 400.7,268 401.4,268 402.2,268.1 403,268.1 403.7,268.1 404.5,268.2 405.3,268.2 406,268.3 406.8,268.3 407.6,268.3 408.3,268.4 409.1,268.4 409.9,268.5 410.6,268.5 411.4,268.6 412.2,268.6 412.9,268.7 413.7,268.7 414.5,268.8 415.2,268.8 416,268.9 416.8,268.9 417.5,269 418.3,269 419.1,269.1 419.8,269.2 420.6,269.2 421.4,269.3 422.1,269.3 422.9,269.4 423.7,269.5 424.4,269.5 425.2,269.6 426,269.7 426.7,269.7 427.5,269.8 428.3,269.9 429,269.9 429.8,270 430.6,270.1 431.3,270.2 432.1,270.2 432.9,270.3 433.6,270.4 434.4,270.5 435.2,270.6 435.9,270.7 436.7,270.8 437.5,270.9 438.2,271.1 439,271.2 439.8,271.4 440.5,271.6 441.3,271.8 442.1,272.1 442.8,272.3 443.6,272.6 444.4,272.8 445.1,273.1 445.9,273.4 446.7,273.7 447.4,274 448.2,274.3 449,274.6 449.7,274.9 450.5,275.2 451.3,275.5 452,275.9 452.8,276.2 453.6,276.5 454.3,276.8 455.1,277.2 455.9,277.5 456.6,277.9 457.4,278.2 458.2,278.6 458.9,279 459.7,279.4 460.5,279.8 461.3,280.3 462,280.7 462.8,281.2 463.6,281.7 464.3,282.1 465.1,282.7 465.9,283.2 466.6,283.7 467.4,284.3 468.2,284.9 468.9,285.5 469.7,286.1 470.5,286.8 471.2,287.5 472,288.3 472.8,289.1 473.5,290 474.3,290.9 475.1,291.9 475.8,293 476.6,294 477.4,295.2 478.1,296.4 478.9,297.6 479.7,298.9 480.4,300.2 481.2,301.5 482,302.9 482.7,304.5 483.5,306.1 484.3,307.8 485,309.6 485.8,311.4 486.6,313.4 487.3,315.4 488.1,317.5 488.9,319.7 489.6,322 490.4,324.4 491.2,327 491.9,329.9 492.7,332.8 493.5,335.9 494.2,339.1 495,342.4 495.8,345.7 496.5,349 497.3,352.3 498.1,355.7 498.8,359.2 499.6,362.8 500.4,366.6 501.1,370.5 501.9,374.7 502.7,379.2 503.4,384.1 504.2,389.3 505,394.5 505.7,399.7 506.5,404.8" fill="none" stroke="#7c1212" stroke-width="1.4"/>
<path d="M402.2,266.6 l1.45,1.45 l-1.45,1.45 l-1.45,-1.45 Z M405.3,266.8 l1.45,1.45 l-1.45,1.45 l-1.45,-1.45 Z M408.3,266.9 l1.45,1.45 l-1.45,1.45 l-1.45,-1.45 Z M411.4,267.1 l1.45,1.45 l-1.45,1.45 l-1.45,-1.45 Z M414.5,267.3 l1.45,1.45 l-1.45,1.45 l-1.45,-1.45 Z M417.5,267.5 l1.45,1.45 l-1.45,1.45 l-1.45,-1.45 Z M420.6,267.8 l1.45,1.45 l-1.45,1.45 l-1.45,-1.45 Z M423.7,268 l1.45,1.45 l-1.45,1.45 l-1.45,-1.45 Z M426.7,268.3 l1.45,1.45 l-1.45,1.45 l-1.45,-1.45 Z M429.8,268.6 l1.45,1.45 l-1.45,1.45 l-1.45,-1.45 Z M432.9,268.9 l1.45,1.45 l-1.45,1.45 l-1.45,-1.45 Z M435.9,269.2 l1.45,1.45 l-1.45,1.45 l-1.45,-1.45 Z M439,269.8 l1.45,1.45 l-1.45,1.45 l-1.45,-1.45 Z M442.1,270.6 l1.45,1.45 l-1.45,1.45 l-1.45,-1.45 Z M445.1,271.7 l1.45,1.45 l-1.45,1.45 l-1.45,-1.45 Z M448.2,272.8 l1.45,1.45 l-1.45,1.45 l-1.45,-1.45 Z M451.3,274.1 l1.45,1.45 l-1.45,1.45 l-1.45,-1.45 Z M454.3,275.4 l1.45,1.45 l-1.45,1.45 l-1.45,-1.45 Z M457.4,276.8 l1.45,1.45 l-1.45,1.45 l-1.45,-1.45 Z M460.5,278.4 l1.45,1.45 l-1.45,1.45 l-1.45,-1.45 Z M463.6,280.2 l1.45,1.45 l-1.45,1.45 l-1.45,-1.45 Z M465.9,281.7 l1.45,1.45 l-1.45,1.45 l-1.45,-1.45 Z M468.2,283.4 l1.45,1.45 l-1.45,1.45 l-1.45,-1.45 Z M470.5,285.3 l1.45,1.45 l-1.45,1.45 l-1.45,-1.45 Z M472.8,287.6 l1.45,1.45 l-1.45,1.45 l-1.45,-1.45 Z M475.1,290.5 l1.45,1.45 l-1.45,1.45 l-1.45,-1.45 Z M477.4,293.7 l1.45,1.45 l-1.45,1.45 l-1.45,-1.45 Z M478.9,296.1 l1.45,1.45 l-1.45,1.45 l-1.45,-1.45 Z M480.4,298.7 l1.45,1.45 l-1.45,1.45 l-1.45,-1.45 Z M482,301.5 l1.45,1.45 l-1.45,1.45 l-1.45,-1.45 Z M483.5,304.6 l1.45,1.45 l-1.45,1.45 l-1.45,-1.45 Z M485,308.1 l1.45,1.45 l-1.45,1.45 l-1.45,-1.45 Z M486.6,311.9 l1.45,1.45 l-1.45,1.45 l-1.45,-1.45 Z M488.1,316.1 l1.45,1.45 l-1.45,1.45 l-1.45,-1.45 Z M489.6,320.5 l1.45,1.45 l-1.45,1.45 l-1.45,-1.45 Z M491.2,325.6 l1.45,1.45 l-1.45,1.45 l-1.45,-1.45 Z M491.9,328.4 l1.45,1.45 l-1.45,1.45 l-1.45,-1.45 Z M492.7,331.4 l1.45,1.45 l-1.45,1.45 l-1.45,-1.45 Z M493.5,334.5 l1.45,1.45 l-1.45,1.45 l-1.45,-1.45 Z M494.2,337.7 l1.45,1.45 l-1.45,1.45 l-1.45,-1.45 Z M495,340.9 l1.45,1.45 l-1.45,1.45 l-1.45,-1.45 Z M495.8,344.2 l1.45,1.45 l-1.45,1.45 l-1.45,-1.45 Z M496.5,347.5 l1.45,1.45 l-1.45,1.45 l-1.45,-1.45 Z M497.3,350.9 l1.45,1.45 l-1.45,1.45 l-1.45,-1.45 Z M498.1,354.3 l1.45,1.45 l-1.45,1.45 l-1.45,-1.45 Z M498.8,357.8 l1.45,1.45 l-1.45,1.45 l-1.45,-1.45 Z M499.6,361.4 l1.45,1.45 l-1.45,1.45 l-1.45,-1.45 Z M500.4,365.1 l1.45,1.45 l-1.45,1.45 l-1.45,-1.45 Z M501.1,369 l1.45,1.45 l-1.45,1.45 l-1.45,-1.45 Z M501.9,373.2 l1.45,1.45 l-1.45,1.45 l-1.45,-1.45 Z M502.7,377.7 l1.45,1.45 l-1.45,1.45 l-1.45,-1.45 Z M503.4,382.6 l1.45,1.45 l-1.45,1.45 l-1.45,-1.45 Z M504.2,387.8 l1.45,1.45 l-1.45,1.45 l-1.45,-1.45 Z M505,393.1 l1.45,1.45 l-1.45,1.45 l-1.45,-1.45 Z M505.7,398.3 l1.45,1.45 l-1.45,1.45 l-1.45,-1.45 Z M506.5,403.4 l1.45,1.45 l-1.45,1.45 l-1.45,-1.45 Z" fill="#7c1212"/>
<polyline points="276.4,263.3 277.6,263.3 278.7,263.3 279.9,263.4 281,263.4 282.2,263.4 283.3,263.4 284.5,263.4 285.6,263.4 286.8,263.4 288,263.4 289.1,263.4 290.3,263.4 291.4,263.5 292.6,263.5 293.7,263.5 294.9,263.5 296,263.5 297.2,263.5 298.4,263.5 299.5,263.6 300.7,263.6 301.8,263.6 303,263.6 304.1,263.6 305.3,263.6 306.4,263.7 307.6,263.7 308.8,263.7 309.9,263.7 311.1,263.7 312.2,263.8 313.4,263.8 314.5,263.8 315.7,263.8 316.8,263.9 318,263.9 319.2,263.9 320.3,263.9 321.5,264 322.6,264 323.8,264 324.9,264 326.1,264.1 327.2,264.1 328.4,264.1 329.6,264.1 330.7,264.2 331.9,264.2 333,264.2 334.2,264.3 335.3,264.3 336.5,264.3 337.7,264.3 338.8,264.4 340,264.4 341.1,264.4 342.3,264.5 343.4,264.5 344.6,264.5 345.7,264.6 346.9,264.6 348.1,264.6 349.2,264.7 350.4,264.7 351.5,264.7 352.7,264.8 353.8,264.8 355,264.8 356.1,264.9 357.3,264.9 358.5,264.9 359.6,265 360.8,265 361.9,265 363.1,265.1 364.2,265.1 365.4,265.1 366.5,265.2 367.7,265.2 368.9,265.3 370,265.3 371.2,265.3 372.3,265.4 373.5,265.4 374.6,265.4 375.8,265.5 376.9,265.5 378.1,265.6 379.3,265.6 380.4,265.6 381.6,265.7 382.7,265.7 383.9,265.7 385,265.8 386.2,265.8 387.3,265.9 388.5,265.9 389.7,265.9 390.8,266 392,266 393.1,266.1 394.3,266.1 395.4,266.1 396.6,266.2 397.7,266.2 398.9,266.3 400.1,266.3 401.2,266.3 402.4,266.4 403.5,266.4 404.7,266.5 405.8,266.5 407,266.5 408.1,266.6 409.3,266.6 410.5,266.7 411.6,266.7 412.8,266.8 413.9,266.8 415.1,266.8 416.2,266.9 417.4,266.9 418.5,267 419.7,267 420.9,267.1 422,267.1 423.2,267.1 424.3,267.2 425.5,267.2 426.6,267.3 427.8,267.3 428.9,267.4 430.1,267.4 431.3,267.5 432.4,267.5 433.6,267.5 434.7,267.6 435.9,267.6 437,267.7 438.2,267.7 439.3,267.8 440.5,267.8 441.7,267.9 442.8,267.9 444,268 445.1,268.1 446.3,268.1 447.4,268.2 448.6,268.2 449.7,268.3 450.9,268.3 452.1,268.4 453.2,268.4 454.4,268.5 455.5,268.6 456.7,268.6 457.8,268.7 459,268.7 460.2,268.8 461.3,268.9 462.5,268.9 463.6,269 464.8,269 465.9,269.1 467.1,269.2 468.2,269.2 469.4,269.3 470.6,269.4 471.7,269.5 472.9,269.5 474,269.6 475.2,269.7 476.3,269.7 477.5,269.8 478.6,269.9 479.8,270 481,270 482.1,270.1 483.3,270.2 484.4,270.3 485.6,270.4 486.7,270.5 487.9,270.5 489,270.6 490.2,270.7 491.4,270.8 492.5,270.9 493.7,271 494.8,271.1 496,271.2 497.1,271.3 498.3,271.3 499.4,271.4 500.6,271.5 501.8,271.6 502.9,271.7 504.1,271.8 505.2,271.9 506.4,272 507.5,272.2 508.7,272.3 509.8,272.4 511,272.5 512.2,272.6 513.3,272.7 514.5,272.8 515.6,272.9 516.8,273 517.9,273.2 519.1,273.3 520.2,273.4 521.4,273.5 522.6,273.6 523.7,273.8 524.9,273.9 526,274 527.2,274.2 528.3,274.3 529.5,274.4 530.6,274.6 531.8,274.7 533,274.9 534.1,275.1 535.3,275.3 536.4,275.5 537.6,275.7 538.7,276 539.9,276.2 541,276.5 542.2,276.8 543.4,277.1 544.5,277.4 545.7,277.7 546.8,278 548,278.4 549.1,278.7 550.3,279.1 551.4,279.4 552.6,279.8 553.8,280.2 554.9,280.6 556.1,281.1 557.2,281.5 558.4,282 559.5,282.5 560.7,283.1 561.8,283.7 563,284.4 564.2,285.1 565.3,285.9 566.5,286.7 567.6,287.5 568.8,288.4 569.9,289.3 571.1,290.2 572.2,291.2 573.4,292.1 574.6,293.1 575.7,294.1 576.9,295.3 578,296.5 579.2,297.7 580.3,299 581.5,300.4 582.7,301.8 583.8,303.2 585,304.7 586.1,306.1 587.3,307.6 588.4,309.1 589.6,310.6 590.7,312.3 591.9,314 593.1,315.9 594.2,317.9 595.4,320 596.5,322.2 597.7,324.6 598.8,327 600,329.5 601.1,332.1 602.3,334.8 603.5,337.6 604.6,340.4 605.8,343.4 606.9,346.5 608.1,349.7 609.2,353.1 610.4,356.6 611.5,360.2 612.7,363.9 613.9,367.7 615,371.7 616.2,376 617.3,380.7 618.5,385.5 619.6,390.4 620.8,395.3 621.9,400.1 623.1,404.8" fill="none" stroke="#c81010" stroke-width="2.6"/>
<path d="M446.3,266.4 l1.75,1.75 l-1.75,1.75 l-1.75,-1.75 Z M449.7,266.5 l1.75,1.75 l-1.75,1.75 l-1.75,-1.75 Z M453.2,266.7 l1.75,1.75 l-1.75,1.75 l-1.75,-1.75 Z M456.7,266.9 l1.75,1.75 l-1.75,1.75 l-1.75,-1.75 Z M460.2,267 l1.75,1.75 l-1.75,1.75 l-1.75,-1.75 Z M463.6,267.2 l1.75,1.75 l-1.75,1.75 l-1.75,-1.75 Z M467.1,267.4 l1.75,1.75 l-1.75,1.75 l-1.75,-1.75 Z M470.6,267.6 l1.75,1.75 l-1.75,1.75 l-1.75,-1.75 Z M474,267.8 l1.75,1.75 l-1.75,1.75 l-1.75,-1.75 Z M477.5,268.1 l1.75,1.75 l-1.75,1.75 l-1.75,-1.75 Z M481,268.3 l1.75,1.75 l-1.75,1.75 l-1.75,-1.75 Z M484.4,268.5 l1.75,1.75 l-1.75,1.75 l-1.75,-1.75 Z M487.9,268.8 l1.75,1.75 l-1.75,1.75 l-1.75,-1.75 Z M491.4,269 l1.75,1.75 l-1.75,1.75 l-1.75,-1.75 Z M494.8,269.3 l1.75,1.75 l-1.75,1.75 l-1.75,-1.75 Z M498.3,269.6 l1.75,1.75 l-1.75,1.75 l-1.75,-1.75 Z M501.8,269.9 l1.75,1.75 l-1.75,1.75 l-1.75,-1.75 Z M505.2,270.2 l1.75,1.75 l-1.75,1.75 l-1.75,-1.75 Z M508.7,270.5 l1.75,1.75 l-1.75,1.75 l-1.75,-1.75 Z M512.2,270.8 l1.75,1.75 l-1.75,1.75 l-1.75,-1.75 Z M515.6,271.2 l1.75,1.75 l-1.75,1.75 l-1.75,-1.75 Z M519.1,271.5 l1.75,1.75 l-1.75,1.75 l-1.75,-1.75 Z M522.6,271.9 l1.75,1.75 l-1.75,1.75 l-1.75,-1.75 Z M526,272.3 l1.75,1.75 l-1.75,1.75 l-1.75,-1.75 Z M529.5,272.7 l1.75,1.75 l-1.75,1.75 l-1.75,-1.75 Z M533,273.2 l1.75,1.75 l-1.75,1.75 l-1.75,-1.75 Z M536.4,273.8 l1.75,1.75 l-1.75,1.75 l-1.75,-1.75 Z M539.9,274.5 l1.75,1.75 l-1.75,1.75 l-1.75,-1.75 Z M543.4,275.3 l1.75,1.75 l-1.75,1.75 l-1.75,-1.75 Z M546.8,276.3 l1.75,1.75 l-1.75,1.75 l-1.75,-1.75 Z M550.3,277.3 l1.75,1.75 l-1.75,1.75 l-1.75,-1.75 Z M553.8,278.5 l1.75,1.75 l-1.75,1.75 l-1.75,-1.75 Z M557.2,279.7 l1.75,1.75 l-1.75,1.75 l-1.75,-1.75 Z M560.7,281.3 l1.75,1.75 l-1.75,1.75 l-1.75,-1.75 Z M564.2,283.4 l1.75,1.75 l-1.75,1.75 l-1.75,-1.75 Z M566.5,285 l1.75,1.75 l-1.75,1.75 l-1.75,-1.75 Z M568.8,286.7 l1.75,1.75 l-1.75,1.75 l-1.75,-1.75 Z M571.1,288.5 l1.75,1.75 l-1.75,1.75 l-1.75,-1.75 Z M573.4,290.4 l1.75,1.75 l-1.75,1.75 l-1.75,-1.75 Z M575.7,292.4 l1.75,1.75 l-1.75,1.75 l-1.75,-1.75 Z M578,294.7 l1.75,1.75 l-1.75,1.75 l-1.75,-1.75 Z M580.3,297.3 l1.75,1.75 l-1.75,1.75 l-1.75,-1.75 Z M582.7,300.1 l1.75,1.75 l-1.75,1.75 l-1.75,-1.75 Z M585,302.9 l1.75,1.75 l-1.75,1.75 l-1.75,-1.75 Z M587.3,305.8 l1.75,1.75 l-1.75,1.75 l-1.75,-1.75 Z M589.6,308.9 l1.75,1.75 l-1.75,1.75 l-1.75,-1.75 Z M591.9,312.3 l1.75,1.75 l-1.75,1.75 l-1.75,-1.75 Z M594.2,316.1 l1.75,1.75 l-1.75,1.75 l-1.75,-1.75 Z M596.5,320.5 l1.75,1.75 l-1.75,1.75 l-1.75,-1.75 Z M598.8,325.2 l1.75,1.75 l-1.75,1.75 l-1.75,-1.75 Z M600,327.7 l1.75,1.75 l-1.75,1.75 l-1.75,-1.75 Z M601.1,330.4 l1.75,1.75 l-1.75,1.75 l-1.75,-1.75 Z M602.3,333 l1.75,1.75 l-1.75,1.75 l-1.75,-1.75 Z M603.5,335.8 l1.75,1.75 l-1.75,1.75 l-1.75,-1.75 Z M604.6,338.7 l1.75,1.75 l-1.75,1.75 l-1.75,-1.75 Z M605.8,341.6 l1.75,1.75 l-1.75,1.75 l-1.75,-1.75 Z M606.9,344.7 l1.75,1.75 l-1.75,1.75 l-1.75,-1.75 Z M608.1,348 l1.75,1.75 l-1.75,1.75 l-1.75,-1.75 Z M609.2,351.3 l1.75,1.75 l-1.75,1.75 l-1.75,-1.75 Z M610.4,354.8 l1.75,1.75 l-1.75,1.75 l-1.75,-1.75 Z M611.5,358.4 l1.75,1.75 l-1.75,1.75 l-1.75,-1.75 Z M612.7,362.1 l1.75,1.75 l-1.75,1.75 l-1.75,-1.75 Z M613.9,366 l1.75,1.75 l-1.75,1.75 l-1.75,-1.75 Z M615,370 l1.75,1.75 l-1.75,1.75 l-1.75,-1.75 Z M616.2,374.3 l1.75,1.75 l-1.75,1.75 l-1.75,-1.75 Z M617.3,378.9 l1.75,1.75 l-1.75,1.75 l-1.75,-1.75 Z M618.5,383.7 l1.75,1.75 l-1.75,1.75 l-1.75,-1.75 Z M619.6,388.6 l1.75,1.75 l-1.75,1.75 l-1.75,-1.75 Z M620.8,393.5 l1.75,1.75 l-1.75,1.75 l-1.75,-1.75 Z M621.9,398.3 l1.75,1.75 l-1.75,1.75 l-1.75,-1.75 Z M623.1,403.1 l1.75,1.75 l-1.75,1.75 l-1.75,-1.75 Z" fill="#c81010"/>
<polyline points="276.4,263.3 277.7,263.3 279.1,263.4 280.4,263.4 281.8,263.4 283.1,263.4 284.4,263.4 285.8,263.4 287.1,263.4 288.4,263.5 289.8,263.5 291.1,263.5 292.5,263.5 293.8,263.5 295.1,263.5 296.5,263.6 297.8,263.6 299.1,263.6 300.5,263.6 301.8,263.6 303.2,263.7 304.5,263.7 305.8,263.7 307.2,263.7 308.5,263.7 309.8,263.8 311.2,263.8 312.5,263.8 313.9,263.8 315.2,263.9 316.5,263.9 317.9,263.9 319.2,263.9 320.5,263.9 321.9,264 323.2,264 324.6,264 325.9,264 327.2,264.1 328.6,264.1 329.9,264.1 331.2,264.1 332.6,264.2 333.9,264.2 335.3,264.2 336.6,264.3 337.9,264.3 339.3,264.3 340.6,264.3 342,264.4 343.3,264.4 344.6,264.4 346,264.5 347.3,264.5 348.6,264.5 350,264.5 351.3,264.6 352.7,264.6 354,264.6 355.3,264.7 356.7,264.7 358,264.7 359.3,264.8 360.7,264.8 362,264.8 363.4,264.8 364.7,264.9 366,264.9 367.4,264.9 368.7,265 370,265 371.4,265 372.7,265.1 374.1,265.1 375.4,265.1 376.7,265.2 378.1,265.2 379.4,265.2 380.7,265.3 382.1,265.3 383.4,265.3 384.8,265.4 386.1,265.4 387.4,265.5 388.8,265.5 390.1,265.5 391.4,265.6 392.8,265.6 394.1,265.6 395.5,265.7 396.8,265.7 398.1,265.7 399.5,265.8 400.8,265.8 402.2,265.8 403.5,265.9 404.8,265.9 406.2,266 407.5,266 408.8,266 410.2,266.1 411.5,266.1 412.9,266.1 414.2,266.2 415.5,266.2 416.9,266.3 418.2,266.3 419.5,266.3 420.9,266.4 422.2,266.4 423.6,266.4 424.9,266.5 426.2,266.5 427.6,266.6 428.9,266.6 430.2,266.6 431.6,266.7 432.9,266.7 434.3,266.7 435.6,266.8 436.9,266.8 438.3,266.9 439.6,266.9 440.9,266.9 442.3,267 443.6,267 445,267.1 446.3,267.1 447.6,267.2 449,267.2 450.3,267.2 451.6,267.3 453,267.3 454.3,267.4 455.7,267.4 457,267.5 458.3,267.5 459.7,267.5 461,267.6 462.4,267.6 463.7,267.7 465,267.7 466.4,267.8 467.7,267.8 469,267.9 470.4,267.9 471.7,268 473.1,268 474.4,268.1 475.7,268.1 477.1,268.2 478.4,268.2 479.7,268.3 481.1,268.3 482.4,268.4 483.8,268.4 485.1,268.5 486.4,268.5 487.8,268.6 489.1,268.6 490.4,268.7 491.8,268.7 493.1,268.8 494.5,268.8 495.8,268.9 497.1,269 498.5,269 499.8,269.1 501.1,269.1 502.5,269.2 503.8,269.3 505.2,269.3 506.5,269.4 507.8,269.4 509.2,269.5 510.5,269.6 511.8,269.6 513.2,269.7 514.5,269.8 515.9,269.8 517.2,269.9 518.5,270 519.9,270 521.2,270.1 522.6,270.2 523.9,270.3 525.2,270.3 526.6,270.4 527.9,270.5 529.2,270.6 530.6,270.6 531.9,270.7 533.3,270.8 534.6,270.9 535.9,270.9 537.3,271 538.6,271.1 539.9,271.2 541.3,271.3 542.6,271.3 544,271.4 545.3,271.5 546.6,271.6 548,271.7 549.3,271.8 550.6,271.9 552,272 553.3,272.1 554.7,272.1 556,272.2 557.3,272.3 558.7,272.4 560,272.5 561.3,272.6 562.7,272.8 564,272.9 565.4,273 566.7,273.1 568,273.3 569.4,273.4 570.7,273.6 572,273.7 573.4,273.9 574.7,274.1 576.1,274.2 577.4,274.4 578.7,274.6 580.1,274.8 581.4,275 582.8,275.2 584.1,275.4 585.4,275.7 586.8,275.9 588.1,276.1 589.4,276.4 590.8,276.7 592.1,277 593.5,277.3 594.8,277.7 596.1,278 597.5,278.4 598.8,278.8 600.1,279.2 601.5,279.6 602.8,280 604.2,280.5 605.5,280.9 606.8,281.4 608.2,281.9 609.5,282.4 610.8,282.9 612.2,283.5 613.5,284.1 614.9,284.8 616.2,285.5 617.5,286.2 618.9,287 620.2,287.8 621.5,288.6 622.9,289.5 624.2,290.4 625.6,291.3 626.9,292.4 628.2,293.5 629.6,294.7 630.9,296 632.2,297.4 633.6,298.9 634.9,300.5 636.3,302.1 637.6,303.9 638.9,305.8 640.3,308 641.6,310.3 643,312.8 644.3,315.4 645.6,318.3 647,321.4 648.3,324.6 649.6,327.9 651,331.3 652.3,334.6 653.7,337.9 655,341.3 656.3,344.7 657.7,348.2 659,351.8 660.3,355.4 661.7,359.1 663,363 664.4,367 665.7,371.1 667,375.1 668.4,379.1 669.7,382.9 671,386.7 672.4,390.3 673.7,393.9 675.1,397.5 676.4,401.1 677.7,404.8" fill="none" stroke="#f01010" stroke-width="2.6"/>
<path d="M473.1,266.3 l1.75,1.75 l-1.75,1.75 l-1.75,-1.75 Z M477.1,266.4 l1.75,1.75 l-1.75,1.75 l-1.75,-1.75 Z M481.1,266.6 l1.75,1.75 l-1.75,1.75 l-1.75,-1.75 Z M485.1,266.7 l1.75,1.75 l-1.75,1.75 l-1.75,-1.75 Z M489.1,266.9 l1.75,1.75 l-1.75,1.75 l-1.75,-1.75 Z M493.1,267 l1.75,1.75 l-1.75,1.75 l-1.75,-1.75 Z M497.1,267.2 l1.75,1.75 l-1.75,1.75 l-1.75,-1.75 Z M501.1,267.4 l1.75,1.75 l-1.75,1.75 l-1.75,-1.75 Z M505.2,267.6 l1.75,1.75 l-1.75,1.75 l-1.75,-1.75 Z M509.2,267.8 l1.75,1.75 l-1.75,1.75 l-1.75,-1.75 Z M513.2,268 l1.75,1.75 l-1.75,1.75 l-1.75,-1.75 Z M517.2,268.2 l1.75,1.75 l-1.75,1.75 l-1.75,-1.75 Z M521.2,268.4 l1.75,1.75 l-1.75,1.75 l-1.75,-1.75 Z M525.2,268.6 l1.75,1.75 l-1.75,1.75 l-1.75,-1.75 Z M529.2,268.8 l1.75,1.75 l-1.75,1.75 l-1.75,-1.75 Z M533.3,269 l1.75,1.75 l-1.75,1.75 l-1.75,-1.75 Z M537.3,269.3 l1.75,1.75 l-1.75,1.75 l-1.75,-1.75 Z M541.3,269.5 l1.75,1.75 l-1.75,1.75 l-1.75,-1.75 Z M545.3,269.8 l1.75,1.75 l-1.75,1.75 l-1.75,-1.75 Z M549.3,270 l1.75,1.75 l-1.75,1.75 l-1.75,-1.75 Z M553.3,270.3 l1.75,1.75 l-1.75,1.75 l-1.75,-1.75 Z M557.3,270.6 l1.75,1.75 l-1.75,1.75 l-1.75,-1.75 Z M561.3,270.9 l1.75,1.75 l-1.75,1.75 l-1.75,-1.75 Z M565.4,271.3 l1.75,1.75 l-1.75,1.75 l-1.75,-1.75 Z M569.4,271.7 l1.75,1.75 l-1.75,1.75 l-1.75,-1.75 Z M573.4,272.2 l1.75,1.75 l-1.75,1.75 l-1.75,-1.75 Z M577.4,272.7 l1.75,1.75 l-1.75,1.75 l-1.75,-1.75 Z M580.1,273.1 l1.75,1.75 l-1.75,1.75 l-1.75,-1.75 Z M582.8,273.5 l1.75,1.75 l-1.75,1.75 l-1.75,-1.75 Z M585.4,273.9 l1.75,1.75 l-1.75,1.75 l-1.75,-1.75 Z M588.1,274.4 l1.75,1.75 l-1.75,1.75 l-1.75,-1.75 Z M590.8,274.9 l1.75,1.75 l-1.75,1.75 l-1.75,-1.75 Z M593.5,275.6 l1.75,1.75 l-1.75,1.75 l-1.75,-1.75 Z M596.1,276.3 l1.75,1.75 l-1.75,1.75 l-1.75,-1.75 Z M598.8,277 l1.75,1.75 l-1.75,1.75 l-1.75,-1.75 Z M601.5,277.8 l1.75,1.75 l-1.75,1.75 l-1.75,-1.75 Z M604.2,278.7 l1.75,1.75 l-1.75,1.75 l-1.75,-1.75 Z M606.8,279.7 l1.75,1.75 l-1.75,1.75 l-1.75,-1.75 Z M609.5,280.6 l1.75,1.75 l-1.75,1.75 l-1.75,-1.75 Z M612.2,281.8 l1.75,1.75 l-1.75,1.75 l-1.75,-1.75 Z M614.9,283 l1.75,1.75 l-1.75,1.75 l-1.75,-1.75 Z M617.5,284.4 l1.75,1.75 l-1.75,1.75 l-1.75,-1.75 Z M620.2,286 l1.75,1.75 l-1.75,1.75 l-1.75,-1.75 Z M622.9,287.7 l1.75,1.75 l-1.75,1.75 l-1.75,-1.75 Z M625.6,289.6 l1.75,1.75 l-1.75,1.75 l-1.75,-1.75 Z M628.2,291.7 l1.75,1.75 l-1.75,1.75 l-1.75,-1.75 Z M630.9,294.2 l1.75,1.75 l-1.75,1.75 l-1.75,-1.75 Z M633.6,297.1 l1.75,1.75 l-1.75,1.75 l-1.75,-1.75 Z M636.3,300.4 l1.75,1.75 l-1.75,1.75 l-1.75,-1.75 Z M638.9,304.1 l1.75,1.75 l-1.75,1.75 l-1.75,-1.75 Z M641.6,308.6 l1.75,1.75 l-1.75,1.75 l-1.75,-1.75 Z M643,311.1 l1.75,1.75 l-1.75,1.75 l-1.75,-1.75 Z M644.3,313.7 l1.75,1.75 l-1.75,1.75 l-1.75,-1.75 Z M645.6,316.6 l1.75,1.75 l-1.75,1.75 l-1.75,-1.75 Z M647,319.6 l1.75,1.75 l-1.75,1.75 l-1.75,-1.75 Z M648.3,322.9 l1.75,1.75 l-1.75,1.75 l-1.75,-1.75 Z M649.6,326.2 l1.75,1.75 l-1.75,1.75 l-1.75,-1.75 Z M651,329.5 l1.75,1.75 l-1.75,1.75 l-1.75,-1.75 Z M652.3,332.9 l1.75,1.75 l-1.75,1.75 l-1.75,-1.75 Z M653.7,336.2 l1.75,1.75 l-1.75,1.75 l-1.75,-1.75 Z M655,339.6 l1.75,1.75 l-1.75,1.75 l-1.75,-1.75 Z M656.3,343 l1.75,1.75 l-1.75,1.75 l-1.75,-1.75 Z M657.7,346.5 l1.75,1.75 l-1.75,1.75 l-1.75,-1.75 Z M659,350 l1.75,1.75 l-1.75,1.75 l-1.75,-1.75 Z M660.3,353.6 l1.75,1.75 l-1.75,1.75 l-1.75,-1.75 Z M661.7,357.3 l1.75,1.75 l-1.75,1.75 l-1.75,-1.75 Z M663,361.2 l1.75,1.75 l-1.75,1.75 l-1.75,-1.75 Z M664.4,365.2 l1.75,1.75 l-1.75,1.75 l-1.75,-1.75 Z M665.7,369.3 l1.75,1.75 l-1.75,1.75 l-1.75,-1.75 Z M667,373.4 l1.75,1.75 l-1.75,1.75 l-1.75,-1.75 Z M668.4,377.4 l1.75,1.75 l-1.75,1.75 l-1.75,-1.75 Z M669.7,381.2 l1.75,1.75 l-1.75,1.75 l-1.75,-1.75 Z M671,384.9 l1.75,1.75 l-1.75,1.75 l-1.75,-1.75 Z M672.4,388.6 l1.75,1.75 l-1.75,1.75 l-1.75,-1.75 Z M673.7,392.2 l1.75,1.75 l-1.75,1.75 l-1.75,-1.75 Z M675.1,395.8 l1.75,1.75 l-1.75,1.75 l-1.75,-1.75 Z M676.4,399.4 l1.75,1.75 l-1.75,1.75 l-1.75,-1.75 Z M677.7,403.1 l1.75,1.75 l-1.75,1.75 l-1.75,-1.75 Z" fill="#f01010"/>
<polygon points="276.4,260.5 277.7,260.5 279.1,260.6 280.4,260.6 281.8,260.6 283.1,260.6 284.4,260.6 285.8,260.7 287.1,260.7 288.4,260.7 289.8,260.7 291.1,260.7 292.5,260.8 293.8,260.8 295.1,260.8 296.5,260.8 297.8,260.9 299.1,260.9 300.5,260.9 301.8,260.9 303.2,261 304.5,261 305.8,261 307.2,261 308.5,261.1 309.8,261.1 311.2,261.1 312.5,261.1 313.9,261.2 315.2,261.2 316.5,261.2 317.9,261.2 319.2,261.3 320.5,261.3 321.9,261.3 323.2,261.4 324.6,261.4 325.9,261.4 327.2,261.4 328.6,261.5 329.9,261.5 331.2,261.5 332.6,261.6 333.9,261.6 335.3,261.6 336.6,261.7 337.9,261.7 339.3,261.7 340.6,261.8 342,261.8 343.3,261.8 344.6,261.8 346,261.9 347.3,261.9 348.6,262 350,262 351.3,262 352.7,262.1 354,262.1 355.3,262.1 356.7,262.2 358,262.2 359.3,262.2 360.7,262.3 362,262.3 363.4,262.3 364.7,262.4 366,262.4 367.4,262.4 368.7,262.5 370,262.5 371.4,262.6 372.7,262.6 374.1,262.6 375.4,262.7 376.7,262.7 378.1,262.7 379.4,262.8 380.7,262.8 382.1,262.9 383.4,262.9 384.8,262.9 386.1,263 387.4,263 388.8,263.1 390.1,263.1 391.4,263.1 392.8,263.2 394.1,263.2 395.5,263.3 396.8,263.3 398.1,263.3 399.5,263.4 400.8,263.4 402.2,263.5 403.5,263.5 404.8,263.5 406.2,263.6 407.5,263.6 408.8,263.7 410.2,263.7 411.5,263.7 412.9,263.8 414.2,263.8 415.5,263.9 416.9,263.9 418.2,264 419.5,264 420.9,264 422.2,264.1 423.6,264.1 424.9,264.2 426.2,264.2 427.6,264.3 428.9,264.3 430.2,264.3 431.6,264.4 432.9,264.4 434.3,264.5 435.6,264.5 436.9,264.6 438.3,264.6 439.6,264.6 440.9,264.7 442.3,264.7 443.6,264.8 445,264.8 446.3,264.9 447.6,264.9 449,265 450.3,265 451.6,265.1 453,265.1 454.3,265.2 455.7,265.2 457,265.2 458.3,265.3 459.7,265.3 461,265.4 462.4,265.4 463.7,265.5 465,265.5 466.4,265.6 467.7,265.6 469,265.7 470.4,265.7 471.7,265.8 473.1,265.9 474.4,265.9 475.7,266 477.1,266 478.4,266.1 479.7,266.1 481.1,266.2 482.4,266.2 483.8,266.3 485.1,266.4 486.4,266.4 487.8,266.5 489.1,266.5 490.4,266.6 491.8,266.6 493.1,266.7 494.5,266.8 495.8,266.8 497.1,266.9 498.5,267 499.8,267 501.1,267.1 502.5,267.1 503.8,267.2 505.2,267.3 506.5,267.3 507.8,267.4 509.2,267.5 510.5,267.5 511.8,267.6 513.2,267.7 514.5,267.8 515.9,267.8 517.2,267.9 518.5,268 519.9,268 521.2,268.1 522.6,268.2 523.9,268.3 525.2,268.4 526.6,268.4 527.9,268.5 529.2,268.6 530.6,268.7 531.9,268.7 533.3,268.8 534.6,268.9 535.9,269 537.3,269.1 538.6,269.2 539.9,269.3 541.3,269.3 542.6,269.4 544,269.5 545.3,269.6 546.6,269.7 548,269.8 549.3,269.9 550.6,270 552,270.1 553.3,270.2 554.7,270.3 556,270.4 557.3,270.5 558.7,270.6 560,270.7 561.3,270.8 562.7,270.9 564,271 565.4,271.2 566.7,271.3 568,271.4 569.4,271.6 570.7,271.8 572,271.9 573.4,272.1 574.7,272.3 576.1,272.4 577.4,272.6 578.7,272.8 580.1,273 581.4,273.2 582.8,273.4 584.1,273.7 585.4,273.9 586.8,274.1 588.1,274.4 589.4,274.6 590.8,274.9 592.1,275.2 593.5,275.6 594.8,275.9 596.1,276.3 597.5,276.6 598.8,277 600.1,277.4 601.5,277.9 602.8,278.3 604.2,278.7 605.5,279.2 606.8,279.7 608.2,280.2 609.5,280.7 610.8,281.2 612.2,281.8 613.5,282.4 614.9,283.1 616.2,283.8 617.5,284.5 618.9,285.3 620.2,286.1 621.5,286.9 622.9,287.8 624.2,288.7 625.6,289.7 626.9,290.7 628.2,291.8 629.6,293.1 630.9,294.4 632.2,295.8 633.6,297.3 634.9,298.8 636.3,300.5 637.6,302.3 638.9,304.2 638.9,307.4 637.6,305.5 636.3,303.7 634.9,302.1 633.6,300.5 632.2,299 630.9,297.6 629.6,296.3 628.2,295.1 626.9,294 625.6,293 624.2,292 622.9,291.1 621.5,290.3 620.2,289.4 618.9,288.6 617.5,287.9 616.2,287.1 614.9,286.5 613.5,285.8 612.2,285.2 610.8,284.6 609.5,284.1 608.2,283.6 606.8,283.1 605.5,282.6 604.2,282.2 602.8,281.7 601.5,281.3 600.1,280.9 598.8,280.5 597.5,280.1 596.1,279.8 594.8,279.4 593.5,279.1 592.1,278.8 590.8,278.5 589.4,278.2 588.1,277.9 586.8,277.7 585.4,277.4 584.1,277.2 582.8,277 581.4,276.8 580.1,276.6 578.7,276.4 577.4,276.2 576.1,276.1 574.7,275.9 573.4,275.7 572,275.6 570.7,275.4 569.4,275.3 568,275.1 566.7,275 565.4,274.9 564,274.7 562.7,274.6 561.3,274.5 560,274.4 558.7,274.3 557.3,274.2 556,274.1 554.7,274 553.3,273.9 552,273.8 550.6,273.8 549.3,273.7 548,273.6 546.6,273.5 545.3,273.4 544,273.3 542.6,273.3 541.3,273.2 539.9,273.1 538.6,273 537.3,273 535.9,272.9 534.6,272.8 533.3,272.7 531.9,272.7 530.6,272.6 529.2,272.5 527.9,272.4 526.6,272.4 525.2,272.3 523.9,272.2 522.6,272.2 521.2,272.1 519.9,272 518.5,272 517.2,271.9 515.9,271.8 514.5,271.8 513.2,271.7 511.8,271.7 510.5,271.6 509.2,271.5 507.8,271.5 506.5,271.4 505.2,271.4 503.8,271.3 502.5,271.3 501.1,271.2 499.8,271.1 498.5,271.1 497.1,271 495.8,271 494.5,270.9 493.1,270.9 491.8,270.8 490.4,270.8 489.1,270.7 487.8,270.7 486.4,270.6 485.1,270.6 483.8,270.5 482.4,270.5 481.1,270.4 479.7,270.4 478.4,270.3 477.1,270.3 475.7,270.2 474.4,270.2 473.1,270.2 471.7,270.1 470.4,270.1 469,270 467.7,270 466.4,269.9 465,269.9 463.7,269.9 462.4,269.8 461,269.8 459.7,269.7 458.3,269.7 457,269.7 455.7,269.6 454.3,269.6 453,269.5 451.6,269.5 450.3,269.5 449,269.4 447.6,269.4 446.3,269.4 445,269.3 443.6,269.3 442.3,269.2 440.9,269.2 439.6,269.2 438.3,269.1 436.9,269.1 435.6,269.1 434.3,269 432.9,269 431.6,269 430.2,268.9 428.9,268.9 427.6,268.9 426.2,268.8 424.9,268.8 423.6,268.8 422.2,268.7 420.9,268.7 419.5,268.7 418.2,268.6 416.9,268.6 415.5,268.6 414.2,268.5 412.9,268.5 411.5,268.5 410.2,268.4 408.8,268.4 407.5,268.4 406.2,268.3 404.8,268.3 403.5,268.3 402.2,268.2 400.8,268.2 399.5,268.2 398.1,268.1 396.8,268.1 395.5,268.1 394.1,268 392.8,268 391.4,268 390.1,267.9 388.8,267.9 387.4,267.9 386.1,267.9 384.8,267.8 383.4,267.8 382.1,267.8 380.7,267.7 379.4,267.7 378.1,267.7 376.7,267.6 375.4,267.6 374.1,267.6 372.7,267.6 371.4,267.5 370,267.5 368.7,267.5 367.4,267.4 366,267.4 364.7,267.4 363.4,267.4 362,267.3 360.7,267.3 359.3,267.3 358,267.3 356.7,267.2 355.3,267.2 354,267.2 352.7,267.1 351.3,267.1 350,267.1 348.6,267.1 347.3,267 346,267 344.6,267 343.3,267 342,267 340.6,266.9 339.3,266.9 337.9,266.9 336.6,266.9 335.3,266.8 333.9,266.8 332.6,266.8 331.2,266.8 329.9,266.7 328.6,266.7 327.2,266.7 325.9,266.7 324.6,266.7 323.2,266.6 321.9,266.6 320.5,266.6 319.2,266.6 317.9,266.6 316.5,266.5 315.2,266.5 313.9,266.5 312.5,266.5 311.2,266.5 309.8,266.5 308.5,266.4 307.2,266.4 305.8,266.4 304.5,266.4 303.2,266.4 301.8,266.4 300.5,266.3 299.1,266.3 297.8,266.3 296.5,266.3 295.1,266.3 293.8,266.3 292.5,266.3 291.1,266.2 289.8,266.2 288.4,266.2 287.1,266.2 285.8,266.2 284.4,266.2 283.1,266.2 281.8,266.2 280.4,266.2 279.1,266.1 277.7,266.1 276.4,266.1" fill="#f20d0d"/>
<line x1="291.4" y1="250.7" x2="309.9" y2="250.7" stroke="#111111" stroke-width="0.9"/>
<path d="M300.6,249.6 l1.1,1.1 l-1.1,1.1 l-1.1,-1.1 Z" fill="#111111"/>
<text x="312.4" y="253.2" font-size="7" fill="#222" textLength="16.5" lengthAdjust="spacingAndGlyphs" stroke="#222" stroke-width="0.18">1 cell</text>
<line x1="333" y1="250.7" x2="351.5" y2="250.7" stroke="#3c1212" stroke-width="0.9"/>
<path d="M342.2,249.6 l1.1,1.1 l-1.1,1.1 l-1.1,-1.1 Z" fill="#3c1212"/>
<text x="354" y="253.2" font-size="7" fill="#222" textLength="21.1" lengthAdjust="spacingAndGlyphs" stroke="#222" stroke-width="0.18">2 cells</text>
<line x1="378.5" y1="250.7" x2="397" y2="250.7" stroke="#5a1414" stroke-width="0.9"/>
<path d="M387.7,249.6 l1.1,1.1 l-1.1,1.1 l-1.1,-1.1 Z" fill="#5a1414"/>
<text x="399.5" y="253.2" font-size="7" fill="#222" textLength="21.1" lengthAdjust="spacingAndGlyphs" stroke="#222" stroke-width="0.18">3 cells</text>
<line x1="424" y1="250.7" x2="442.5" y2="250.7" stroke="#7c1212" stroke-width="0.9"/>
<path d="M433.2,249.6 l1.1,1.1 l-1.1,1.1 l-1.1,-1.1 Z" fill="#7c1212"/>
<text x="445" y="253.2" font-size="7" fill="#222" textLength="21.1" lengthAdjust="spacingAndGlyphs" stroke="#222" stroke-width="0.18">4 cells</text>
<line x1="470.5" y1="250.7" x2="489" y2="250.7" stroke="#a00c0c" stroke-width="0.9"/>
<path d="M479.7,249.6 l1.1,1.1 l-1.1,1.1 l-1.1,-1.1 Z" fill="#a00c0c"/>
<text x="491.5" y="253.2" font-size="7" fill="#222" textLength="21.1" lengthAdjust="spacingAndGlyphs" stroke="#222" stroke-width="0.18">5 cells</text>
<line x1="517" y1="250.7" x2="535.5" y2="250.7" stroke="#c81010" stroke-width="0.9"/>
<path d="M526.2,249.6 l1.1,1.1 l-1.1,1.1 l-1.1,-1.1 Z" fill="#c81010"/>
<text x="538" y="253.2" font-size="7" fill="#222" textLength="21.1" lengthAdjust="spacingAndGlyphs" stroke="#222" stroke-width="0.18">6 cells</text>
<line x1="562.7" y1="250.7" x2="581.2" y2="250.7" stroke="#f01010" stroke-width="0.9"/>
<path d="M571.9,249.6 l1.1,1.1 l-1.1,1.1 l-1.1,-1.1 Z" fill="#f01010"/>
<text x="583.7" y="253.2" font-size="7" fill="#222" textLength="21.1" lengthAdjust="spacingAndGlyphs" stroke="#222" stroke-width="0.18">7 cells</text>
</svg>
</body></html>
